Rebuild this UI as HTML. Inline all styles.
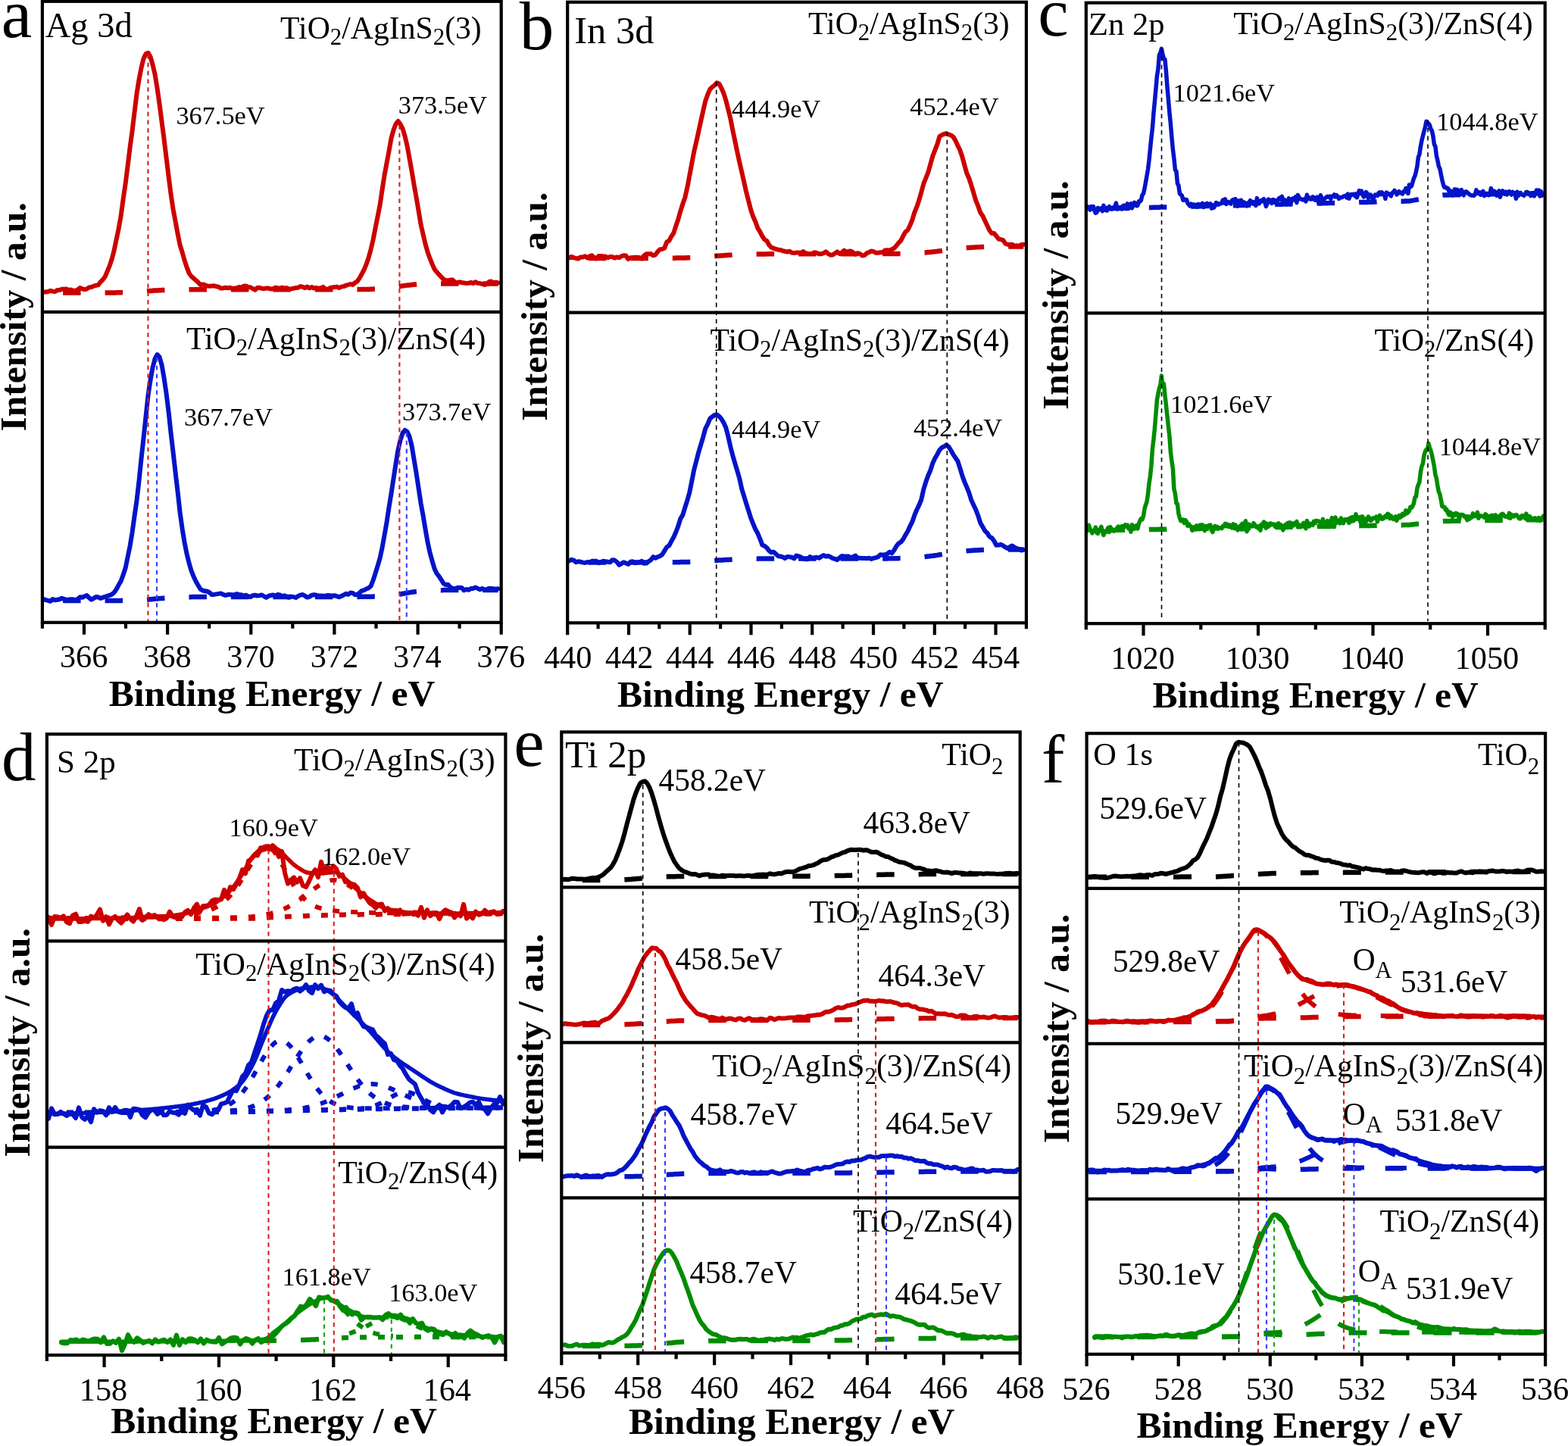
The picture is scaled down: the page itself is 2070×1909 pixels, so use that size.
<!DOCTYPE html>
<html><head><meta charset="utf-8"><title>XPS spectra</title><style>html,body{margin:0;padding:0;background:#fff;overflow:hidden}svg{display:block}</style></head><body><svg width="2070" height="1909" viewBox="0 0 2070 1909" font-family="'Liberation Serif', 'Times New Roman', serif"><rect width="2070" height="1909" fill="#fff"/>
<path d="M57.6 386.5L59.6 386.5L61.6 386.5L63.6 386.5L65.6 386.5L67.6 386.5L69.6 386.5L71.6 386.5L73.6 386.5L75.6 386.5L77.6 386.5L79.6 386.5L81.6 386.5L83.6 386.5L85.6 386.5L87.6 386.5L89.6 386.5L91.6 386.5L93.6 386.5L95.6 386.5L97.6 386.5L99.6 386.5L101.6 386.5L103.6 386.5L105.6 386.5L107.6 386.5L109.6 386.5L111.6 386.5L113.6 386.5L115.6 386.5L117.6 386.5L119.6 386.5L121.6 386.5L123.6 386.5L125.6 386.5L127.6 386.5L129.6 386.5L131.6 386.5L133.6 386.5L135.6 386.5L137.6 386.5L139.6 386.5L141.6 386.4L143.6 386.4L145.6 386.4L147.6 386.4L149.6 386.4L151.6 386.4L153.6 386.3L155.6 386.3L157.6 386.2L159.6 386.2L161.6 386.1L163.6 386.1L165.6 386L167.6 385.9L169.6 385.9L171.6 385.8L173.6 385.7L175.6 385.6L177.6 385.5L179.6 385.3L181.6 385.2L183.6 385.1L185.6 384.9L187.6 384.8L189.6 384.7L191.6 384.5L193.6 384.4L195.6 384.2L197.6 384.1L199.6 383.9L201.6 383.8L203.6 383.6L205.6 383.5L207.6 383.4L209.6 383.3L211.6 383.2L213.6 383.1L215.6 383L217.6 382.9L219.6 382.8L221.6 382.7L223.6 382.7L225.6 382.6L227.6 382.5L229.6 382.5L231.6 382.5L233.6 382.4L235.6 382.4L237.6 382.4L239.6 382.3L241.6 382.3L243.6 382.3L245.6 382.3L247.6 382.3L249.6 382.3L251.6 382.3L253.6 382.3L255.6 382.2L257.6 382.2L259.6 382.2L261.6 382.2L263.6 382.2L265.6 382.2L267.6 382.2L269.6 382.2L271.6 382.2L273.6 382.2L275.6 382.2L277.6 382.2L279.6 382.2L281.6 382.2L283.6 382.2L285.6 382.2L287.6 382.2L289.6 382.2L291.6 382.2L293.6 382.2L295.6 382.2L297.6 382.2L299.6 382.2L301.6 382.2L303.6 382.2L305.6 382.2L307.6 382.2L309.6 382.2L311.6 382.2L313.6 382.2L315.6 382.2L317.6 382.2L319.6 382.2L321.6 382.2L323.6 382.2L325.6 382.2L327.6 382.2L329.6 382.2L331.6 382.2L333.6 382.2L335.6 382.2L337.6 382.2L339.6 382.2L341.6 382.2L343.6 382.2L345.6 382.2L347.6 382.2L349.6 382.2L351.6 382.2L353.6 382.2L355.6 382.2L357.6 382.2L359.6 382.2L361.6 382.2L363.6 382.2L365.6 382.2L367.6 382.2L369.6 382.2L371.6 382.2L373.6 382.2L375.6 382.2L377.6 382.2L379.6 382.2L381.6 382.2L383.6 382.2L385.6 382.2L387.6 382.2L389.6 382.2L391.6 382.2L393.6 382.2L395.6 382.2L397.6 382.2L399.6 382.2L401.6 382.2L403.6 382.2L405.6 382.2L407.6 382.2L409.6 382.2L411.6 382.2L413.6 382.2L415.6 382.2L417.6 382.2L419.6 382.2L421.6 382.2L423.6 382.2L425.6 382.2L427.6 382.2L429.6 382.2L431.6 382.2L433.6 382.2L435.6 382.2L437.6 382.2L439.6 382.2L441.6 382.2L443.6 382.2L445.6 382.2L447.6 382.2L449.6 382.2L451.6 382.2L453.6 382.2L455.6 382.2L457.6 382.2L459.6 382.2L461.6 382.2L463.6 382.2L465.6 382.2L467.6 382.2L469.6 382.2L471.6 382.2L473.6 382.1L475.6 382.1L477.6 382.1L479.6 382.1L481.6 382L483.6 382L485.6 381.9L487.6 381.9L489.6 381.8L491.6 381.7L493.6 381.6L495.6 381.5L497.6 381.4L499.6 381.3L501.6 381.1L503.6 381L505.6 380.8L507.6 380.6L509.6 380.4L511.6 380.1L513.6 379.9L515.6 379.6L517.6 379.4L519.6 379.1L521.6 378.8L523.6 378.5L525.6 378.2L527.6 377.9L529.6 377.7L531.6 377.4L533.6 377.1L535.6 376.9L537.6 376.6L539.6 376.4L541.6 376.2L543.6 376L545.6 375.8L547.6 375.6L549.6 375.5L551.6 375.3L553.6 375.2L555.6 375.1L557.6 375L559.6 374.9L561.6 374.9L563.6 374.8L565.6 374.8L567.6 374.7L569.6 374.7L571.6 374.6L573.6 374.6L575.6 374.6L577.6 374.6L579.6 374.6L581.6 374.6L583.6 374.6L585.6 374.5L587.6 374.5L589.6 374.5L591.6 374.5L593.6 374.5L595.6 374.5L597.6 374.5L599.6 374.5L601.6 374.5L603.6 374.5L605.6 374.5L607.6 374.5L609.6 374.5L611.6 374.5L613.6 374.5L615.6 374.5L617.6 374.5L619.6 374.5L621.6 374.5L623.6 374.5L625.6 374.5L627.6 374.5L629.6 374.5L631.6 374.5L633.6 374.5L635.6 374.5L637.6 374.5L639.6 374.5L641.6 374.5L643.6 374.5L645.6 374.5L647.6 374.5L649.6 374.5L651.6 374.5L653.6 374.5L655.6 374.5L657.6 374.5" fill="none" stroke="#cc0000" stroke-width="6.5" stroke-linejoin="round" stroke-linecap="butt" stroke-dasharray="23.5 32" stroke-dashoffset="30"/>
<path d="M57.6 385.5L60.6 385.5L63.6 384.8L66.6 383.8L69.6 384.6L72.6 385L75.6 383.1L78.6 383L81.6 381.7L84.6 381.7L87.6 381.6L90.6 382.9L93.6 382.4L96.6 383.7L99.6 383.7L102.6 382.4L105.6 380L108.6 381.4L111.6 382.2L114.6 381.5L117.6 379.4L120.6 379.1L123.6 377.7L126.6 376.8L129.6 376.4L132.6 372.3L135.6 369.3L138.6 365.5L141.6 358.4L144.6 351.1L147.6 342.3L150.6 330.7L153.6 316.3L156.6 302.2L159.6 285.3L162.6 263.1L165.6 242.9L168.6 219.2L171.6 194.6L174.6 172.6L177.6 147.6L180.6 123.2L183.6 104.6L186.6 89.2L189.6 77.1L192.6 71.1L195.6 69.8L198.6 75.2L201.6 85.6L204.6 98.2L207.6 116.8L210.6 137.7L213.6 161L216.6 183.9L219.6 208.4L222.6 232.8L225.6 256.3L228.6 276.5L231.6 292.3L234.6 308.6L237.6 323.5L240.6 333L243.6 343.8L246.6 352.8L249.6 360.6L252.6 364.9L255.6 367.4L258.6 370L261.6 372.8L264.6 376L267.6 375.5L270.6 376.2L273.6 377.5L276.6 377.7L279.6 377.6L282.6 377.2L285.6 378.3L288.6 378.8L291.6 380.6L294.6 380.4L297.6 379.8L300.6 380.3L303.6 379.8L306.6 380.9L309.6 380.4L312.6 380.3L315.6 378.9L318.6 379.7L321.6 377.8L324.6 377.4L327.6 379.1L330.6 379.3L333.6 381L336.6 382.8L339.6 380L342.6 379.7L345.6 380.8L348.6 381.2L351.6 380.5L354.6 380.6L357.6 381.6L360.6 381.2L363.6 379.7L366.6 380.3L369.6 380.4L372.6 379.6L375.6 380.5L378.6 380.1L381.6 381.6L384.6 381.2L387.6 380.7L390.6 380L393.6 379.8L396.6 378L399.6 378.9L402.6 380.1L405.6 378.5L408.6 380.4L411.6 379L414.6 380.6L417.6 379.9L420.6 381L423.6 380.2L426.6 378.9L429.6 381.5L432.6 382L435.6 380.2L438.6 379.4L441.6 379.1L444.6 378.6L447.6 380.1L450.6 378.6L453.6 378.1L456.6 376.9L459.6 376L462.6 375L465.6 375.9L468.6 373.4L471.6 371.5L474.6 367.1L477.6 361.7L480.6 356.1L483.6 348.8L486.6 340.3L489.6 329.3L492.6 316.4L495.6 300.9L498.6 285.8L501.6 270.6L504.6 250.3L507.6 231.1L510.6 214.8L513.6 199L516.6 182.1L519.6 171.4L522.6 163.6L525.6 160L528.6 164L531.6 170.1L534.6 179.9L537.6 192.7L540.6 209.4L543.6 226L546.6 243.9L549.6 260.7L552.6 278.2L555.6 296.4L558.6 309.6L561.6 322.4L564.6 332.9L567.6 341.2L570.6 348.6L573.6 355.4L576.6 359.2L579.6 362.6L582.6 365.7L585.6 368.9L588.6 370L591.6 370.2L594.6 369.6L597.6 369.6L600.6 372.4L603.6 373.1L606.6 372.3L609.6 373L612.6 373.6L615.6 373.9L618.6 373.8L621.6 372.9L624.6 374.1L627.6 372.2L630.6 373.8L633.6 374.1L636.6 374.8L639.6 376L642.6 375.1L645.6 372L648.6 371.4L651.6 373.6L654.6 372.5L657.6 373.4" fill="none" stroke="#cc0000" stroke-width="6.0" stroke-linejoin="round" stroke-linecap="round"/>
<path d="M57.6 793L59.6 793L61.6 793L63.6 793L65.6 793L67.6 793L69.6 793L71.6 793L73.6 793L75.6 793L77.6 793L79.6 793L81.6 793L83.6 793L85.6 793L87.6 793L89.6 793L91.6 793L93.6 793L95.6 793L97.6 793L99.6 793L101.6 793L103.6 793L105.6 793L107.6 793L109.6 793L111.6 793L113.6 793L115.6 793L117.6 793L119.6 793L121.6 793L123.6 793L125.6 793L127.6 793L129.6 793L131.6 793L133.6 793L135.6 792.9L137.6 792.9L139.6 792.9L141.6 792.9L143.6 792.9L145.6 792.9L147.6 792.9L149.6 792.9L151.6 792.9L153.6 792.9L155.6 792.9L157.6 792.9L159.6 792.9L161.6 792.8L163.6 792.8L165.6 792.8L167.6 792.8L169.6 792.7L171.6 792.7L173.6 792.6L175.6 792.6L177.6 792.5L179.6 792.5L181.6 792.4L183.6 792.3L185.6 792.2L187.6 792.1L189.6 791.9L191.6 791.8L193.6 791.7L195.6 791.5L197.6 791.3L199.6 791.2L201.6 791L203.6 790.8L205.6 790.6L207.6 790.4L209.6 790.2L211.6 790.1L213.6 789.9L215.6 789.7L217.6 789.5L219.6 789.4L221.6 789.2L223.6 789.1L225.6 789L227.6 788.9L229.6 788.8L231.6 788.7L233.6 788.6L235.6 788.5L237.6 788.4L239.6 788.4L241.6 788.3L243.6 788.3L245.6 788.2L247.6 788.2L249.6 788.2L251.6 788.2L253.6 788.1L255.6 788.1L257.6 788.1L259.6 788.1L261.6 788.1L263.6 788.1L265.6 788.1L267.6 788.1L269.6 788.1L271.6 788.1L273.6 788.1L275.6 788.1L277.6 788.1L279.6 788.1L281.6 788.1L283.6 788L285.6 788L287.6 788L289.6 788L291.6 788L293.6 788L295.6 788L297.6 788L299.6 788L301.6 788L303.6 788L305.6 788L307.6 788L309.6 788L311.6 788L313.6 788L315.6 788L317.6 788L319.6 788L321.6 788L323.6 788L325.6 788L327.6 788L329.6 788L331.6 788L333.6 788L335.6 788L337.6 788L339.6 788L341.6 788L343.6 788L345.6 788L347.6 788L349.6 788L351.6 788L353.6 788L355.6 788L357.6 788L359.6 788L361.6 788L363.6 788L365.6 788L367.6 788L369.6 788L371.6 788L373.6 788L375.6 788L377.6 788L379.6 788L381.6 788L383.6 788L385.6 788L387.6 788L389.6 788L391.6 788L393.6 788L395.6 788L397.6 788L399.6 788L401.6 788L403.6 788L405.6 788L407.6 788L409.6 788L411.6 788L413.6 788L415.6 787.9L417.6 787.9L419.6 787.9L421.6 787.9L423.6 787.9L425.6 787.9L427.6 787.9L429.6 787.9L431.6 787.9L433.6 787.9L435.6 787.9L437.6 787.9L439.6 787.9L441.6 787.9L443.6 787.9L445.6 787.9L447.6 787.9L449.6 787.9L451.6 787.9L453.6 787.9L455.6 787.9L457.6 787.9L459.6 787.9L461.6 787.9L463.6 787.9L465.6 787.9L467.6 787.9L469.6 787.9L471.6 787.9L473.6 787.9L475.6 787.8L477.6 787.8L479.6 787.8L481.6 787.8L483.6 787.8L485.6 787.8L487.6 787.8L489.6 787.7L491.6 787.7L493.6 787.6L495.6 787.6L497.6 787.5L499.6 787.5L501.6 787.4L503.6 787.3L505.6 787.2L507.6 787L509.6 786.9L511.6 786.7L513.6 786.5L515.6 786.3L517.6 786.1L519.6 785.8L521.6 785.5L523.6 785.2L525.6 784.9L527.6 784.5L529.6 784.2L531.6 783.8L533.6 783.5L535.6 783.1L537.6 782.8L539.6 782.4L541.6 782.1L543.6 781.7L545.6 781.4L547.6 781.2L549.6 780.9L551.6 780.7L553.6 780.4L555.6 780.2L557.6 780.1L559.6 779.9L561.6 779.8L563.6 779.7L565.6 779.6L567.6 779.5L569.6 779.4L571.6 779.3L573.6 779.3L575.6 779.3L577.6 779.2L579.6 779.2L581.6 779.2L583.6 779.2L585.6 779.1L587.6 779.1L589.6 779.1L591.6 779.1L593.6 779.1L595.6 779.1L597.6 779.1L599.6 779.1L601.6 779.1L603.6 779.1L605.6 779.1L607.6 779.1L609.6 779.1L611.6 779.1L613.6 779L615.6 779L617.6 779L619.6 779L621.6 779L623.6 779L625.6 779L627.6 779L629.6 779L631.6 779L633.6 779L635.6 779L637.6 779L639.6 779L641.6 779L643.6 779L645.6 779L647.6 779L649.6 779L651.6 779L653.6 779L655.6 779L657.6 779" fill="none" stroke="#0414c8" stroke-width="6.5" stroke-linejoin="round" stroke-linecap="butt" stroke-dasharray="23.5 32" stroke-dashoffset="30"/>
<path d="M57.6 791.2L60.6 792.2L63.6 792.9L66.6 793.8L69.6 791L72.6 792.3L75.6 791.8L78.6 791.2L81.6 789.8L84.6 790.8L87.6 792.1L90.6 791.5L93.6 791.3L96.6 791.2L99.6 792.3L102.6 790.7L105.6 788.2L108.6 788.8L111.6 787.3L114.6 786.1L117.6 789.2L120.6 791.5L123.6 790L126.6 788.1L129.6 788.3L132.6 790L135.6 788.9L138.6 787.8L141.6 786.8L144.6 785.8L147.6 784.8L150.6 782.2L153.6 778L156.6 772.3L159.6 767.3L162.6 759L165.6 750L168.6 735.5L171.6 720.8L174.6 702.7L177.6 681L180.6 660.2L183.6 634.2L186.6 604.9L189.6 577.6L192.6 549.4L195.6 521.3L198.6 501.6L201.6 484.9L204.6 473.4L207.6 468.1L210.6 471.5L213.6 482L216.6 499.3L219.6 519.5L222.6 543.9L225.6 571.7L228.6 597.4L231.6 623.9L234.6 649.2L237.6 676.4L240.6 697.9L243.6 716.1L246.6 731.3L249.6 743.4L252.6 753.6L255.6 761.2L258.6 767.5L261.6 772.9L264.6 777.8L267.6 779.5L270.6 780.3L273.6 780.8L276.6 782.2L279.6 785.1L282.6 784.9L285.6 784.4L288.6 783.9L291.6 783.4L294.6 784.9L297.6 786L300.6 785.1L303.6 785.1L306.6 785.3L309.6 785.3L312.6 784L315.6 785L318.6 785.2L321.6 786.6L324.6 785.7L327.6 787.1L330.6 788.1L333.6 786.2L336.6 785.7L339.6 786.5L342.6 786.2L345.6 785.5L348.6 787.3L351.6 788.9L354.6 786.8L357.6 786L360.6 785.5L363.6 786.4L366.6 785L369.6 785.4L372.6 787.6L375.6 786.3L378.6 788.1L381.6 788.8L384.6 787.6L387.6 788L390.6 789L393.6 786.9L396.6 785.6L399.6 785L402.6 786.7L405.6 788.6L408.6 787.9L411.6 785.6L414.6 785.2L417.6 785.8L420.6 786.6L423.6 786.4L426.6 786.7L429.6 786.7L432.6 786L435.6 786.2L438.6 786.4L441.6 786.2L444.6 787.1L447.6 788.3L450.6 787L453.6 785.5L456.6 783.8L459.6 784.8L462.6 782.6L465.6 782.9L468.6 785.2L471.6 784.9L474.6 782.7L477.6 779.9L480.6 779.3L483.6 777.5L486.6 776.3L489.6 773.7L492.6 766L495.6 756.8L498.6 747.1L501.6 736.8L504.6 722.9L507.6 706.2L510.6 689L513.6 669.1L516.6 651L519.6 631.3L522.6 611.8L525.6 593.6L528.6 580.9L531.6 571.7L534.6 567.9L537.6 569.9L540.6 576.4L543.6 588.8L546.6 606.8L549.6 624.7L552.6 644.6L555.6 664.5L558.6 680.9L561.6 699L564.6 716L567.6 729.8L570.6 740.6L573.6 750.9L576.6 757.2L579.6 760.9L582.6 765.5L585.6 770.4L588.6 772.1L591.6 771.8L594.6 775.7L597.6 776.7L600.6 777.4L603.6 776.1L606.6 775.8L609.6 776.1L612.6 779.4L615.6 778L618.6 778.8L621.6 777.1L624.6 776.9L627.6 775.5L630.6 776.9L633.6 778.3L636.6 776.9L639.6 778.7L642.6 778.2L645.6 776.7L648.6 776.9L651.6 777.3L654.6 777.7L657.6 777.2" fill="none" stroke="#0414c8" stroke-width="6.0" stroke-linejoin="round" stroke-linecap="round"/>
<line x1="195.5" y1="72" x2="195.5" y2="820" stroke="#d42020" stroke-width="2.1" stroke-dasharray="5.8 5"/>
<line x1="527.4" y1="165" x2="527.4" y2="820" stroke="#d42020" stroke-width="2.1" stroke-dasharray="5.8 5"/>
<line x1="207" y1="472" x2="207" y2="820" stroke="#3c3cff" stroke-width="2.1" stroke-dasharray="5.8 5"/>
<line x1="536.8" y1="571" x2="536.8" y2="820" stroke="#3c3cff" stroke-width="2.1" stroke-dasharray="5.8 5"/>
<path d="M751.3 341L753.3 341L755.3 341L757.3 341L759.3 341L761.3 341L763.3 341L765.3 341L767.3 341L769.3 341L771.3 341L773.3 341L775.3 341L777.3 341L779.3 341L781.3 341L783.3 341L785.3 341L787.3 341L789.3 341L791.3 341L793.3 341L795.3 341L797.3 341L799.3 341L801.3 340.9L803.3 340.9L805.3 340.9L807.3 340.9L809.3 340.9L811.3 340.9L813.3 340.9L815.3 340.9L817.3 340.9L819.3 340.9L821.3 340.9L823.3 340.9L825.3 340.9L827.3 340.9L829.3 340.9L831.3 340.9L833.3 340.9L835.3 340.9L837.3 340.9L839.3 340.9L841.3 340.9L843.3 340.9L845.3 340.9L847.3 340.9L849.3 340.9L851.3 340.9L853.3 340.9L855.3 340.9L857.3 340.9L859.3 340.9L861.3 340.9L863.3 340.9L865.3 340.9L867.3 340.9L869.3 340.8L871.3 340.8L873.3 340.8L875.3 340.8L877.3 340.8L879.3 340.8L881.3 340.8L883.3 340.8L885.3 340.7L887.3 340.7L889.3 340.7L891.3 340.7L893.3 340.6L895.3 340.6L897.3 340.6L899.3 340.5L901.3 340.5L903.3 340.4L905.3 340.4L907.3 340.3L909.3 340.2L911.3 340.1L913.3 340.1L915.3 340L917.3 339.9L919.3 339.8L921.3 339.7L923.3 339.5L925.3 339.4L927.3 339.3L929.3 339.2L931.3 339L933.3 338.9L935.3 338.7L937.3 338.6L939.3 338.4L941.3 338.3L943.3 338.1L945.3 338L947.3 337.8L949.3 337.7L951.3 337.5L953.3 337.4L955.3 337.2L957.3 337.1L959.3 336.9L961.3 336.8L963.3 336.7L965.3 336.6L967.3 336.4L969.3 336.3L971.3 336.2L973.3 336.1L975.3 336.1L977.3 336L979.3 335.9L981.3 335.8L983.3 335.8L985.3 335.7L987.3 335.7L989.3 335.6L991.3 335.6L993.3 335.5L995.3 335.5L997.3 335.5L999.3 335.5L1001.3 335.4L1003.3 335.4L1005.3 335.4L1007.3 335.4L1009.3 335.4L1011.3 335.4L1013.3 335.3L1015.3 335.3L1017.3 335.3L1019.3 335.3L1021.3 335.3L1023.3 335.3L1025.3 335.3L1027.3 335.3L1029.3 335.3L1031.3 335.3L1033.3 335.3L1035.3 335.3L1037.3 335.3L1039.3 335.3L1041.3 335.3L1043.3 335.3L1045.3 335.3L1047.3 335.3L1049.3 335.3L1051.3 335.3L1053.3 335.3L1055.3 335.3L1057.3 335.2L1059.3 335.2L1061.3 335.2L1063.3 335.2L1065.3 335.2L1067.3 335.2L1069.3 335.2L1071.3 335.2L1073.3 335.2L1075.3 335.2L1077.3 335.2L1079.3 335.2L1081.3 335.2L1083.3 335.2L1085.3 335.2L1087.3 335.2L1089.3 335.2L1091.3 335.2L1093.3 335.2L1095.3 335.2L1097.3 335.2L1099.3 335.2L1101.3 335.2L1103.3 335.2L1105.3 335.2L1107.3 335.2L1109.3 335.2L1111.3 335.2L1113.3 335.2L1115.3 335.2L1117.3 335.2L1119.3 335.2L1121.3 335.2L1123.3 335.2L1125.3 335.2L1127.3 335.2L1129.3 335.2L1131.3 335.1L1133.3 335.1L1135.3 335.1L1137.3 335.1L1139.3 335.1L1141.3 335.1L1143.3 335.1L1145.3 335.1L1147.3 335.1L1149.3 335.1L1151.3 335.1L1153.3 335.1L1155.3 335.1L1157.3 335.1L1159.3 335.1L1161.3 335.1L1163.3 335.1L1165.3 335.1L1167.3 335.1L1169.3 335.1L1171.3 335.1L1173.3 335L1175.3 335L1177.3 335L1179.3 335L1181.3 335L1183.3 335L1185.3 334.9L1187.3 334.9L1189.3 334.9L1191.3 334.8L1193.3 334.8L1195.3 334.8L1197.3 334.7L1199.3 334.7L1201.3 334.6L1203.3 334.5L1205.3 334.4L1207.3 334.4L1209.3 334.3L1211.3 334.2L1213.3 334L1215.3 333.9L1217.3 333.8L1219.3 333.6L1221.3 333.5L1223.3 333.3L1225.3 333.1L1227.3 332.9L1229.3 332.7L1231.3 332.5L1233.3 332.3L1235.3 332.1L1237.3 331.8L1239.3 331.6L1241.3 331.3L1243.3 331.1L1245.3 330.8L1247.3 330.5L1249.3 330.3L1251.3 330L1253.3 329.7L1255.3 329.5L1257.3 329.2L1259.3 329L1261.3 328.7L1263.3 328.5L1265.3 328.3L1267.3 328.1L1269.3 327.8L1271.3 327.6L1273.3 327.5L1275.3 327.3L1277.3 327.1L1279.3 327L1281.3 326.8L1283.3 326.7L1285.3 326.6L1287.3 326.4L1289.3 326.3L1291.3 326.2L1293.3 326.2L1295.3 326.1L1297.3 326L1299.3 325.9L1301.3 325.9L1303.3 325.8L1305.3 325.8L1307.3 325.8L1309.3 325.7L1311.3 325.7L1313.3 325.7L1315.3 325.7L1317.3 325.6L1319.3 325.6L1321.3 325.6L1323.3 325.6L1325.3 325.6L1327.3 325.6L1329.3 325.6L1331.3 325.5L1333.3 325.5L1335.3 325.5L1337.3 325.5L1339.3 325.5L1341.3 325.5L1343.3 325.5L1345.3 325.5L1347.3 325.5L1349.3 325.5L1351.3 325.5" fill="none" stroke="#cc0000" stroke-width="6.5" stroke-linejoin="round" stroke-linecap="butt" stroke-dasharray="23.5 32" stroke-dashoffset="30"/>
<path d="M751.3 340.4L754.3 338.9L757.3 340.1L760.3 341L763.3 341.7L766.3 339.5L769.3 339.5L772.3 338.2L775.3 340.4L778.3 338.4L781.3 337.3L784.3 340.1L787.3 341.5L790.3 338.1L793.3 337.9L796.3 338.4L799.3 338.5L802.3 340.2L805.3 338.9L808.3 339.1L811.3 340.6L814.3 339.4L817.3 340.2L820.3 338.3L823.3 337.2L826.3 337.5L829.3 342L832.3 340.2L835.3 340L838.3 339.8L841.3 339.8L844.3 340.2L847.3 341.6L850.3 337.4L853.3 335.3L856.3 335.3L859.3 335.1L862.3 337.3L865.3 336.4L868.3 332.1L871.3 329.3L874.3 328.9L877.3 327.4L880.3 319.4L883.3 317.8L886.3 312.1L889.3 307.7L892.3 298.2L895.3 289.7L898.3 278.8L901.3 269.3L904.3 260.9L907.3 247.7L910.3 231.7L913.3 215.8L916.3 199.9L919.3 187L922.3 173.5L925.3 159.5L928.3 146.1L931.3 133.3L934.3 124.7L937.3 117.9L940.3 114.8L943.3 112.6L946.3 109.4L949.3 110.5L952.3 116.2L955.3 123L958.3 132.4L961.3 144.3L964.3 156.4L967.3 172L970.3 186L973.3 200.6L976.3 214.4L979.3 227.4L982.3 240.6L985.3 254.1L988.3 265.8L991.3 277.3L994.3 286.1L997.3 292.8L1000.3 301.1L1003.3 305.9L1006.3 311.8L1009.3 316.2L1012.3 318L1015.3 323.5L1018.3 326.6L1021.3 327.9L1024.3 328.8L1027.3 329.7L1030.3 329.9L1033.3 331.3L1036.3 331.8L1039.3 332.6L1042.3 331.7L1045.3 333.6L1048.3 334L1051.3 333.6L1054.3 333.5L1057.3 334.1L1060.3 332L1063.3 334.3L1066.3 334.8L1069.3 334.9L1072.3 334.7L1075.3 333.3L1078.3 333.9L1081.3 335.3L1084.3 335.3L1087.3 334.2L1090.3 332.3L1093.3 335L1096.3 336.7L1099.3 336.4L1102.3 334.5L1105.3 332.4L1108.3 335.1L1111.3 333.5L1114.3 330.6L1117.3 333.3L1120.3 331.7L1123.3 331.5L1126.3 333.3L1129.3 335.8L1132.3 334.2L1135.3 335.1L1138.3 337.4L1141.3 337.1L1144.3 334.3L1147.3 333L1150.3 331.5L1153.3 332.2L1156.3 333.8L1159.3 333.8L1162.3 333.2L1165.3 333.2L1168.3 330.5L1171.3 330.3L1174.3 330.5L1177.3 329.3L1180.3 327.8L1183.3 324.5L1186.3 320.7L1189.3 317.6L1192.3 311.6L1195.3 306.3L1198.3 303.8L1201.3 297.7L1204.3 290.4L1207.3 280.4L1210.3 273.2L1213.3 264.2L1216.3 253.7L1219.3 242.4L1222.3 235.1L1225.3 227.5L1228.3 216.9L1231.3 206.1L1234.3 198.3L1237.3 190.7L1240.3 180.3L1243.3 178.2L1246.3 176.9L1249.3 176.1L1252.3 177.5L1255.3 178.6L1258.3 180.6L1261.3 185.5L1264.3 192.1L1267.3 198L1270.3 207L1273.3 218.1L1276.3 228.7L1279.3 235.5L1282.3 244.6L1285.3 254.7L1288.3 264.9L1291.3 272.2L1294.3 280.7L1297.3 284.9L1300.3 291.5L1303.3 297.7L1306.3 304.1L1309.3 308L1312.3 308L1315.3 311.4L1318.3 315.5L1321.3 316.2L1324.3 317.1L1327.3 321.7L1330.3 322.8L1333.3 323.1L1336.3 322.8L1339.3 324.7L1342.3 324.2L1345.3 325.2L1348.3 322.9L1351.3 322.8" fill="none" stroke="#cc0000" stroke-width="6.0" stroke-linejoin="round" stroke-linecap="round"/>
<path d="M751.3 742.5L753.3 742.5L755.3 742.5L757.3 742.5L759.3 742.5L761.3 742.5L763.3 742.5L765.3 742.5L767.3 742.5L769.3 742.5L771.3 742.5L773.3 742.5L775.3 742.5L777.3 742.5L779.3 742.5L781.3 742.5L783.3 742.5L785.3 742.5L787.3 742.5L789.3 742.5L791.3 742.5L793.3 742.5L795.3 742.5L797.3 742.5L799.3 742.5L801.3 742.5L803.3 742.5L805.3 742.5L807.3 742.5L809.3 742.5L811.3 742.5L813.3 742.5L815.3 742.5L817.3 742.5L819.3 742.5L821.3 742.5L823.3 742.5L825.3 742.5L827.3 742.5L829.3 742.5L831.3 742.5L833.3 742.5L835.3 742.5L837.3 742.5L839.3 742.5L841.3 742.5L843.3 742.5L845.3 742.5L847.3 742.5L849.3 742.5L851.3 742.5L853.3 742.5L855.3 742.5L857.3 742.5L859.3 742.5L861.3 742.5L863.3 742.5L865.3 742.5L867.3 742.4L869.3 742.4L871.3 742.4L873.3 742.4L875.3 742.4L877.3 742.4L879.3 742.4L881.3 742.4L883.3 742.4L885.3 742.3L887.3 742.3L889.3 742.3L891.3 742.3L893.3 742.3L895.3 742.2L897.3 742.2L899.3 742.1L901.3 742.1L903.3 742L905.3 742L907.3 741.9L909.3 741.9L911.3 741.8L913.3 741.7L915.3 741.6L917.3 741.6L919.3 741.5L921.3 741.4L923.3 741.3L925.3 741.2L927.3 741L929.3 740.9L931.3 740.8L933.3 740.7L935.3 740.6L937.3 740.4L939.3 740.3L941.3 740.2L943.3 740L945.3 739.9L947.3 739.7L949.3 739.6L951.3 739.5L953.3 739.4L955.3 739.2L957.3 739.1L959.3 739L961.3 738.9L963.3 738.8L965.3 738.7L967.3 738.6L969.3 738.5L971.3 738.4L973.3 738.3L975.3 738.2L977.3 738.1L979.3 738.1L981.3 738L983.3 738L985.3 737.9L987.3 737.9L989.3 737.8L991.3 737.8L993.3 737.7L995.3 737.7L997.3 737.7L999.3 737.7L1001.3 737.6L1003.3 737.6L1005.3 737.6L1007.3 737.6L1009.3 737.6L1011.3 737.6L1013.3 737.6L1015.3 737.6L1017.3 737.5L1019.3 737.5L1021.3 737.5L1023.3 737.5L1025.3 737.5L1027.3 737.5L1029.3 737.5L1031.3 737.5L1033.3 737.5L1035.3 737.5L1037.3 737.5L1039.3 737.5L1041.3 737.5L1043.3 737.5L1045.3 737.5L1047.3 737.5L1049.3 737.5L1051.3 737.5L1053.3 737.5L1055.3 737.5L1057.3 737.5L1059.3 737.5L1061.3 737.5L1063.3 737.5L1065.3 737.5L1067.3 737.5L1069.3 737.5L1071.3 737.5L1073.3 737.5L1075.3 737.5L1077.3 737.5L1079.3 737.5L1081.3 737.5L1083.3 737.5L1085.3 737.5L1087.3 737.5L1089.3 737.5L1091.3 737.5L1093.3 737.5L1095.3 737.5L1097.3 737.5L1099.3 737.5L1101.3 737.5L1103.3 737.5L1105.3 737.5L1107.3 737.5L1109.3 737.5L1111.3 737.5L1113.3 737.5L1115.3 737.5L1117.3 737.5L1119.3 737.5L1121.3 737.5L1123.3 737.5L1125.3 737.5L1127.3 737.5L1129.3 737.5L1131.3 737.4L1133.3 737.4L1135.3 737.4L1137.3 737.4L1139.3 737.4L1141.3 737.4L1143.3 737.4L1145.3 737.4L1147.3 737.4L1149.3 737.4L1151.3 737.4L1153.3 737.4L1155.3 737.4L1157.3 737.4L1159.3 737.4L1161.3 737.4L1163.3 737.4L1165.3 737.4L1167.3 737.4L1169.3 737.4L1171.3 737.4L1173.3 737.3L1175.3 737.3L1177.3 737.3L1179.3 737.3L1181.3 737.2L1183.3 737.2L1185.3 737.2L1187.3 737.1L1189.3 737.1L1191.3 737L1193.3 737L1195.3 736.9L1197.3 736.8L1199.3 736.7L1201.3 736.7L1203.3 736.5L1205.3 736.4L1207.3 736.3L1209.3 736.2L1211.3 736L1213.3 735.8L1215.3 735.7L1217.3 735.5L1219.3 735.3L1221.3 735L1223.3 734.8L1225.3 734.6L1227.3 734.3L1229.3 734L1231.3 733.8L1233.3 733.5L1235.3 733.2L1237.3 732.9L1239.3 732.5L1241.3 732.2L1243.3 731.9L1245.3 731.6L1247.3 731.3L1249.3 730.9L1251.3 730.6L1253.3 730.3L1255.3 730L1257.3 729.7L1259.3 729.4L1261.3 729.1L1263.3 728.8L1265.3 728.5L1267.3 728.3L1269.3 728.1L1271.3 727.8L1273.3 727.6L1275.3 727.4L1277.3 727.2L1279.3 727L1281.3 726.9L1283.3 726.7L1285.3 726.6L1287.3 726.5L1289.3 726.4L1291.3 726.3L1293.3 726.2L1295.3 726.1L1297.3 726L1299.3 725.9L1301.3 725.9L1303.3 725.8L1305.3 725.8L1307.3 725.7L1309.3 725.7L1311.3 725.7L1313.3 725.7L1315.3 725.6L1317.3 725.6L1319.3 725.6L1321.3 725.6L1323.3 725.6L1325.3 725.6L1327.3 725.6L1329.3 725.5L1331.3 725.5L1333.3 725.5L1335.3 725.5L1337.3 725.5L1339.3 725.5L1341.3 725.5L1343.3 725.5L1345.3 725.5L1347.3 725.5L1349.3 725.5L1351.3 725.5" fill="none" stroke="#0414c8" stroke-width="6.5" stroke-linejoin="round" stroke-linecap="butt" stroke-dasharray="23.5 32" stroke-dashoffset="30"/>
<path d="M751.3 740.5L754.3 738.8L757.3 739.6L760.3 742.3L763.3 741.2L766.3 741.7L769.3 742.6L772.3 743L775.3 742L778.3 742.4L781.3 740.8L784.3 740.8L787.3 740.8L790.3 743.3L793.3 742.1L796.3 740.7L799.3 741.1L802.3 741.7L805.3 742.3L808.3 739.3L811.3 739.6L814.3 741.8L817.3 745.8L820.3 744.1L823.3 742.2L826.3 743.5L829.3 744.9L832.3 741.8L835.3 741.3L838.3 743.2L841.3 742.6L844.3 742L847.3 740.9L850.3 743.8L853.3 743.5L856.3 741.2L859.3 739.2L862.3 735.2L865.3 736.7L868.3 735.2L871.3 734.1L874.3 732L877.3 727.2L880.3 722.2L883.3 720.3L886.3 714.7L889.3 709.2L892.3 702.5L895.3 694.7L898.3 684.9L901.3 679.9L904.3 670.1L907.3 660.6L910.3 650.1L913.3 635.1L916.3 619.9L919.3 608.4L922.3 596.8L925.3 586.8L928.3 576.8L931.3 565.6L934.3 559.9L937.3 552.6L940.3 550.2L943.3 548L946.3 547.5L949.3 549.5L952.3 552.9L955.3 558L958.3 564.5L961.3 576.2L964.3 589.7L967.3 601.3L970.3 611.6L973.3 621.7L976.3 632L979.3 645.6L982.3 655.3L985.3 665.1L988.3 674.7L991.3 684L994.3 691.6L997.3 698.8L1000.3 704.1L1003.3 711.3L1006.3 719.4L1009.3 720.7L1012.3 723.2L1015.3 727.1L1018.3 729.3L1021.3 728.7L1024.3 731.3L1027.3 734.2L1030.3 734.5L1033.3 735.3L1036.3 737.1L1039.3 734.9L1042.3 735.3L1045.3 735.7L1048.3 737.4L1051.3 733.5L1054.3 734.4L1057.3 735.6L1060.3 737.5L1063.3 738.2L1066.3 738.3L1069.3 735L1072.3 737L1075.3 736.2L1078.3 735.7L1081.3 736.8L1084.3 734.7L1087.3 733L1090.3 734.7L1093.3 734L1096.3 735.3L1099.3 737.1L1102.3 737.9L1105.3 739.1L1108.3 736.4L1111.3 734L1114.3 734.6L1117.3 734.5L1120.3 734.6L1123.3 736.5L1126.3 735L1129.3 733.6L1132.3 736.8L1135.3 736.7L1138.3 737L1141.3 736.9L1144.3 737.2L1147.3 736.8L1150.3 737.9L1153.3 736.9L1156.3 736.2L1159.3 735.1L1162.3 732.2L1165.3 732.7L1168.3 732.3L1171.3 731.3L1174.3 728.8L1177.3 730.3L1180.3 726.5L1183.3 721.1L1186.3 717.3L1189.3 715.6L1192.3 711.9L1195.3 706.4L1198.3 701.5L1201.3 694.8L1204.3 688.9L1207.3 680.2L1210.3 673L1213.3 666.9L1216.3 659.5L1219.3 645.9L1222.3 636.3L1225.3 627.8L1228.3 621L1231.3 611.4L1234.3 605L1237.3 599.9L1240.3 594.2L1243.3 590.9L1246.3 589.5L1249.3 587.4L1252.3 589.6L1255.3 594.5L1258.3 599.8L1261.3 604.4L1264.3 608.8L1267.3 617.9L1270.3 628L1273.3 636.1L1276.3 643.1L1279.3 650.6L1282.3 660.3L1285.3 666.7L1288.3 673L1291.3 681L1294.3 690.4L1297.3 695.5L1300.3 700.9L1303.3 703.7L1306.3 708.5L1309.3 710.2L1312.3 714L1315.3 719.8L1318.3 719.6L1321.3 718.8L1324.3 720.4L1327.3 722.4L1330.3 724.1L1333.3 722L1336.3 720.5L1339.3 722.7L1342.3 724L1345.3 724.9L1348.3 726.6L1351.3 725.8" fill="none" stroke="#0414c8" stroke-width="6.0" stroke-linejoin="round" stroke-linecap="round"/>
<line x1="945.7" y1="108" x2="945.7" y2="820" stroke="#000000" stroke-width="1.6" stroke-dasharray="5.8 5"/>
<line x1="1250.3" y1="174" x2="1250.3" y2="820" stroke="#000000" stroke-width="1.6" stroke-dasharray="5.8 5"/>
<path d="M1435.9 276L1437.4 276L1438.9 275.9L1440.4 275.9L1441.9 275.9L1443.4 275.8L1444.9 275.8L1446.4 275.7L1447.9 275.7L1449.4 275.7L1450.9 275.6L1452.4 275.6L1453.9 275.6L1455.4 275.5L1456.9 275.5L1458.4 275.4L1459.9 275.4L1461.4 275.4L1462.9 275.3L1464.4 275.3L1465.9 275.3L1467.4 275.2L1468.9 275.2L1470.4 275.1L1471.9 275.1L1473.4 275.1L1474.9 275L1476.4 275L1477.9 275L1479.4 274.9L1480.9 274.9L1482.4 274.9L1483.9 274.8L1485.4 274.8L1486.9 274.7L1488.4 274.7L1489.9 274.7L1491.4 274.6L1492.9 274.6L1494.4 274.6L1495.9 274.5L1497.4 274.5L1498.9 274.4L1500.4 274.4L1501.9 274.4L1503.4 274.3L1504.9 274.3L1506.4 274.3L1507.9 274.2L1509.4 274.2L1510.9 274.1L1512.4 274.1L1513.9 274.1L1515.4 274L1516.9 274L1518.4 274L1519.9 273.9L1521.4 273.9L1522.9 273.8L1524.4 273.8L1525.9 273.8L1527.4 273.7L1528.9 273.7L1530.4 273.7L1531.9 273.6L1533.4 273.6L1534.9 273.6L1536.4 273.5L1537.9 273.5L1539.4 273.4L1540.9 273.4L1542.4 273.4L1543.9 273.3L1545.4 273.3L1546.9 273.3L1548.4 273.2L1549.9 273.2L1551.4 273.1L1552.9 273.1L1554.4 273.1L1555.9 273L1557.4 273L1558.9 273L1560.4 272.9L1561.9 272.9L1563.4 272.8L1564.9 272.8L1566.4 272.8L1567.9 272.7L1569.4 272.7L1570.9 272.7L1572.4 272.6L1573.9 272.6L1575.4 272.5L1576.9 272.5L1578.4 272.5L1579.9 272.4L1581.4 272.4L1582.9 272.4L1584.4 272.3L1585.9 272.3L1587.4 272.3L1588.9 272.2L1590.4 272.2L1591.9 272.1L1593.4 272.1L1594.9 272.1L1596.4 272L1597.9 272L1599.4 272L1600.9 271.9L1602.4 271.9L1603.9 271.8L1605.4 271.8L1606.9 271.8L1608.4 271.7L1609.9 271.7L1611.4 271.7L1612.9 271.6L1614.4 271.6L1615.9 271.5L1617.4 271.5L1618.9 271.5L1620.4 271.4L1621.9 271.4L1623.4 271.4L1624.9 271.3L1626.4 271.3L1627.9 271.2L1629.4 271.2L1630.9 271.2L1632.4 271.1L1633.9 271.1L1635.4 271.1L1636.9 271L1638.4 271L1639.9 271L1641.4 270.9L1642.9 270.9L1644.4 270.8L1645.9 270.8L1647.4 270.8L1648.9 270.7L1650.4 270.7L1651.9 270.7L1653.4 270.6L1654.9 270.6L1656.4 270.5L1657.9 270.5L1659.4 270.5L1660.9 270.4L1662.4 270.4L1663.9 270.4L1665.4 270.3L1666.9 270.3L1668.4 270.2L1669.9 270.2L1671.4 270.2L1672.9 270.1L1674.4 270.1L1675.9 270.1L1677.4 270L1678.9 270L1680.4 269.9L1681.9 269.9L1683.4 269.9L1684.9 269.8L1686.4 269.8L1687.9 269.8L1689.4 269.7L1690.9 269.7L1692.4 269.7L1693.9 269.6L1695.4 269.6L1696.9 269.5L1698.4 269.5L1699.9 269.5L1701.4 269.4L1702.9 269.4L1704.4 269.4L1705.9 269.3L1707.4 269.3L1708.9 269.2L1710.4 269.2L1711.9 269.2L1713.4 269.1L1714.9 269.1L1716.4 269.1L1717.9 269L1719.4 269L1720.9 268.9L1722.4 268.9L1723.9 268.9L1725.4 268.8L1726.9 268.8L1728.4 268.8L1729.9 268.7L1731.4 268.7L1732.9 268.6L1734.4 268.6L1735.9 268.6L1737.4 268.5L1738.9 268.5L1740.4 268.5L1741.9 268.4L1743.4 268.4L1744.9 268.4L1746.4 268.3L1747.9 268.3L1749.4 268.2L1750.9 268.2L1752.4 268.2L1753.9 268.1L1755.4 268.1L1756.9 268.1L1758.4 268L1759.9 268L1761.4 267.9L1762.9 267.9L1764.4 267.9L1765.9 267.8L1767.4 267.8L1768.9 267.8L1770.4 267.7L1771.9 267.7L1773.4 267.6L1774.9 267.6L1776.4 267.6L1777.9 267.5L1779.4 267.5L1780.9 267.5L1782.4 267.4L1783.9 267.4L1785.4 267.3L1786.9 267.3L1788.4 267.3L1789.9 267.2L1791.4 267.2L1792.9 267.2L1794.4 267.1L1795.9 267.1L1797.4 267.1L1798.9 267L1800.4 267L1801.9 266.9L1803.4 266.9L1804.9 266.9L1806.4 266.8L1807.9 266.8L1809.4 266.8L1810.9 266.7L1812.4 266.7L1813.9 266.6L1815.4 266.6L1816.9 266.6L1818.4 266.5L1819.9 266.5L1821.4 266.5L1822.9 266.4L1824.4 266.4L1825.9 266.3L1827.4 266.3L1828.9 266.3L1830.4 266.2L1831.9 266.2L1833.4 266.2L1834.9 266.1L1836.4 266.1L1837.9 266L1839.4 266L1840.9 266L1842.4 265.9L1843.9 265.9L1845.4 265.9L1846.9 265.8L1848.4 265.8L1849.9 265.8L1851.4 265.7L1852.9 265.7L1854.4 265.6L1855.9 265.6L1857.4 265.6L1858.9 265.5L1860.4 265.4L1861.9 265.2L1863.4 264.9L1864.9 264.6L1866.4 264.4L1867.9 264.1L1869.4 263.8L1870.9 263.6L1872.4 263.3L1873.9 263L1875.4 262.8L1876.9 262.5L1878.4 262.2L1879.9 262L1881.4 261.7L1882.9 261.4L1884.4 261.2L1885.9 260.9L1887.4 260.6L1888.9 260.4L1890.4 260.1L1891.9 259.8L1893.4 259.6L1894.9 259.3L1896.4 259L1897.9 258.8L1899.4 258.5L1900.9 258.2L1902.4 258L1903.9 257.7L1905.4 257.5L1906.9 257.5L1908.4 257.4L1909.9 257.4L1911.4 257.4L1912.9 257.4L1914.4 257.3L1915.9 257.3L1917.4 257.3L1918.9 257.2L1920.4 257.2L1921.9 257.2L1923.4 257.2L1924.9 257.1L1926.4 257.1L1927.9 257.1L1929.4 257L1930.9 257L1932.4 257L1933.9 257L1935.4 256.9L1936.9 256.9L1938.4 256.9L1939.9 256.9L1941.4 256.8L1942.9 256.8L1944.4 256.8L1945.9 256.7L1947.4 256.7L1948.9 256.7L1950.4 256.7L1951.9 256.6L1953.4 256.6L1954.9 256.6L1956.4 256.5L1957.9 256.5L1959.4 256.5L1960.9 256.5L1962.4 256.4L1963.9 256.4L1965.4 256.4L1966.9 256.4L1968.4 256.3L1969.9 256.3L1971.4 256.3L1972.9 256.2L1974.4 256.2L1975.9 256.2L1977.4 256.2L1978.9 256.1L1980.4 256.1L1981.9 256.1L1983.4 256L1984.9 256L1986.4 256L1987.9 256L1989.4 255.9L1990.9 255.9L1992.4 255.9L1993.9 255.9L1995.4 255.8L1996.9 255.8L1998.4 255.8L1999.9 255.7L2001.4 255.7L2002.9 255.7L2004.4 255.7L2005.9 255.6L2007.4 255.6L2008.9 255.6L2010.4 255.5L2011.9 255.5L2013.4 255.5L2014.9 255.5L2016.4 255.4L2017.9 255.4L2019.4 255.4L2020.9 255.4L2022.4 255.3L2023.9 255.3L2025.4 255.3L2026.9 255.2L2028.4 255.2L2029.9 255.2L2031.4 255.2L2032.9 255.1L2034.4 255.1L2035.9 255.1L2037.4 255" fill="none" stroke="#0414c8" stroke-width="6.5" stroke-linejoin="round" stroke-linecap="butt" stroke-dasharray="23.5 32" stroke-dashoffset="30"/>
<path d="M1435.9 273L1437.4 274.8L1438.9 277.1L1440.4 272.6L1441.9 275.7L1443.4 272.5L1444.9 278.1L1446.4 281.2L1447.9 280.3L1449.4 274.5L1450.9 276.9L1452.4 275.2L1453.9 275.1L1455.4 278.8L1456.9 271.3L1458.4 277.3L1459.9 274.4L1461.4 278.1L1462.9 274.9L1464.4 272.6L1465.9 275L1467.4 276.1L1468.9 274.2L1470.4 275.2L1471.9 272.5L1473.4 268.2L1474.9 276L1476.4 275.4L1477.9 273.9L1479.4 273.6L1480.9 275.9L1482.4 271.9L1483.9 271.1L1485.4 272.3L1486.9 275.7L1488.4 268.9L1489.9 275.4L1491.4 270.4L1492.9 269L1494.4 274.8L1495.9 270.9L1497.4 267.3L1498.9 269.2L1500.4 271.8L1501.9 271.4L1503.4 265.8L1504.9 266.1L1506.4 264.4L1507.9 257.6L1509.4 255.8L1510.9 249.4L1512.4 241.2L1513.9 232.8L1515.4 224.1L1516.9 212.1L1518.4 196.9L1519.9 182.1L1521.4 169.6L1522.9 149.9L1524.4 134.1L1525.9 117.8L1527.4 100.4L1528.9 91.1L1530.4 72.4L1531.9 69.8L1533.4 64.3L1534.9 71.8L1536.4 77.7L1537.9 78.3L1539.4 94.1L1540.9 113.8L1542.4 131.1L1543.9 148.4L1545.4 163.6L1546.9 181.5L1548.4 197.4L1549.9 209.3L1551.4 224.2L1552.9 226L1554.4 242.1L1555.9 244.8L1557.4 255.6L1558.9 256.9L1560.4 258.5L1561.9 264.3L1563.4 262.8L1564.9 264.2L1566.4 263.5L1567.9 268.2L1569.4 270.1L1570.9 271.9L1572.4 269.2L1573.9 272.5L1575.4 270L1576.9 269.9L1578.4 271.7L1579.9 273.1L1581.4 269.5L1582.9 269.9L1584.4 270.1L1585.9 270.8L1587.4 268.3L1588.9 273.4L1590.4 269.7L1591.9 271.8L1593.4 268.3L1594.9 271.3L1596.4 271.2L1597.9 269L1599.4 275.2L1600.9 270.8L1602.4 274.3L1603.9 272L1605.4 267.6L1606.9 268.2L1608.4 270.2L1609.9 269L1611.4 268.9L1612.9 268L1614.4 264L1615.9 268L1617.4 262.8L1618.9 269.5L1620.4 266.6L1621.9 266.6L1623.4 267.8L1624.9 269L1626.4 264.5L1627.9 263.6L1629.4 265.3L1630.9 262.7L1632.4 265.5L1633.9 272.1L1635.4 265.1L1636.9 269.5L1638.4 264.2L1639.9 268.4L1641.4 266.8L1642.9 267.4L1644.4 269L1645.9 272L1647.4 267.9L1648.9 267.6L1650.4 264.7L1651.9 268.6L1653.4 266.4L1654.9 269.1L1656.4 266.8L1657.9 271.3L1659.4 261.6L1660.9 265.9L1662.4 268.9L1663.9 265.6L1665.4 264.4L1666.9 265.7L1668.4 262.7L1669.9 266.6L1671.4 272.5L1672.9 269.1L1674.4 263.1L1675.9 263.7L1677.4 264.8L1678.9 268.4L1680.4 263.6L1681.9 263.9L1683.4 267.9L1684.9 267.8L1686.4 264.4L1687.9 262.4L1689.4 261.2L1690.9 263.3L1692.4 259.3L1693.9 267L1695.4 263.3L1696.9 266.2L1698.4 269.7L1699.9 267.8L1701.4 261.7L1702.9 266.8L1704.4 267.4L1705.9 262.4L1707.4 261.7L1708.9 263.8L1710.4 259.8L1711.9 267.6L1713.4 257.5L1714.9 260.7L1716.4 262.8L1717.9 262.8L1719.4 263.7L1720.9 263.9L1722.4 262.5L1723.9 265.9L1725.4 257.3L1726.9 262.7L1728.4 260.8L1729.9 262.9L1731.4 263L1732.9 259.9L1734.4 260.5L1735.9 264.1L1737.4 262.9L1738.9 260.1L1740.4 267.1L1741.9 267.6L1743.4 257.7L1744.9 262.2L1746.4 267.8L1747.9 263.2L1749.4 261.6L1750.9 260.4L1752.4 259.4L1753.9 260.2L1755.4 259.2L1756.9 262.4L1758.4 259.3L1759.9 259.1L1761.4 257L1762.9 259.9L1764.4 257.6L1765.9 259.3L1767.4 262.4L1768.9 260.5L1770.4 260.8L1771.9 260.3L1773.4 259.4L1774.9 258.8L1776.4 258.2L1777.9 260.8L1779.4 256L1780.9 262.1L1782.4 258.6L1783.9 256.5L1785.4 257L1786.9 256.4L1788.4 258.5L1789.9 256.1L1791.4 260.8L1792.9 255.7L1794.4 251.7L1795.9 255.5L1797.4 252.1L1798.9 257.1L1800.4 259.9L1801.9 258.8L1803.4 253.6L1804.9 255.1L1806.4 261.6L1807.9 257.8L1809.4 257L1810.9 259.7L1812.4 263.3L1813.9 260.2L1815.4 257.1L1816.9 257.7L1818.4 258.3L1819.9 255L1821.4 253.8L1822.9 256.7L1824.4 254L1825.9 256.3L1827.4 256.7L1828.9 262.4L1830.4 254.1L1831.9 255.9L1833.4 255.7L1834.9 257.2L1836.4 258.8L1837.9 254.7L1839.4 253.7L1840.9 251.5L1842.4 253.3L1843.9 257L1845.4 255.6L1846.9 252.7L1848.4 254.2L1849.9 255.1L1851.4 256L1852.9 252.8L1854.4 253.2L1855.9 248.6L1857.4 249.5L1858.9 255.5L1860.4 244.1L1861.9 246.8L1863.4 245.7L1864.9 240.8L1866.4 235.5L1867.9 232.4L1869.4 226.7L1870.9 219.7L1872.4 207.5L1873.9 203.8L1875.4 193.5L1876.9 185.7L1878.4 179.7L1879.9 173.5L1881.4 168.2L1882.9 160.4L1884.4 162L1885.9 162.9L1887.4 165.2L1888.9 170.4L1890.4 172.6L1891.9 179.9L1893.4 190.6L1894.9 193.4L1896.4 205.9L1897.9 212L1899.4 219.7L1900.9 222.7L1902.4 230.6L1903.9 237.6L1905.4 243.9L1906.9 247.3L1908.4 247L1909.9 248.6L1911.4 248.4L1912.9 252.6L1914.4 251.7L1915.9 254.5L1917.4 257.9L1918.9 253.5L1920.4 249.9L1921.9 251.7L1923.4 250.3L1924.9 251.1L1926.4 257.7L1927.9 254.9L1929.4 250.5L1930.9 256.2L1932.4 257.8L1933.9 253.6L1935.4 252.8L1936.9 253.8L1938.4 255.4L1939.9 256.4L1941.4 257.8L1942.9 257.9L1944.4 257.9L1945.9 258.4L1947.4 256.5L1948.9 250.9L1950.4 254.5L1951.9 255.7L1953.4 253.9L1954.9 257.3L1956.4 254L1957.9 252.5L1959.4 258.7L1960.9 256.7L1962.4 255.5L1963.9 257.4L1965.4 257.7L1966.9 255.8L1968.4 248.6L1969.9 253.2L1971.4 253.8L1972.9 252.4L1974.4 255.5L1975.9 258.1L1977.4 253.7L1978.9 252L1980.4 260.2L1981.9 253.8L1983.4 251.8L1984.9 255.6L1986.4 256.1L1987.9 253.2L1989.4 257L1990.9 253.7L1992.4 252.6L1993.9 255.4L1995.4 257L1996.9 253.3L1998.4 255.8L1999.9 254.8L2001.4 262.3L2002.9 253.2L2004.4 258.6L2005.9 254.8L2007.4 254.6L2008.9 256.8L2010.4 257.3L2011.9 258.3L2013.4 255.8L2014.9 253.4L2016.4 253.6L2017.9 256.3L2019.4 256.5L2020.9 258.6L2022.4 256.1L2023.9 257.7L2025.4 258.9L2026.9 255.4L2028.4 251.1L2029.9 251.8L2031.4 251.2L2032.9 259L2034.4 252.7L2035.9 258.1L2037.4 256.5" fill="none" stroke="#0414c8" stroke-width="5.5" stroke-linejoin="round" stroke-linecap="round"/>
<path d="M1435.9 700.5L1437.4 700.5L1438.9 700.4L1440.4 700.4L1441.9 700.4L1443.4 700.4L1444.9 700.3L1446.4 700.3L1447.9 700.3L1449.4 700.3L1450.9 700.2L1452.4 700.2L1453.9 700.2L1455.4 700.2L1456.9 700.1L1458.4 700.1L1459.9 700.1L1461.4 700.1L1462.9 700L1464.4 700L1465.9 700L1467.4 699.9L1468.9 699.9L1470.4 699.9L1471.9 699.9L1473.4 699.8L1474.9 699.8L1476.4 699.8L1477.9 699.8L1479.4 699.7L1480.9 699.7L1482.4 699.7L1483.9 699.7L1485.4 699.6L1486.9 699.6L1488.4 699.6L1489.9 699.5L1491.4 699.5L1492.9 699.5L1494.4 699.5L1495.9 699.4L1497.4 699.4L1498.9 699.4L1500.4 699.4L1501.9 699.3L1503.4 699.3L1504.9 699.3L1506.4 699.3L1507.9 699.2L1509.4 699.2L1510.9 699.2L1512.4 699.1L1513.9 699.1L1515.4 699.1L1516.9 699.1L1518.4 699L1519.9 699L1521.4 699L1522.9 699L1524.4 698.9L1525.9 698.9L1527.4 698.9L1528.9 698.9L1530.4 698.8L1531.9 698.8L1533.4 698.8L1534.9 698.8L1536.4 698.7L1537.9 698.7L1539.4 698.7L1540.9 698.6L1542.4 698.6L1543.9 698.6L1545.4 698.6L1546.9 698.5L1548.4 698.5L1549.9 698.5L1551.4 698.5L1552.9 698.4L1554.4 698.4L1555.9 698.4L1557.4 698.4L1558.9 698.3L1560.4 698.3L1561.9 698.3L1563.4 698.2L1564.9 698.2L1566.4 698.2L1567.9 698.2L1569.4 698.1L1570.9 698.1L1572.4 698.1L1573.9 698.1L1575.4 698L1576.9 698L1578.4 698L1579.9 698L1581.4 697.9L1582.9 697.9L1584.4 697.9L1585.9 697.8L1587.4 697.8L1588.9 697.8L1590.4 697.8L1591.9 697.7L1593.4 697.7L1594.9 697.7L1596.4 697.7L1597.9 697.6L1599.4 697.6L1600.9 697.6L1602.4 697.6L1603.9 697.5L1605.4 697.5L1606.9 697.5L1608.4 697.5L1609.9 697.4L1611.4 697.4L1612.9 697.4L1614.4 697.3L1615.9 697.3L1617.4 697.3L1618.9 697.3L1620.4 697.2L1621.9 697.2L1623.4 697.2L1624.9 697.2L1626.4 697.1L1627.9 697.1L1629.4 697.1L1630.9 697.1L1632.4 697L1633.9 697L1635.4 697L1636.9 696.9L1638.4 696.9L1639.9 696.9L1641.4 696.9L1642.9 696.8L1644.4 696.8L1645.9 696.8L1647.4 696.8L1648.9 696.7L1650.4 696.7L1651.9 696.7L1653.4 696.7L1654.9 696.6L1656.4 696.6L1657.9 696.6L1659.4 696.5L1660.9 696.5L1662.4 696.5L1663.9 696.5L1665.4 696.4L1666.9 696.4L1668.4 696.4L1669.9 696.4L1671.4 696.3L1672.9 696.3L1674.4 696.3L1675.9 696.3L1677.4 696.2L1678.9 696.2L1680.4 696.2L1681.9 696.2L1683.4 696.1L1684.9 696.1L1686.4 696.1L1687.9 696L1689.4 696L1690.9 696L1692.4 696L1693.9 695.9L1695.4 695.9L1696.9 695.9L1698.4 695.9L1699.9 695.8L1701.4 695.8L1702.9 695.8L1704.4 695.8L1705.9 695.7L1707.4 695.7L1708.9 695.7L1710.4 695.6L1711.9 695.6L1713.4 695.6L1714.9 695.6L1716.4 695.5L1717.9 695.5L1719.4 695.5L1720.9 695.5L1722.4 695.4L1723.9 695.4L1725.4 695.4L1726.9 695.4L1728.4 695.3L1729.9 695.3L1731.4 695.3L1732.9 695.2L1734.4 695.2L1735.9 695.2L1737.4 695.2L1738.9 695.1L1740.4 695.1L1741.9 695.1L1743.4 695.1L1744.9 695L1746.4 695L1747.9 695L1749.4 695L1750.9 694.9L1752.4 694.9L1753.9 694.9L1755.4 694.9L1756.9 694.8L1758.4 694.8L1759.9 694.8L1761.4 694.7L1762.9 694.7L1764.4 694.7L1765.9 694.7L1767.4 694.6L1768.9 694.6L1770.4 694.6L1771.9 694.6L1773.4 694.5L1774.9 694.5L1776.4 694.5L1777.9 694.5L1779.4 694.4L1780.9 694.4L1782.4 694.4L1783.9 694.3L1785.4 694.3L1786.9 694.3L1788.4 694.3L1789.9 694.2L1791.4 694.2L1792.9 694.2L1794.4 694.2L1795.9 694.1L1797.4 694.1L1798.9 694.1L1800.4 694.1L1801.9 694L1803.4 694L1804.9 694L1806.4 693.9L1807.9 693.9L1809.4 693.9L1810.9 693.9L1812.4 693.8L1813.9 693.8L1815.4 693.8L1816.9 693.8L1818.4 693.7L1819.9 693.7L1821.4 693.7L1822.9 693.7L1824.4 693.6L1825.9 693.6L1827.4 693.6L1828.9 693.6L1830.4 693.5L1831.9 693.5L1833.4 693.5L1834.9 693.4L1836.4 693.4L1837.9 693.4L1839.4 693.4L1840.9 693.3L1842.4 693.3L1843.9 693.3L1845.4 693.3L1846.9 693.2L1848.4 693.2L1849.9 693.2L1851.4 693.2L1852.9 693.1L1854.4 693.1L1855.9 693.1L1857.4 693L1858.9 693L1860.4 693L1861.9 692.8L1863.4 692.6L1864.9 692.5L1866.4 692.3L1867.9 692.1L1869.4 692L1870.9 691.8L1872.4 691.6L1873.9 691.5L1875.4 691.3L1876.9 691.1L1878.4 691L1879.9 690.8L1881.4 690.6L1882.9 690.5L1884.4 690.3L1885.9 690.1L1887.4 690L1888.9 689.8L1890.4 689.6L1891.9 689.5L1893.4 689.3L1894.9 689.1L1896.4 689L1897.9 688.8L1899.4 688.6L1900.9 688.5L1902.4 688.3L1903.9 688.1L1905.4 688L1906.9 688L1908.4 687.9L1909.9 687.9L1911.4 687.9L1912.9 687.9L1914.4 687.9L1915.9 687.8L1917.4 687.8L1918.9 687.8L1920.4 687.8L1921.9 687.7L1923.4 687.7L1924.9 687.7L1926.4 687.7L1927.9 687.7L1929.4 687.6L1930.9 687.6L1932.4 687.6L1933.9 687.6L1935.4 687.5L1936.9 687.5L1938.4 687.5L1939.9 687.5L1941.4 687.5L1942.9 687.4L1944.4 687.4L1945.9 687.4L1947.4 687.4L1948.9 687.3L1950.4 687.3L1951.9 687.3L1953.4 687.3L1954.9 687.3L1956.4 687.2L1957.9 687.2L1959.4 687.2L1960.9 687.2L1962.4 687.1L1963.9 687.1L1965.4 687.1L1966.9 687.1L1968.4 687.1L1969.9 687L1971.4 687L1972.9 687L1974.4 687L1975.9 686.9L1977.4 686.9L1978.9 686.9L1980.4 686.9L1981.9 686.9L1983.4 686.8L1984.9 686.8L1986.4 686.8L1987.9 686.8L1989.4 686.7L1990.9 686.7L1992.4 686.7L1993.9 686.7L1995.4 686.7L1996.9 686.6L1998.4 686.6L1999.9 686.6L2001.4 686.6L2002.9 686.5L2004.4 686.5L2005.9 686.5L2007.4 686.5L2008.9 686.5L2010.4 686.4L2011.9 686.4L2013.4 686.4L2014.9 686.4L2016.4 686.3L2017.9 686.3L2019.4 686.3L2020.9 686.3L2022.4 686.3L2023.9 686.2L2025.4 686.2L2026.9 686.2L2028.4 686.2L2029.9 686.1L2031.4 686.1L2032.9 686.1L2034.4 686.1L2035.9 686.1L2037.4 686" fill="none" stroke="#008c00" stroke-width="6.5" stroke-linejoin="round" stroke-linecap="butt" stroke-dasharray="23.5 32" stroke-dashoffset="30"/>
<path d="M1435.9 700.5L1437.4 693.3L1438.9 698L1440.4 700.5L1441.9 703.9L1443.4 700.6L1444.9 700.4L1446.4 696.1L1447.9 703.4L1449.4 704.3L1450.9 699.7L1452.4 698.9L1453.9 695.3L1455.4 701.7L1456.9 706.4L1458.4 701.2L1459.9 702.6L1461.4 700.6L1462.9 696.6L1464.4 702.5L1465.9 695.8L1467.4 698.4L1468.9 699.6L1470.4 701.1L1471.9 699.8L1473.4 699.6L1474.9 696.6L1476.4 695.1L1477.9 698.5L1479.4 696.4L1480.9 694.7L1482.4 694.7L1483.9 696.6L1485.4 692.9L1486.9 694.1L1488.4 693.2L1489.9 697.8L1491.4 698.2L1492.9 702.1L1494.4 692.7L1495.9 694.5L1497.4 698.2L1498.9 694.7L1500.4 693.7L1501.9 698L1503.4 691.4L1504.9 687.5L1506.4 684.7L1507.9 685.9L1509.4 681.8L1510.9 672.3L1512.4 666.8L1513.9 662.8L1515.4 653.3L1516.9 638.9L1518.4 629.2L1519.9 614.7L1521.4 593L1522.9 580.5L1524.4 565.8L1525.9 547.1L1527.4 528.1L1528.9 520L1530.4 512.7L1531.9 508.3L1533.4 496.1L1534.9 510.4L1536.4 506.6L1537.9 521.6L1539.4 534.8L1540.9 548.8L1542.4 562.6L1543.9 575.7L1545.4 596.7L1546.9 608.9L1548.4 618.7L1549.9 645.7L1551.4 651.6L1552.9 664.2L1554.4 665.3L1555.9 678.1L1557.4 683.7L1558.9 687.7L1560.4 686.8L1561.9 686.1L1563.4 690.5L1564.9 686.6L1566.4 688.8L1567.9 694.2L1569.4 691.9L1570.9 694.5L1572.4 694.9L1573.9 700.4L1575.4 699L1576.9 695.6L1578.4 699L1579.9 693.9L1581.4 695.2L1582.9 698.5L1584.4 693L1585.9 695.5L1587.4 692.9L1588.9 696.7L1590.4 700.6L1591.9 694.5L1593.4 697L1594.9 694L1596.4 693.4L1597.9 693.1L1599.4 700.1L1600.9 702.5L1602.4 697.5L1603.9 694.4L1605.4 698L1606.9 695.3L1608.4 698.2L1609.9 696.9L1611.4 696.8L1612.9 697.6L1614.4 694.5L1615.9 694.9L1617.4 691.4L1618.9 694.7L1620.4 692.1L1621.9 695.3L1623.4 693.2L1624.9 695.9L1626.4 696.8L1627.9 691.8L1629.4 693.4L1630.9 693L1632.4 697.3L1633.9 699.8L1635.4 697.5L1636.9 694.3L1638.4 699L1639.9 691.2L1641.4 698.9L1642.9 693.3L1644.4 687.7L1645.9 701.8L1647.4 698.9L1648.9 692.1L1650.4 695.1L1651.9 694.1L1653.4 694.8L1654.9 690.7L1656.4 692.7L1657.9 695.6L1659.4 694.9L1660.9 697.4L1662.4 694.5L1663.9 700.3L1665.4 692.3L1666.9 694.7L1668.4 689L1669.9 690.6L1671.4 697.3L1672.9 691.3L1674.4 695.1L1675.9 693.5L1677.4 690.9L1678.9 692.6L1680.4 692.1L1681.9 692.1L1683.4 695.3L1684.9 695L1686.4 691.7L1687.9 690.8L1689.4 693.8L1690.9 692.8L1692.4 695.6L1693.9 699.8L1695.4 695L1696.9 692.7L1698.4 692.2L1699.9 690.4L1701.4 690.1L1702.9 689.8L1704.4 691.2L1705.9 691.1L1707.4 694L1708.9 690.9L1710.4 691.3L1711.9 688.5L1713.4 695.9L1714.9 692.8L1716.4 696L1717.9 693.3L1719.4 695L1720.9 690.4L1722.4 692.8L1723.9 697.8L1725.4 687.5L1726.9 693.6L1728.4 694.9L1729.9 691.4L1731.4 692.2L1732.9 693.4L1734.4 688.2L1735.9 690.9L1737.4 687.4L1738.9 687.8L1740.4 687.8L1741.9 689L1743.4 689.7L1744.9 690.3L1746.4 685.3L1747.9 694.2L1749.4 691.9L1750.9 690.6L1752.4 687.6L1753.9 688.2L1755.4 689.8L1756.9 689.3L1758.4 683.6L1759.9 690L1761.4 695.6L1762.9 682.9L1764.4 690.3L1765.9 688.5L1767.4 687.1L1768.9 690.9L1770.4 684L1771.9 687.5L1773.4 690.8L1774.9 686.3L1776.4 685.5L1777.9 686.8L1779.4 685.3L1780.9 690.4L1782.4 683.8L1783.9 688.4L1785.4 682.6L1786.9 687.6L1788.4 685.4L1789.9 678.7L1791.4 685.4L1792.9 682.5L1794.4 684L1795.9 689.2L1797.4 682L1798.9 682L1800.4 688.6L1801.9 685L1803.4 688.7L1804.9 685.3L1806.4 682L1807.9 684.1L1809.4 687.5L1810.9 686.6L1812.4 684L1813.9 684.1L1815.4 683.5L1816.9 682.2L1818.4 688.8L1819.9 683.6L1821.4 680.4L1822.9 682.1L1824.4 685.2L1825.9 684.9L1827.4 682.7L1828.9 681.2L1830.4 682.9L1831.9 678.3L1833.4 679.1L1834.9 684.6L1836.4 681.1L1837.9 683.3L1839.4 685.4L1840.9 683.8L1842.4 682L1843.9 687.4L1845.4 683.4L1846.9 680.5L1848.4 683.1L1849.9 682L1851.4 678.4L1852.9 680.4L1854.4 679.3L1855.9 673.9L1857.4 677.8L1858.9 676.4L1860.4 674.5L1861.9 669.4L1863.4 670.3L1864.9 668.1L1866.4 664.6L1867.9 656.6L1869.4 655.7L1870.9 644.4L1872.4 640L1873.9 636.4L1875.4 623.1L1876.9 615.6L1878.4 612.2L1879.9 601.5L1881.4 596.2L1882.9 593.6L1884.4 593.9L1885.9 585.4L1887.4 591.3L1888.9 595.1L1890.4 600.7L1891.9 608.2L1893.4 615.9L1894.9 626.9L1896.4 631.6L1897.9 641.8L1899.4 649.4L1900.9 652.6L1902.4 660.2L1903.9 668.7L1905.4 668.9L1906.9 669.3L1908.4 673.2L1909.9 672.7L1911.4 677.3L1912.9 679.9L1914.4 676.2L1915.9 678.4L1917.4 682.3L1918.9 678.4L1920.4 680.4L1921.9 677.4L1923.4 678.1L1924.9 679.1L1926.4 686.2L1927.9 679.6L1929.4 679.4L1930.9 679.4L1932.4 680.6L1933.9 682.8L1935.4 681.7L1936.9 686.6L1938.4 681.9L1939.9 685.2L1941.4 682.2L1942.9 683.1L1944.4 677.9L1945.9 681.4L1947.4 681.6L1948.9 681.2L1950.4 676.3L1951.9 684.2L1953.4 681L1954.9 680.9L1956.4 681.4L1957.9 681.5L1959.4 683.2L1960.9 678.9L1962.4 679.8L1963.9 683L1965.4 682.7L1966.9 681.4L1968.4 680.9L1969.9 680.2L1971.4 682.3L1972.9 685.6L1974.4 679.8L1975.9 686.5L1977.4 684.8L1978.9 681.5L1980.4 684.7L1981.9 678.9L1983.4 678.2L1984.9 679.4L1986.4 681.7L1987.9 682L1989.4 681.5L1990.9 683.1L1992.4 677.4L1993.9 684.2L1995.4 679.3L1996.9 681.3L1998.4 682L1999.9 680.1L2001.4 679.5L2002.9 680.5L2004.4 683.2L2005.9 684.8L2007.4 684.7L2008.9 680.7L2010.4 681.2L2011.9 680.9L2013.4 684.5L2014.9 678.1L2016.4 686.6L2017.9 682.2L2019.4 681.5L2020.9 684.4L2022.4 686.2L2023.9 684.5L2025.4 686.4L2026.9 684L2028.4 686.9L2029.9 687L2031.4 683.5L2032.9 687.5L2034.4 684.2L2035.9 684L2037.4 681.5" fill="none" stroke="#008c00" stroke-width="5.5" stroke-linejoin="round" stroke-linecap="round"/>
<line x1="1533.5" y1="64" x2="1533.5" y2="820" stroke="#000000" stroke-width="1.6" stroke-dasharray="5.8 5"/>
<line x1="1885" y1="158" x2="1885" y2="820" stroke="#000000" stroke-width="1.6" stroke-dasharray="5.8 5"/>
<path d="M64 1213L66 1213L68 1213L70 1213L72 1213L74 1213L76 1213L78 1213L80 1213L82 1213L84 1213L86 1213L88 1213L90 1213L92 1213L94 1213L96 1213L98 1213L100 1213L102 1213L104 1213L106 1213L108 1213L110 1213L112 1213L114 1213L116 1213L118 1213L120 1213L122 1213L124 1213L126 1213L128 1213L130 1213L132 1213L134 1213L136 1213L138 1213L140 1213L142 1213L144 1213L146 1213L148 1213L150 1213L152 1213L154 1213L156 1213L158 1213L160 1213L162 1213L164 1213L166 1213L168 1212.9L170 1212.9L172 1212.9L174 1212.9L176 1212.9L178 1212.9L180 1212.9L182 1212.9L184 1212.9L186 1212.9L188 1212.9L190 1212.9L192 1212.9L194 1212.9L196 1212.9L198 1212.9L200 1212.9L202 1212.9L204 1212.9L206 1212.9L208 1212.9L210 1212.9L212 1212.9L214 1212.9L216 1212.9L218 1212.9L220 1212.9L222 1212.9L224 1212.9L226 1212.9L228 1212.9L230 1212.8L232 1212.8L234 1212.8L236 1212.8L238 1212.8L240 1212.8L242 1212.8L244 1212.8L246 1212.8L248 1212.8L250 1212.8L252 1212.8L254 1212.8L256 1212.8L258 1212.8L260 1212.8L262 1212.8L264 1212.8L266 1212.8L268 1212.7L270 1212.7L272 1212.7L274 1212.7L276 1212.7L278 1212.7L280 1212.7L282 1212.7L284 1212.7L286 1212.7L288 1212.7L290 1212.7L292 1212.7L294 1212.7L296 1212.6L298 1212.6L300 1212.6L302 1212.6L304 1212.6L306 1212.6L308 1212.6L310 1212.6L312 1212.6L314 1212.6L316 1212.6L318 1212.6L320 1212.5L322 1212.5L324 1212.5L326 1212.5L328 1212.5L330 1212.5L332 1212.5L334 1212.4L336 1212.4L338 1212.3L340 1212.2L342 1212.1L344 1212L346 1211.8L348 1211.7L350 1211.6L352 1211.4L354 1211.3L356 1211.2L358 1211.1L360 1211L362 1210.9L364 1210.8L366 1210.7L368 1210.7L370 1210.6L372 1210.5L374 1210.4L376 1210.3L378 1210.2L380 1210.1L382 1210L384 1210L386 1209.9L388 1209.8L390 1209.7L392 1209.6L394 1209.5L396 1209.5L398 1209.4L400 1209.3L402 1209.2L404 1209.2L406 1209.1L408 1209L410 1208.9L412 1208.9L414 1208.8L416 1208.7L418 1208.7L420 1208.6L422 1208.5L424 1208.5L426 1208.4L428 1208.3L430 1208.3L432 1208.2L434 1208.2L436 1208.1L438 1208.1L440 1208L442 1208L444 1207.9L446 1207.9L448 1207.8L450 1207.8L452 1207.7L454 1207.7L456 1207.6L458 1207.6L460 1207.5L462 1207.5L464 1207.5L466 1207.4L468 1207.4L470 1207.4L472 1207.4L474 1207.4L476 1207.3L478 1207.3L480 1207.3L482 1207.3L484 1207.3L486 1207.3L488 1207.2L490 1207.2L492 1207.2L494 1207.2L496 1207.2L498 1207.2L500 1207.2L502 1207.1L504 1207.1L506 1207.1L508 1207.1L510 1207.1L512 1207.1L514 1207.1L516 1207L518 1207L520 1207L522 1207L524 1207L526 1207L528 1207L530 1206.9L532 1206.9L534 1206.9L536 1206.9L538 1206.9L540 1206.9L542 1206.9L544 1206.9L546 1206.8L548 1206.8L550 1206.8L552 1206.8L554 1206.8L556 1206.8L558 1206.8L560 1206.8L562 1206.8L564 1206.8L566 1206.7L568 1206.7L570 1206.7L572 1206.7L574 1206.7L576 1206.7L578 1206.7L580 1206.7L582 1206.7L584 1206.7L586 1206.7L588 1206.6L590 1206.6L592 1206.6L594 1206.6L596 1206.6L598 1206.6L600 1206.6L602 1206.6L604 1206.6L606 1206.6L608 1206.6L610 1206.6L612 1206.6L614 1206.6L616 1206.6L618 1206.6L620 1206.6L622 1206.5L624 1206.5L626 1206.5L628 1206.5L630 1206.5L632 1206.5L634 1206.5L636 1206.5L638 1206.5L640 1206.5L642 1206.5L644 1206.5L646 1206.5L648 1206.5L650 1206.5L652 1206.5L654 1206.5L656 1206.5L658 1206.5L660 1206.5L662 1206.5L664 1206.5" fill="none" stroke="#cc0000" stroke-width="6.5" stroke-linejoin="round" stroke-linecap="butt" stroke-dasharray="9 15"/>
<path d="M64 1212.3L66 1212.3L68 1212.2L70 1212.2L72 1212.2L74 1212.2L76 1212.2L78 1212.2L80 1212.2L82 1212.2L84 1212.2L86 1212.1L88 1212.1L90 1212.1L92 1212.1L94 1212.1L96 1212.1L98 1212.1L100 1212L102 1212L104 1212L106 1212L108 1212L110 1212L112 1211.9L114 1211.9L116 1211.9L118 1211.9L120 1211.9L122 1211.9L124 1211.8L126 1211.8L128 1211.8L130 1211.8L132 1211.7L134 1211.7L136 1211.7L138 1211.7L140 1211.6L142 1211.6L144 1211.6L146 1211.6L148 1211.5L150 1211.5L152 1211.5L154 1211.4L156 1211.4L158 1211.4L160 1211.3L162 1211.3L164 1211.3L166 1211.2L168 1211.2L170 1211.2L172 1211.1L174 1211.1L176 1211L178 1211L180 1210.9L182 1210.9L184 1210.8L186 1210.8L188 1210.7L190 1210.7L192 1210.6L194 1210.6L196 1210.5L198 1210.5L200 1210.4L202 1210.3L204 1210.3L206 1210.2L208 1210.1L210 1210L212 1209.9L214 1209.9L216 1209.8L218 1209.7L220 1209.6L222 1209.5L224 1209.4L226 1209.3L228 1209.2L230 1209L232 1208.9L234 1208.8L236 1208.6L238 1208.5L240 1208.3L242 1208.2L244 1208L246 1207.8L248 1207.6L250 1207.4L252 1207.1L254 1206.9L256 1206.6L258 1206.3L260 1206L262 1205.6L264 1205.2L266 1204.8L268 1204.3L270 1203.8L272 1203.2L274 1202.6L276 1201.9L278 1201.2L280 1200.3L282 1199.4L284 1198.4L286 1197.3L288 1196.1L290 1194.8L292 1193.4L294 1191.9L296 1190.2L298 1188.4L300 1186.5L302 1184.4L304 1182.2L306 1179.9L308 1177.4L310 1174.8L312 1172.1L314 1169.2L316 1166.2L318 1163.1L320 1159.9L322 1156.7L324 1153.3L326 1150L328 1146.6L330 1143.2L332 1139.9L334 1136.7L336 1133.5L338 1130.6L340 1127.8L342 1125.3L344 1123.2L346 1121.3L348 1119.9L350 1119L352 1118.5L354 1118.5L356 1119.1L358 1120.3L360 1122.1L362 1124.4L364 1127.1L366 1130.1L368 1133.5L370 1137L372 1140.7L374 1144.4L376 1148.2L378 1152L380 1155.7L382 1159.3L384 1162.8L386 1166.1L388 1169.3L390 1172.4L392 1175.3L394 1177.9L396 1180.5L398 1182.8L400 1184.9L402 1186.9L404 1188.7L406 1190.3L408 1191.8L410 1193.2L412 1194.4L414 1195.5L416 1196.4L418 1197.3L420 1198.1L422 1198.7L424 1199.4L426 1199.9L428 1200.4L430 1200.8L432 1201.2L434 1201.5L436 1201.8L438 1202.1L440 1202.3L442 1202.5L444 1202.7L446 1202.9L448 1203.1L450 1203.2L452 1203.3L454 1203.5L456 1203.6L458 1203.7L460 1203.8L462 1203.9L464 1204L466 1204L468 1204.1L470 1204.2L472 1204.3L474 1204.4L476 1204.5L478 1204.5L480 1204.6L482 1204.6L484 1204.7L486 1204.8L488 1204.8L490 1204.9L492 1204.9L494 1205L496 1205L498 1205L500 1205.1L502 1205.1L504 1205.2L506 1205.2L508 1205.2L510 1205.3L512 1205.3L514 1205.3L516 1205.3L518 1205.4L520 1205.4L522 1205.4L524 1205.4L526 1205.5L528 1205.5L530 1205.5L532 1205.5L534 1205.5L536 1205.5L538 1205.6L540 1205.6L542 1205.6L544 1205.6L546 1205.6L548 1205.6L550 1205.6L552 1205.7L554 1205.7L556 1205.7L558 1205.7L560 1205.7L562 1205.7L564 1205.7L566 1205.7L568 1205.7L570 1205.7L572 1205.8L574 1205.8L576 1205.8L578 1205.8L580 1205.8L582 1205.8L584 1205.8L586 1205.8L588 1205.8L590 1205.8L592 1205.8L594 1205.8L596 1205.8L598 1205.8L600 1205.9L602 1205.9L604 1205.9L606 1205.9L608 1205.9L610 1205.9L612 1205.9L614 1205.9L616 1205.9L618 1205.9L620 1205.9L622 1205.9L624 1205.9L626 1205.9L628 1205.9L630 1205.9L632 1205.9L634 1205.9L636 1205.9L638 1205.9L640 1206L642 1206L644 1206L646 1206L648 1206L650 1206L652 1206L654 1206L656 1206L658 1206L660 1206L662 1206L664 1206" fill="none" stroke="#cc0000" stroke-width="6.0" stroke-linejoin="round" stroke-linecap="butt" stroke-dasharray="9 15"/>
<path d="M64 1212.8L66 1212.8L68 1212.8L70 1212.8L72 1212.8L74 1212.8L76 1212.8L78 1212.8L80 1212.8L82 1212.8L84 1212.8L86 1212.8L88 1212.8L90 1212.8L92 1212.8L94 1212.8L96 1212.8L98 1212.8L100 1212.8L102 1212.8L104 1212.8L106 1212.8L108 1212.8L110 1212.8L112 1212.8L114 1212.8L116 1212.8L118 1212.8L120 1212.7L122 1212.7L124 1212.7L126 1212.7L128 1212.7L130 1212.7L132 1212.7L134 1212.7L136 1212.7L138 1212.7L140 1212.7L142 1212.7L144 1212.7L146 1212.7L148 1212.7L150 1212.7L152 1212.7L154 1212.7L156 1212.7L158 1212.7L160 1212.6L162 1212.6L164 1212.6L166 1212.6L168 1212.6L170 1212.6L172 1212.6L174 1212.6L176 1212.6L178 1212.6L180 1212.6L182 1212.6L184 1212.6L186 1212.6L188 1212.5L190 1212.5L192 1212.5L194 1212.5L196 1212.5L198 1212.5L200 1212.5L202 1212.5L204 1212.5L206 1212.5L208 1212.4L210 1212.4L212 1212.4L214 1212.4L216 1212.4L218 1212.4L220 1212.4L222 1212.4L224 1212.3L226 1212.3L228 1212.3L230 1212.3L232 1212.3L234 1212.3L236 1212.3L238 1212.2L240 1212.2L242 1212.2L244 1212.2L246 1212.2L248 1212.2L250 1212.1L252 1212.1L254 1212.1L256 1212.1L258 1212.1L260 1212L262 1212L264 1212L266 1212L268 1212L270 1211.9L272 1211.9L274 1211.9L276 1211.9L278 1211.8L280 1211.8L282 1211.8L284 1211.7L286 1211.7L288 1211.7L290 1211.6L292 1211.6L294 1211.6L296 1211.5L298 1211.5L300 1211.5L302 1211.4L304 1211.4L306 1211.3L308 1211.3L310 1211.2L312 1211.2L314 1211.1L316 1211L318 1211L320 1210.9L322 1210.8L324 1210.7L326 1210.6L328 1210.5L330 1210.4L332 1210.3L334 1210.1L336 1209.9L338 1209.7L340 1209.4L342 1209.1L344 1208.8L346 1208.4L348 1208.1L350 1207.7L352 1207.2L354 1206.8L356 1206.3L358 1205.8L360 1205.2L362 1204.7L364 1204.1L366 1203.4L368 1202.7L370 1202L372 1201.2L374 1200.4L376 1199.5L378 1198.5L380 1197.5L382 1196.4L384 1195.3L386 1194.2L388 1192.9L390 1191.7L392 1190.3L394 1189L396 1187.6L398 1186.1L400 1184.6L402 1183.1L404 1181.6L406 1180.1L408 1178.5L410 1177L412 1175.5L414 1174L416 1172.5L418 1171.1L420 1169.7L422 1168.4L424 1167.2L426 1166.1L428 1165.1L430 1164.2L432 1163.5L434 1162.9L436 1162.4L438 1162.1L440 1162L442 1162L444 1162.2L446 1162.6L448 1163.1L450 1163.7L452 1164.5L454 1165.4L456 1166.4L458 1167.5L460 1168.7L462 1169.9L464 1171.2L466 1172.6L468 1174L470 1175.5L472 1176.9L474 1178.4L476 1179.8L478 1181.2L480 1182.6L482 1184L484 1185.4L486 1186.7L488 1188L490 1189.2L492 1190.4L494 1191.5L496 1192.6L498 1193.6L500 1194.5L502 1195.4L504 1196.3L506 1197.1L508 1197.8L510 1198.5L512 1199.2L514 1199.7L516 1200.3L518 1200.8L520 1201.3L522 1201.7L524 1202.1L526 1202.4L528 1202.7L530 1203L532 1203.3L534 1203.5L536 1203.7L538 1203.9L540 1204.1L542 1204.3L544 1204.4L546 1204.5L548 1204.6L550 1204.7L552 1204.8L554 1204.9L556 1205L558 1205.1L560 1205.1L562 1205.2L564 1205.2L566 1205.3L568 1205.3L570 1205.3L572 1205.4L574 1205.4L576 1205.4L578 1205.5L580 1205.5L582 1205.5L584 1205.6L586 1205.6L588 1205.6L590 1205.6L592 1205.6L594 1205.7L596 1205.7L598 1205.7L600 1205.7L602 1205.7L604 1205.7L606 1205.7L608 1205.8L610 1205.8L612 1205.8L614 1205.8L616 1205.8L618 1205.8L620 1205.8L622 1205.8L624 1205.8L626 1205.9L628 1205.9L630 1205.9L632 1205.9L634 1205.9L636 1205.9L638 1205.9L640 1205.9L642 1205.9L644 1205.9L646 1205.9L648 1206L650 1206L652 1206L654 1206L656 1206L658 1206L660 1206L662 1206L664 1206" fill="none" stroke="#cc0000" stroke-width="6.0" stroke-linejoin="round" stroke-linecap="butt" stroke-dasharray="9 15"/>
<path d="M64 1210.9L68 1221L72 1210.1L76 1210.4L80 1211.9L84 1209.3L88 1217.3L92 1219.2L96 1208.4L100 1206.7L104 1217L108 1216.9L112 1215.8L116 1216.9L120 1209.6L124 1211.9L128 1207.5L132 1200.5L136 1215.8L140 1210.2L144 1220.5L148 1212.6L152 1209.9L156 1215L160 1218.6L164 1213.7L168 1207.5L172 1213.1L176 1216.6L180 1209.8L184 1200L188 1215L192 1211.7L196 1207.1L200 1209.5L204 1208.1L208 1211.7L212 1210.8L216 1214.2L220 1212.2L224 1203.6L228 1210.1L232 1211.5L236 1209.4L240 1210.7L244 1204.3L248 1201.8L252 1207.3L256 1198.7L260 1193.6L264 1203.5L268 1196.1L272 1196.1L276 1194.5L280 1189.1L284 1187.6L288 1187.9L292 1187.5L296 1174.9L300 1181.9L304 1171L308 1174.1L312 1167.4L316 1159.4L320 1148.2L324 1153.3L328 1136.6L332 1133.9L336 1128.9L340 1129.4L344 1119.3L348 1121.8L352 1120.2L356 1121.4L360 1116.2L364 1120L368 1131.1L372 1123.8L376 1152.2L380 1166.7L384 1161.6L388 1158.4L392 1164.7L396 1159.2L400 1169.3L404 1171.1L408 1163.4L412 1154.2L416 1148.2L420 1158.1L424 1137.8L428 1151.9L432 1143.3L436 1149.4L440 1143.2L444 1146.9L448 1156.8L452 1154.7L456 1164.3L460 1165L464 1166.9L468 1168L472 1172.1L476 1184.3L480 1179.3L484 1186L488 1192.2L492 1194.6L496 1198.8L500 1194.3L504 1193.5L508 1202.6L512 1199.3L516 1205.1L520 1202.1L524 1204.2L528 1201.4L532 1206.7L536 1206.4L540 1206.3L544 1205.9L548 1206L552 1208.8L556 1197.8L560 1211.7L564 1201.3L568 1209.2L572 1205.5L576 1205L580 1213.2L584 1204.8L588 1201.3L592 1203.3L596 1204.9L600 1211.4L604 1206.9L608 1209.3L612 1193.9L616 1212.6L620 1208.4L624 1212.3L628 1203.4L632 1207.8L636 1206.6L640 1201.8L644 1205.2L648 1204.1L652 1203.3L656 1206.9L660 1206.7L664 1202.9" fill="none" stroke="#cc0000" stroke-width="6.0" stroke-linejoin="round" stroke-linecap="round"/>
<path d="M64 1213L66 1213L68 1213L70 1213L72 1213L74 1213L76 1213L78 1213L80 1213L82 1213L84 1213L86 1212.9L88 1212.9L90 1212.9L92 1212.9L94 1212.9L96 1212.9L98 1212.9L100 1212.9L102 1212.8L104 1212.8L106 1212.8L108 1212.8L110 1212.8L112 1212.8L114 1212.7L116 1212.7L118 1212.7L120 1212.7L122 1212.6L124 1212.6L126 1212.6L128 1212.6L130 1212.5L132 1212.5L134 1212.5L136 1212.4L138 1212.4L140 1212.4L142 1212.3L144 1212.3L146 1212.3L148 1212.2L150 1212.2L152 1212.2L154 1212.1L156 1212.1L158 1212L160 1212L162 1212L164 1211.9L166 1211.9L168 1211.8L170 1211.8L172 1211.7L174 1211.7L176 1211.6L178 1211.6L180 1211.5L182 1211.5L184 1211.4L186 1211.4L188 1211.3L190 1211.3L192 1211.2L194 1211.2L196 1211.1L198 1211.1L200 1211L202 1210.9L204 1210.8L206 1210.7L208 1210.6L210 1210.5L212 1210.4L214 1210.2L216 1210L218 1209.8L220 1209.6L222 1209.4L224 1209.2L226 1209L228 1208.7L230 1208.4L232 1208.2L234 1207.9L236 1207.6L238 1207.3L240 1207L242 1206.7L244 1206.2L246 1205.8L248 1205.2L250 1204.6L252 1204L254 1203.4L256 1202.7L258 1202L260 1201.4L262 1200.7L264 1200L266 1199.3L268 1198.7L270 1198L272 1197.3L274 1196.6L276 1195.8L278 1194.9L280 1194L282 1193L284 1191.8L286 1190.6L288 1189.3L290 1187.8L292 1186.3L294 1184.8L296 1183.1L298 1181.3L300 1179.4L302 1177.4L304 1175.3L306 1173.1L308 1170.8L310 1168.4L312 1165.7L314 1162.8L316 1159.7L318 1156.7L320 1153.6L322 1150.3L324 1146.8L326 1143.2L328 1139.6L330 1136.2L332 1133L334 1130.3L336 1128.1L338 1126.2L340 1124.3L342 1122.5L344 1120.8L346 1119.4L348 1118.2L350 1117.4L352 1117L354 1117.1L356 1117.3L358 1117.8L360 1118.5L362 1119.3L364 1120.2L366 1121.1L368 1122.2L370 1123.6L372 1125.5L374 1127.6L376 1129.9L378 1132L380 1133.9L382 1135.9L384 1137.8L386 1139.7L388 1141.5L390 1143.1L392 1144.5L394 1145.8L396 1147.1L398 1148.4L400 1149.6L402 1150.6L404 1151.5L406 1152L408 1152.3L410 1152.5L412 1152.6L414 1152.7L416 1152.8L418 1152.9L420 1153L422 1153L424 1153L426 1152.9L428 1152.8L430 1152.6L432 1152.3L434 1152.1L436 1151.9L438 1151.7L440 1151.5L442 1151.5L444 1151.8L446 1152.7L448 1154L450 1155.6L452 1157.3L454 1159L456 1160.6L458 1162.2L460 1164L462 1165.8L464 1167.7L466 1169.6L468 1171.5L470 1173.3L472 1175L474 1176.7L476 1178.5L478 1180.2L480 1181.8L482 1183.4L484 1185L486 1186.4L488 1187.7L490 1189L492 1190.3L494 1191.6L496 1192.8L498 1194L500 1195.2L502 1196.2L504 1197.2L506 1198.1L508 1198.9L510 1199.6L512 1200.1L514 1200.6L516 1201.1L518 1201.5L520 1202L522 1202.4L524 1202.7L526 1203.1L528 1203.4L530 1203.7L532 1204L534 1204.3L536 1204.5L538 1204.7L540 1204.8L542 1204.9L544 1205L546 1205.1L548 1205.2L550 1205.2L552 1205.3L554 1205.3L556 1205.4L558 1205.4L560 1205.5L562 1205.5L564 1205.6L566 1205.6L568 1205.7L570 1205.7L572 1205.7L574 1205.8L576 1205.8L578 1205.8L580 1205.9L582 1205.9L584 1205.9L586 1205.9L588 1206L590 1206L592 1206L594 1206L596 1206L598 1206L600 1206L602 1206L604 1206L606 1206L608 1206L610 1206L612 1205.9L614 1205.9L616 1205.9L618 1205.9L620 1205.9L622 1205.8L624 1205.8L626 1205.8L628 1205.7L630 1205.7L632 1205.6L634 1205.6L636 1205.5L638 1205.5L640 1205.4L642 1205.4L644 1205.3L646 1205.2L648 1205.2L650 1205.1L652 1205L654 1205L656 1204.9L658 1204.8L660 1204.7L662 1204.6L664 1204.6" fill="none" stroke="#cc0000" stroke-width="5.5" stroke-linejoin="round" stroke-linecap="round"/>
<path d="M64 1469L66 1469L68 1469L70 1469L72 1469L74 1469L76 1469L78 1469L80 1469L82 1469L84 1469L86 1469L88 1469L90 1469L92 1469L94 1469L96 1469L98 1469L100 1469L102 1469L104 1469L106 1469L108 1469L110 1469L112 1469L114 1468.9L116 1468.9L118 1468.9L120 1468.9L122 1468.9L124 1468.9L126 1468.9L128 1468.9L130 1468.9L132 1468.9L134 1468.9L136 1468.9L138 1468.9L140 1468.9L142 1468.9L144 1468.9L146 1468.9L148 1468.9L150 1468.9L152 1468.8L154 1468.8L156 1468.8L158 1468.8L160 1468.8L162 1468.8L164 1468.8L166 1468.8L168 1468.8L170 1468.8L172 1468.8L174 1468.8L176 1468.8L178 1468.7L180 1468.7L182 1468.7L184 1468.7L186 1468.7L188 1468.7L190 1468.7L192 1468.7L194 1468.7L196 1468.7L198 1468.7L200 1468.6L202 1468.6L204 1468.6L206 1468.6L208 1468.6L210 1468.6L212 1468.6L214 1468.6L216 1468.6L218 1468.5L220 1468.5L222 1468.5L224 1468.5L226 1468.5L228 1468.5L230 1468.5L232 1468.5L234 1468.5L236 1468.4L238 1468.4L240 1468.4L242 1468.4L244 1468.4L246 1468.4L248 1468.4L250 1468.4L252 1468.3L254 1468.3L256 1468.3L258 1468.3L260 1468.3L262 1468.3L264 1468.3L266 1468.2L268 1468.2L270 1468.2L272 1468.2L274 1468.2L276 1468.2L278 1468.2L280 1468.1L282 1468.1L284 1468.1L286 1468.1L288 1468.1L290 1468.1L292 1468.1L294 1468L296 1468L298 1468L300 1468L302 1468L304 1468L306 1467.9L308 1467.9L310 1467.9L312 1467.9L314 1467.8L316 1467.8L318 1467.8L320 1467.8L322 1467.7L324 1467.7L326 1467.7L328 1467.6L330 1467.6L332 1467.5L334 1467.5L336 1467.5L338 1467.4L340 1467.4L342 1467.3L344 1467.3L346 1467.2L348 1467.2L350 1467.2L352 1467.1L354 1467.1L356 1467L358 1467L360 1466.9L362 1466.9L364 1466.8L366 1466.8L368 1466.7L370 1466.7L372 1466.6L374 1466.6L376 1466.5L378 1466.5L380 1466.4L382 1466.4L384 1466.3L386 1466.3L388 1466.3L390 1466.2L392 1466.2L394 1466.1L396 1466.1L398 1466L400 1466L402 1466L404 1465.9L406 1465.9L408 1465.8L410 1465.8L412 1465.8L414 1465.7L416 1465.7L418 1465.6L420 1465.6L422 1465.5L424 1465.5L426 1465.4L428 1465.4L430 1465.4L432 1465.3L434 1465.3L436 1465.2L438 1465.2L440 1465.1L442 1465.1L444 1465L446 1465L448 1465L450 1464.9L452 1464.9L454 1464.8L456 1464.8L458 1464.7L460 1464.7L462 1464.7L464 1464.6L466 1464.6L468 1464.5L470 1464.5L472 1464.5L474 1464.4L476 1464.4L478 1464.3L480 1464.3L482 1464.3L484 1464.2L486 1464.2L488 1464.2L490 1464.1L492 1464.1L494 1464.1L496 1464.1L498 1464L500 1464L502 1464L504 1463.9L506 1463.9L508 1463.9L510 1463.9L512 1463.8L514 1463.8L516 1463.8L518 1463.8L520 1463.7L522 1463.7L524 1463.7L526 1463.7L528 1463.6L530 1463.6L532 1463.6L534 1463.6L536 1463.5L538 1463.5L540 1463.5L542 1463.5L544 1463.5L546 1463.4L548 1463.4L550 1463.4L552 1463.4L554 1463.3L556 1463.3L558 1463.3L560 1463.3L562 1463.2L564 1463.2L566 1463.2L568 1463.2L570 1463.2L572 1463.1L574 1463.1L576 1463.1L578 1463.1L580 1463.1L582 1463L584 1463L586 1463L588 1463L590 1463L592 1462.9L594 1462.9L596 1462.9L598 1462.9L600 1462.9L602 1462.9L604 1462.8L606 1462.8L608 1462.8L610 1462.8L612 1462.8L614 1462.8L616 1462.7L618 1462.7L620 1462.7L622 1462.7L624 1462.7L626 1462.7L628 1462.7L630 1462.6L632 1462.6L634 1462.6L636 1462.6L638 1462.6L640 1462.6L642 1462.6L644 1462.6L646 1462.6L648 1462.6L650 1462.5L652 1462.5L654 1462.5L656 1462.5L658 1462.5L660 1462.5L662 1462.5L664 1462.5" fill="none" stroke="#0414c8" stroke-width="6.5" stroke-linejoin="round" stroke-linecap="butt" stroke-dasharray="9 15"/>
<path d="M64 1468.9L66 1468.9L68 1468.9L70 1468.9L72 1468.9L74 1468.9L76 1468.9L78 1468.9L80 1468.9L82 1468.8L84 1468.8L86 1468.8L88 1468.8L90 1468.8L92 1468.8L94 1468.8L96 1468.8L98 1468.8L100 1468.8L102 1468.8L104 1468.8L106 1468.8L108 1468.8L110 1468.8L112 1468.8L114 1468.8L116 1468.8L118 1468.7L120 1468.7L122 1468.7L124 1468.7L126 1468.7L128 1468.7L130 1468.7L132 1468.7L134 1468.7L136 1468.7L138 1468.7L140 1468.7L142 1468.6L144 1468.6L146 1468.6L148 1468.6L150 1468.6L152 1468.6L154 1468.6L156 1468.6L158 1468.6L160 1468.5L162 1468.5L164 1468.5L166 1468.5L168 1468.5L170 1468.5L172 1468.5L174 1468.5L176 1468.4L178 1468.4L180 1468.4L182 1468.4L184 1468.4L186 1468.4L188 1468.3L190 1468.3L192 1468.3L194 1468.3L196 1468.3L198 1468.3L200 1468.2L202 1468.2L204 1468.2L206 1468.2L208 1468.2L210 1468.1L212 1468.1L214 1468.1L216 1468.1L218 1468L220 1468L222 1468L224 1468L226 1467.9L228 1467.9L230 1467.9L232 1467.9L234 1467.8L236 1467.8L238 1467.8L240 1467.7L242 1467.7L244 1467.7L246 1467.6L248 1467.6L250 1467.5L252 1467.5L254 1467.4L256 1467.4L258 1467.3L260 1467.2L262 1467.1L264 1467.1L266 1467L268 1466.8L270 1466.7L272 1466.5L274 1466.4L276 1466.2L278 1465.9L280 1465.7L282 1465.4L284 1465L286 1464.6L288 1464.1L290 1463.6L292 1463L294 1462.3L296 1461.6L298 1460.7L300 1459.7L302 1458.6L304 1457.4L306 1456.1L308 1454.6L310 1453L312 1451.2L314 1449.2L316 1447.1L318 1444.8L320 1442.4L322 1439.7L324 1437L326 1434L328 1431L330 1427.8L332 1424.4L334 1421L336 1417.5L338 1413.9L340 1410.3L342 1406.7L344 1403.1L346 1399.6L348 1396.1L350 1392.8L352 1389.7L354 1386.7L356 1384L358 1381.5L360 1379.3L362 1377.4L364 1375.9L366 1374.8L368 1374L370 1373.7L372 1373.7L374 1374.2L376 1375L378 1376.3L380 1377.9L382 1379.8L384 1382L386 1384.6L388 1387.3L390 1390.3L392 1393.5L394 1396.8L396 1400.2L398 1403.6L400 1407.2L402 1410.7L404 1414.2L406 1417.7L408 1421L410 1424.3L412 1427.5L414 1430.6L416 1433.5L418 1436.3L420 1438.9L422 1441.4L424 1443.7L426 1445.8L428 1447.7L430 1449.5L432 1451.2L434 1452.7L436 1454L438 1455.3L440 1456.3L442 1457.3L444 1458.2L446 1458.9L448 1459.6L450 1460.2L452 1460.7L454 1461.1L456 1461.5L458 1461.8L460 1462.1L462 1462.3L464 1462.5L466 1462.7L468 1462.8L470 1462.9L472 1463L474 1463.1L476 1463.1L478 1463.2L480 1463.2L482 1463.2L484 1463.3L486 1463.3L488 1463.3L490 1463.3L492 1463.3L494 1463.3L496 1463.3L498 1463.3L500 1463.3L502 1463.3L504 1463.3L506 1463.3L508 1463.3L510 1463.3L512 1463.3L514 1463.3L516 1463.2L518 1463.2L520 1463.2L522 1463.2L524 1463.2L526 1463.2L528 1463.2L530 1463.2L532 1463.1L534 1463.1L536 1463.1L538 1463.1L540 1463.1L542 1463.1L544 1463.1L546 1463L548 1463L550 1463L552 1463L554 1463L556 1463L558 1463L560 1462.9L562 1462.9L564 1462.9L566 1462.9L568 1462.9L570 1462.9L572 1462.8L574 1462.8L576 1462.8L578 1462.8L580 1462.8L582 1462.8L584 1462.8L586 1462.7L588 1462.7L590 1462.7L592 1462.7L594 1462.7L596 1462.7L598 1462.7L600 1462.6L602 1462.6L604 1462.6L606 1462.6L608 1462.6L610 1462.6L612 1462.6L614 1462.6L616 1462.5L618 1462.5L620 1462.5L622 1462.5L624 1462.5L626 1462.5L628 1462.5L630 1462.5L632 1462.5L634 1462.5L636 1462.4L638 1462.4L640 1462.4L642 1462.4L644 1462.4L646 1462.4L648 1462.4L650 1462.4L652 1462.4L654 1462.4L656 1462.4L658 1462.4L660 1462.4L662 1462.4L664 1462.4" fill="none" stroke="#0414c8" stroke-width="6.0" stroke-linejoin="round" stroke-linecap="butt" stroke-dasharray="9 15"/>
<path d="M64 1468.9L66 1468.9L68 1468.9L70 1468.9L72 1468.8L74 1468.8L76 1468.8L78 1468.8L80 1468.8L82 1468.8L84 1468.8L86 1468.8L88 1468.8L90 1468.8L92 1468.8L94 1468.8L96 1468.8L98 1468.8L100 1468.8L102 1468.8L104 1468.8L106 1468.8L108 1468.8L110 1468.8L112 1468.8L114 1468.8L116 1468.7L118 1468.7L120 1468.7L122 1468.7L124 1468.7L126 1468.7L128 1468.7L130 1468.7L132 1468.7L134 1468.7L136 1468.7L138 1468.7L140 1468.7L142 1468.6L144 1468.6L146 1468.6L148 1468.6L150 1468.6L152 1468.6L154 1468.6L156 1468.6L158 1468.6L160 1468.6L162 1468.5L164 1468.5L166 1468.5L168 1468.5L170 1468.5L172 1468.5L174 1468.5L176 1468.5L178 1468.4L180 1468.4L182 1468.4L184 1468.4L186 1468.4L188 1468.4L190 1468.4L192 1468.3L194 1468.3L196 1468.3L198 1468.3L200 1468.3L202 1468.3L204 1468.2L206 1468.2L208 1468.2L210 1468.2L212 1468.2L214 1468.2L216 1468.1L218 1468.1L220 1468.1L222 1468.1L224 1468.1L226 1468L228 1468L230 1468L232 1468L234 1468L236 1467.9L238 1467.9L240 1467.9L242 1467.9L244 1467.8L246 1467.8L248 1467.8L250 1467.8L252 1467.7L254 1467.7L256 1467.7L258 1467.7L260 1467.6L262 1467.6L264 1467.6L266 1467.5L268 1467.5L270 1467.5L272 1467.4L274 1467.4L276 1467.3L278 1467.3L280 1467.2L282 1467.2L284 1467.1L286 1467.1L288 1467L290 1467L292 1466.9L294 1466.8L296 1466.7L298 1466.6L300 1466.5L302 1466.4L304 1466.2L306 1466.1L308 1465.9L310 1465.7L312 1465.5L314 1465.2L316 1464.9L318 1464.6L320 1464.3L322 1463.9L324 1463.4L326 1462.9L328 1462.4L330 1461.8L332 1461.1L334 1460.4L336 1459.5L338 1458.6L340 1457.7L342 1456.6L344 1455.4L346 1454.1L348 1452.7L350 1451.2L352 1449.6L354 1447.9L356 1446.1L358 1444.1L360 1442L362 1439.8L364 1437.5L366 1435L368 1432.5L370 1429.8L372 1427L374 1424.1L376 1421.2L378 1418.1L380 1415.1L382 1411.9L384 1408.7L386 1405.5L388 1402.3L390 1399.2L392 1396L394 1393L396 1390L398 1387.1L400 1384.3L402 1381.7L404 1379.2L406 1376.9L408 1374.8L410 1373L412 1371.4L414 1370.1L416 1369L418 1368.2L420 1367.7L422 1367.5L424 1367.6L426 1368L428 1368.7L430 1369.7L432 1371L434 1372.5L436 1374.2L438 1376.2L440 1378.4L442 1380.8L444 1383.3L446 1386L448 1388.8L450 1391.7L452 1394.7L454 1397.8L456 1400.9L458 1404L460 1407.1L462 1410.2L464 1413.2L466 1416.2L468 1419.2L470 1422L472 1424.8L474 1427.5L476 1430.1L478 1432.6L480 1435L482 1437.2L484 1439.3L486 1441.3L488 1443.2L490 1445L492 1446.6L494 1448.2L496 1449.6L498 1450.9L500 1452.1L502 1453.2L504 1454.2L506 1455.1L508 1456L510 1456.7L512 1457.4L514 1458L516 1458.6L518 1459.1L520 1459.5L522 1459.9L524 1460.2L526 1460.5L528 1460.8L530 1461L532 1461.2L534 1461.4L536 1461.5L538 1461.7L540 1461.8L542 1461.9L544 1462L546 1462L548 1462.1L550 1462.1L552 1462.2L554 1462.2L556 1462.3L558 1462.3L560 1462.3L562 1462.3L564 1462.3L566 1462.3L568 1462.3L570 1462.3L572 1462.4L574 1462.4L576 1462.4L578 1462.4L580 1462.4L582 1462.4L584 1462.4L586 1462.3L588 1462.3L590 1462.3L592 1462.3L594 1462.3L596 1462.3L598 1462.3L600 1462.3L602 1462.3L604 1462.3L606 1462.3L608 1462.3L610 1462.3L612 1462.3L614 1462.3L616 1462.3L618 1462.3L620 1462.3L622 1462.3L624 1462.3L626 1462.2L628 1462.2L630 1462.2L632 1462.2L634 1462.2L636 1462.2L638 1462.2L640 1462.2L642 1462.2L644 1462.2L646 1462.2L648 1462.2L650 1462.2L652 1462.2L654 1462.2L656 1462.2L658 1462.2L660 1462.2L662 1462.2L664 1462.2" fill="none" stroke="#0414c8" stroke-width="6.0" stroke-linejoin="round" stroke-linecap="butt" stroke-dasharray="9 15"/>
<path d="M64 1469L66 1469L68 1469L70 1469L72 1469L74 1469L76 1469L78 1469L80 1469L82 1468.9L84 1468.9L86 1468.9L88 1468.9L90 1468.9L92 1468.9L94 1468.9L96 1468.9L98 1468.9L100 1468.9L102 1468.9L104 1468.9L106 1468.9L108 1468.9L110 1468.9L112 1468.9L114 1468.9L116 1468.9L118 1468.9L120 1468.9L122 1468.9L124 1468.9L126 1468.9L128 1468.9L130 1468.9L132 1468.8L134 1468.8L136 1468.8L138 1468.8L140 1468.8L142 1468.8L144 1468.8L146 1468.8L148 1468.8L150 1468.8L152 1468.8L154 1468.8L156 1468.8L158 1468.8L160 1468.7L162 1468.7L164 1468.7L166 1468.7L168 1468.7L170 1468.7L172 1468.7L174 1468.7L176 1468.7L178 1468.7L180 1468.7L182 1468.7L184 1468.6L186 1468.6L188 1468.6L190 1468.6L192 1468.6L194 1468.6L196 1468.6L198 1468.6L200 1468.6L202 1468.5L204 1468.5L206 1468.5L208 1468.5L210 1468.5L212 1468.5L214 1468.5L216 1468.5L218 1468.4L220 1468.4L222 1468.4L224 1468.4L226 1468.4L228 1468.4L230 1468.4L232 1468.4L234 1468.3L236 1468.3L238 1468.3L240 1468.3L242 1468.3L244 1468.3L246 1468.3L248 1468.2L250 1468.2L252 1468.2L254 1468.2L256 1468.2L258 1468.2L260 1468.2L262 1468.1L264 1468.1L266 1468.1L268 1468.1L270 1468.1L272 1468.1L274 1468L276 1468L278 1468L280 1468L282 1468L284 1468L286 1467.9L288 1467.9L290 1467.9L292 1467.9L294 1467.9L296 1467.8L298 1467.8L300 1467.8L302 1467.8L304 1467.8L306 1467.7L308 1467.7L310 1467.7L312 1467.7L314 1467.6L316 1467.6L318 1467.6L320 1467.5L322 1467.5L324 1467.4L326 1467.4L328 1467.4L330 1467.3L332 1467.3L334 1467.2L336 1467.2L338 1467.1L340 1467.1L342 1467L344 1466.9L346 1466.9L348 1466.8L350 1466.8L352 1466.7L354 1466.6L356 1466.5L358 1466.5L360 1466.4L362 1466.3L364 1466.2L366 1466.1L368 1466L370 1465.9L372 1465.8L374 1465.7L376 1465.5L378 1465.4L380 1465.3L382 1465.1L384 1464.9L386 1464.7L388 1464.5L390 1464.3L392 1464.1L394 1463.8L396 1463.5L398 1463.2L400 1462.9L402 1462.6L404 1462.2L406 1461.8L408 1461.4L410 1460.9L412 1460.4L414 1459.9L416 1459.3L418 1458.8L420 1458.1L422 1457.5L424 1456.8L426 1456L428 1455.3L430 1454.5L432 1453.6L434 1452.8L436 1451.9L438 1450.9L440 1450L442 1449L444 1448L446 1447L448 1446L450 1445L452 1444L454 1442.9L456 1441.9L458 1440.9L460 1439.9L462 1439L464 1438L466 1437.1L468 1436.3L470 1435.5L472 1434.7L474 1434L476 1433.4L478 1432.9L480 1432.4L482 1432L484 1431.6L486 1431.4L488 1431.2L490 1431.1L492 1431.2L494 1431.3L496 1431.4L498 1431.7L500 1432.1L502 1432.5L504 1433L506 1433.5L508 1434.2L510 1434.9L512 1435.6L514 1436.4L516 1437.2L518 1438.1L520 1439L522 1439.9L524 1440.8L526 1441.8L528 1442.7L530 1443.7L532 1444.6L534 1445.6L536 1446.5L538 1447.4L540 1448.4L542 1449.2L544 1450.1L546 1450.9L548 1451.7L550 1452.5L552 1453.2L554 1453.9L556 1454.6L558 1455.2L560 1455.8L562 1456.4L564 1456.9L566 1457.4L568 1457.9L570 1458.3L572 1458.7L574 1459.1L576 1459.4L578 1459.7L580 1460L582 1460.2L584 1460.5L586 1460.7L588 1460.9L590 1461.1L592 1461.2L594 1461.4L596 1461.5L598 1461.6L600 1461.7L602 1461.8L604 1461.8L606 1461.9L608 1462L610 1462L612 1462.1L614 1462.1L616 1462.1L618 1462.2L620 1462.2L622 1462.2L624 1462.2L626 1462.2L628 1462.2L630 1462.2L632 1462.3L634 1462.3L636 1462.3L638 1462.3L640 1462.3L642 1462.3L644 1462.3L646 1462.3L648 1462.3L650 1462.3L652 1462.3L654 1462.3L656 1462.3L658 1462.3L660 1462.3L662 1462.3L664 1462.3" fill="none" stroke="#0414c8" stroke-width="6.0" stroke-linejoin="round" stroke-linecap="butt" stroke-dasharray="9 15"/>
<path d="M64 1469L66 1469L68 1469L70 1469L72 1469L74 1469L76 1469L78 1469L80 1469L82 1469L84 1469L86 1469L88 1469L90 1469L92 1469L94 1469L96 1469L98 1469L100 1469L102 1469L104 1469L106 1469L108 1469L110 1468.9L112 1468.9L114 1468.9L116 1468.9L118 1468.9L120 1468.9L122 1468.9L124 1468.9L126 1468.9L128 1468.9L130 1468.9L132 1468.9L134 1468.9L136 1468.9L138 1468.9L140 1468.9L142 1468.9L144 1468.9L146 1468.9L148 1468.8L150 1468.8L152 1468.8L154 1468.8L156 1468.8L158 1468.8L160 1468.8L162 1468.8L164 1468.8L166 1468.8L168 1468.8L170 1468.8L172 1468.8L174 1468.7L176 1468.7L178 1468.7L180 1468.7L182 1468.7L184 1468.7L186 1468.7L188 1468.7L190 1468.7L192 1468.7L194 1468.7L196 1468.6L198 1468.6L200 1468.6L202 1468.6L204 1468.6L206 1468.6L208 1468.6L210 1468.6L212 1468.6L214 1468.6L216 1468.5L218 1468.5L220 1468.5L222 1468.5L224 1468.5L226 1468.5L228 1468.5L230 1468.5L232 1468.4L234 1468.4L236 1468.4L238 1468.4L240 1468.4L242 1468.4L244 1468.4L246 1468.4L248 1468.3L250 1468.3L252 1468.3L254 1468.3L256 1468.3L258 1468.3L260 1468.3L262 1468.3L264 1468.2L266 1468.2L268 1468.2L270 1468.2L272 1468.2L274 1468.2L276 1468.2L278 1468.1L280 1468.1L282 1468.1L284 1468.1L286 1468.1L288 1468.1L290 1468.1L292 1468L294 1468L296 1468L298 1468L300 1468L302 1468L304 1467.9L306 1467.9L308 1467.9L310 1467.9L312 1467.8L314 1467.8L316 1467.8L318 1467.8L320 1467.7L322 1467.7L324 1467.7L326 1467.6L328 1467.6L330 1467.5L332 1467.5L334 1467.5L336 1467.4L338 1467.4L340 1467.3L342 1467.3L344 1467.3L346 1467.2L348 1467.2L350 1467.1L352 1467.1L354 1467L356 1467L358 1466.9L360 1466.9L362 1466.8L364 1466.8L366 1466.7L368 1466.7L370 1466.6L372 1466.6L374 1466.5L376 1466.5L378 1466.4L380 1466.4L382 1466.3L384 1466.3L386 1466.2L388 1466.2L390 1466.1L392 1466.1L394 1466.1L396 1466L398 1466L400 1465.9L402 1465.9L404 1465.8L406 1465.8L408 1465.7L410 1465.7L412 1465.7L414 1465.6L416 1465.6L418 1465.5L420 1465.5L422 1465.4L424 1465.4L426 1465.3L428 1465.3L430 1465.2L432 1465.2L434 1465.1L436 1465.1L438 1465L440 1465L442 1464.9L444 1464.9L446 1464.8L448 1464.8L450 1464.7L452 1464.7L454 1464.6L456 1464.5L458 1464.5L460 1464.4L462 1464.3L464 1464.2L466 1464.2L468 1464.1L470 1463.9L472 1463.8L474 1463.7L476 1463.5L478 1463.3L480 1463L482 1462.8L484 1462.4L486 1462.1L488 1461.6L490 1461.2L492 1460.6L494 1460L496 1459.3L498 1458.5L500 1457.6L502 1456.7L504 1455.7L506 1454.6L508 1453.5L510 1452.4L512 1451.2L514 1449.9L516 1448.7L518 1447.5L520 1446.4L522 1445.3L524 1444.4L526 1443.5L528 1442.8L530 1442.2L532 1441.8L534 1441.6L536 1441.6L538 1441.7L540 1442.1L542 1442.6L544 1443.3L546 1444.1L548 1445L550 1446L552 1447.1L554 1448.3L556 1449.4L558 1450.6L560 1451.7L562 1452.9L564 1453.9L566 1455L568 1455.9L570 1456.8L572 1457.6L574 1458.3L576 1459L578 1459.6L580 1460.1L582 1460.5L584 1460.9L586 1461.2L588 1461.5L590 1461.7L592 1461.9L594 1462L596 1462.1L598 1462.2L600 1462.3L602 1462.4L604 1462.4L606 1462.5L608 1462.5L610 1462.5L612 1462.5L614 1462.5L616 1462.5L618 1462.5L620 1462.5L622 1462.5L624 1462.5L626 1462.5L628 1462.5L630 1462.5L632 1462.5L634 1462.5L636 1462.5L638 1462.5L640 1462.5L642 1462.5L644 1462.5L646 1462.5L648 1462.4L650 1462.4L652 1462.4L654 1462.4L656 1462.4L658 1462.4L660 1462.4L662 1462.4L664 1462.4" fill="none" stroke="#0414c8" stroke-width="6.0" stroke-linejoin="round" stroke-linecap="butt" stroke-dasharray="9 15"/>
<path d="M64 1476.8L68 1463.3L72 1471.2L76 1471.1L80 1467.8L84 1470.4L88 1472.9L92 1470.3L96 1471.2L100 1476L104 1462.4L108 1474.8L112 1477.8L116 1473.1L120 1481.3L124 1464.2L128 1468.6L132 1466.1L136 1466.9L140 1472.3L144 1462.2L148 1468.1L152 1461.8L156 1467.9L160 1468.7L164 1465.8L168 1465.8L172 1474.9L176 1463.8L180 1464.1L184 1465L188 1472.2L192 1475.3L196 1468.9L200 1464.9L204 1465.8L208 1470.9L212 1463.9L216 1472.2L220 1472L224 1467L228 1468.8L232 1469.2L236 1471.7L240 1462.4L244 1470L248 1458.7L252 1462.8L256 1465.8L260 1464.5L264 1472.7L268 1459.1L272 1461.3L276 1469.7L280 1471.2L284 1465.6L288 1465.7L292 1457.4L296 1456.4L300 1454.7L304 1446L308 1438.6L312 1440.3L316 1432.1L320 1421.1L324 1417.2L328 1406.1L332 1402.3L336 1390L340 1378.1L344 1366L348 1352L352 1340.6L356 1333.4L360 1333.6L364 1324.3L368 1321L372 1307L376 1309.6L380 1308.2L384 1309L388 1305.8L392 1304.7L396 1308.6L400 1305.6L404 1300.1L408 1308.1L412 1311L416 1300.2L420 1305L424 1300.6L428 1309.3L432 1307.2L436 1307.8L440 1312.5L444 1315L448 1322.5L452 1326.7L456 1330.1L460 1331.4L464 1325.2L468 1340.6L472 1337.3L476 1348.4L480 1355.3L484 1356.1L488 1357.9L492 1359.4L496 1366.9L500 1369.9L504 1374.3L508 1377.8L512 1392.2L516 1390.8L520 1399.2L524 1400.3L528 1406.8L532 1411.4L536 1418.7L540 1424.9L544 1428.1L548 1431.6L552 1442.7L556 1449.8L560 1456.6L564 1458.1L568 1465.2L572 1468.3L576 1462L580 1458.7L584 1468.5L588 1461.6L592 1462L596 1459.3L600 1454.8L604 1455.1L608 1463.1L612 1461.4L616 1459.1L620 1455.7L624 1454.7L628 1458.6L632 1454.8L636 1463.2L640 1464.4L644 1470.3L648 1463.3L652 1457.9L656 1456.6L660 1448L664 1457.6" fill="none" stroke="#0414c8" stroke-width="6.0" stroke-linejoin="round" stroke-linecap="round"/>
<path d="M64 1470.3L66 1470.3L68 1470.3L70 1470.3L72 1470.3L74 1470.3L76 1470.2L78 1470.2L80 1470.2L82 1470.1L84 1470.1L86 1470.1L88 1470L90 1470L92 1469.9L94 1469.9L96 1469.8L98 1469.8L100 1469.7L102 1469.7L104 1469.6L106 1469.5L108 1469.5L110 1469.4L112 1469.3L114 1469.2L116 1469.2L118 1469.1L120 1469L122 1468.9L124 1468.8L126 1468.7L128 1468.6L130 1468.5L132 1468.4L134 1468.4L136 1468.3L138 1468.2L140 1468.1L142 1467.9L144 1467.8L146 1467.7L148 1467.6L150 1467.5L152 1467.4L154 1467.3L156 1467.2L158 1467.1L160 1467L162 1466.9L164 1466.7L166 1466.6L168 1466.5L170 1466.4L172 1466.3L174 1466.2L176 1466L178 1465.9L180 1465.8L182 1465.7L184 1465.6L186 1465.4L188 1465.3L190 1465.2L192 1465L194 1464.9L196 1464.7L198 1464.6L200 1464.4L202 1464.2L204 1464L206 1463.9L208 1463.7L210 1463.5L212 1463.3L214 1463.1L216 1462.9L218 1462.6L220 1462.4L222 1462.2L224 1462L226 1461.7L228 1461.5L230 1461.3L232 1461L234 1460.8L236 1460.5L238 1460.2L240 1460L242 1459.7L244 1459.4L246 1459.1L248 1458.8L250 1458.5L252 1458.1L254 1457.8L256 1457.4L258 1457L260 1456.6L262 1456.2L264 1455.7L266 1455.3L268 1454.8L270 1454.3L272 1453.8L274 1453.2L276 1452.7L278 1452.1L280 1451.4L282 1450.8L284 1450.1L286 1449.3L288 1448.6L290 1447.8L292 1446.9L294 1446.1L296 1445.1L298 1444.2L300 1443.2L302 1442.1L304 1441L306 1439.8L308 1438.5L310 1437.1L312 1435.5L314 1433.9L316 1432L318 1430L320 1427.9L322 1425.3L324 1422.5L326 1419.3L328 1415.9L330 1412.3L332 1408.6L334 1404.8L336 1400.7L338 1396.2L340 1391.3L342 1386.2L344 1381.1L346 1376L348 1371.1L350 1366.4L352 1361.7L354 1357L356 1352.3L358 1347.7L360 1343.3L362 1339.2L364 1335.5L366 1332L368 1328.6L370 1325.3L372 1322.2L374 1319.3L376 1316.8L378 1314.8L380 1313.2L382 1311.9L384 1310.7L386 1309.6L388 1308.6L390 1307.7L392 1306.8L394 1306.1L396 1305.5L398 1305L400 1304.6L402 1304.3L404 1304L406 1303.7L408 1303.5L410 1303.3L412 1303.1L414 1303L416 1302.9L418 1302.8L420 1302.8L422 1303.1L424 1303.7L426 1304.4L428 1305.4L430 1306.4L432 1307.6L434 1308.7L436 1309.9L438 1311.3L440 1312.9L442 1314.7L444 1316.6L446 1318.7L448 1320.8L450 1322.9L452 1325L454 1327L456 1329L458 1330.9L460 1332.8L462 1334.8L464 1336.7L466 1338.7L468 1340.7L470 1342.6L472 1344.6L474 1346.6L476 1348.6L478 1350.6L480 1352.7L482 1354.7L484 1356.8L486 1358.9L488 1361L490 1363.2L492 1365.5L494 1367.8L496 1370.2L498 1372.5L500 1374.9L502 1377.3L504 1379.6L506 1381.9L508 1384.1L510 1386.2L512 1388.3L514 1390.3L516 1392.1L518 1393.8L520 1395.4L522 1397L524 1398.5L526 1400L528 1401.4L530 1402.8L532 1404.2L534 1405.5L536 1406.8L538 1408.1L540 1409.4L542 1410.7L544 1412L546 1413.3L548 1414.7L550 1416L552 1417.3L554 1418.7L556 1420L558 1421.4L560 1422.7L562 1424L564 1425.3L566 1426.6L568 1427.8L570 1429L572 1430.1L574 1431.2L576 1432.3L578 1433.2L580 1434.2L582 1435.2L584 1436.1L586 1437L588 1438L590 1438.8L592 1439.7L594 1440.5L596 1441.3L598 1442.1L600 1442.8L602 1443.4L604 1444L606 1444.5L608 1445L610 1445.4L612 1445.9L614 1446.3L616 1446.7L618 1447.1L620 1447.5L622 1447.9L624 1448.3L626 1448.7L628 1449.1L630 1449.4L632 1449.8L634 1450.1L636 1450.4L638 1450.8L640 1451L642 1451.3L644 1451.6L646 1451.8L648 1452L650 1452.2L652 1452.4L654 1452.6L656 1452.7L658 1452.8L660 1452.9L662 1453L664 1453" fill="none" stroke="#0414c8" stroke-width="5.5" stroke-linejoin="round" stroke-linecap="round"/>
<path d="M341 1770L343 1770L345 1770L347 1770L349 1769.9L351 1769.9L353 1769.9L355 1769.9L357 1769.9L359 1769.8L361 1769.8L363 1769.8L365 1769.7L367 1769.7L369 1769.7L371 1769.6L373 1769.6L375 1769.6L377 1769.5L379 1769.5L381 1769.4L383 1769.4L385 1769.4L387 1769.3L389 1769.3L391 1769.2L393 1769.2L395 1769.1L397 1769.1L399 1769L401 1769L403 1768.9L405 1768.8L407 1768.8L409 1768.7L411 1768.6L413 1768.5L415 1768.4L417 1768.3L419 1768.2L421 1768.1L423 1768L425 1767.8L427 1767.7L429 1767.6L431 1767.5L433 1767.4L435 1767.3L437 1767.2L439 1767.1L441 1766.9L443 1766.8L445 1766.7L447 1766.6L449 1766.5" fill="none" stroke="#008c00" stroke-width="6.5" stroke-linejoin="round" stroke-linecap="butt" stroke-dasharray="24 32"/>
<path d="M451 1766.3L453 1766.2L455 1766.1L457 1766L459 1765.9L461 1765.8L463 1765.7L465 1765.6L467 1765.5L469 1765.5L471 1765.5L473 1765.5L475 1765.5L477 1765.5L479 1765.4L481 1765.4L483 1765.4L485 1765.4L487 1765.4L489 1765.4L491 1765.4L493 1765.4L495 1765.4L497 1765.3L499 1765.3L501 1765.3L503 1765.3L505 1765.3L507 1765.3L509 1765.3L511 1765.3L513 1765.3L515 1765.3L517 1765.3L519 1765.2L521 1765.2L523 1765.2L525 1765.2L527 1765.2L529 1765.2L531 1765.2L533 1765.2L535 1765.2L537 1765.2L539 1765.2L541 1765.2L543 1765.2L545 1765.2L547 1765.2L549 1765.1L551 1765.1L553 1765.1L555 1765.1L557 1765.1L559 1765.1L561 1765.1L563 1765.1L565 1765.1L567 1765.1L569 1765.1L571 1765.1L573 1765.1L575 1765.1L577 1765.1L579 1765.1L581 1765.1L583 1765.1L585 1765.1L587 1765.1L589 1765.1L591 1765.1L593 1765L595 1765L597 1765L599 1765L601 1765L603 1765L605 1765L607 1765L609 1765L611 1765L613 1765L615 1765L617 1765L619 1765L621 1765L623 1765L625 1765L627 1765L629 1765L631 1765L633 1765L635 1765L637 1765L639 1765L641 1765L643 1765L645 1765L647 1765L649 1765L651 1765L653 1765L655 1765L657 1765L659 1765L661 1765L663 1765L665 1765" fill="none" stroke="#008c00" stroke-width="6.5" stroke-linejoin="round" stroke-linecap="butt" stroke-dasharray="9 15"/>
<path d="M455 1730.3L457 1732.5L459 1734.6L461 1736.7L463 1738.8L465 1740.8L467 1742.8L469 1744.7L471 1746.6L473 1748.3L475 1749.9L477 1751.4L479 1752.8L481 1754.1L483 1755.3L485 1756.3L487 1757.3L489 1758.2L491 1758.9L493 1759.6L495 1760.3L497 1760.8L499 1761.3L501 1761.7L503 1762.1L505 1762.4L507 1762.7L509 1762.9L511 1763.1L513 1763.3L515 1763.4L517 1763.6L519 1763.7" fill="none" stroke="#008c00" stroke-width="6.0" stroke-linejoin="round" stroke-linecap="butt" stroke-dasharray="9 15"/>
<path d="M461 1760.4L463 1759.8L465 1759.1L467 1758.4L469 1757.6L471 1756.8L473 1756L475 1755.1L477 1754.2L479 1753.3L481 1752.3L483 1751.3L485 1750.2L487 1749.2L489 1748.1L491 1747L493 1746L495 1745L497 1744L499 1743L501 1742.1L503 1741.3L505 1740.5L507 1739.9L509 1739.3L511 1738.9L513 1738.5L515 1738.3L517 1738.3L519 1738.3L521 1738.5L523 1738.8L525 1739.2L527 1739.8L529 1740.4L531 1741.2L533 1742L535 1742.9L537 1743.8L539 1744.8L541 1745.8L543 1746.8L545 1747.9L547 1748.9L549 1750L551 1751L553 1752L555 1752.9L557 1753.9L559 1754.8L561 1755.6L563 1756.4L565 1757.2L567 1757.9L569 1758.6L571 1759.2L573 1759.8L575 1760.3L577 1760.8L579 1761.2L581 1761.6L583 1761.9L585 1762.3L587 1762.5L589 1762.8L591 1763L593 1763.2L595 1763.4L597 1763.5L599 1763.7" fill="none" stroke="#008c00" stroke-width="6.0" stroke-linejoin="round" stroke-linecap="butt" stroke-dasharray="9 15"/>
<path d="M81 1772.5L85 1773.5L89 1773.2L93 1769L97 1769.5L101 1768.5L105 1771.2L109 1768.4L113 1769.5L117 1770.7L121 1768.6L125 1767.5L129 1767.7L133 1772.4L137 1765.3L141 1774L145 1774L149 1770.4L153 1772.9L157 1767.6L161 1783.2L165 1774.4L169 1762.2L173 1769.5L177 1772L181 1766.3L185 1769.1L189 1773L193 1771.3L197 1769.9L201 1773.5L205 1768.4L209 1771.7L213 1769.7L217 1768.8L221 1772.1L225 1768.5L229 1775.8L233 1762.5L237 1776L241 1768.1L245 1772.3L249 1767.6L253 1767.2L257 1768.7L261 1772.4L265 1767.4L269 1773.6L273 1768.5L277 1770.8L281 1771.6L285 1771.8L289 1765.8L293 1774.5L297 1771.8L301 1769.1L305 1766.5L309 1765.6L313 1766.5L317 1774.7L321 1769.1L325 1767L329 1768.5L333 1773.8L337 1768.9L341 1767.1L345 1772.2L349 1769.1L353 1766.9L357 1764L361 1759.6L365 1756.6L369 1753.6L373 1749.8L377 1747.7L381 1744.6L385 1740.3L389 1737.1L393 1730.4L397 1724.5L401 1726L405 1721.8L409 1714.8L413 1718.8L417 1724.2L421 1712.5L425 1713.5L429 1713.3L433 1711.9L437 1716.8L441 1717.5L445 1717.7L449 1725L453 1730.1L457 1726L461 1732.9L465 1735.4L469 1732.7L473 1733.8L477 1742.7L481 1739.1L485 1738.7L489 1738.8L493 1739.6L497 1739.6L501 1739L505 1742.3L509 1736L513 1734L517 1738.3L521 1738.5L525 1740.1L529 1735.6L533 1742.3L537 1742.1L541 1746.7L545 1740.9L549 1746.8L553 1747.8L557 1746.5L561 1754.3L565 1756.8L569 1754L573 1754.6L577 1759.9L581 1761.3L585 1762.1L589 1758.2L593 1760.6L597 1763.8L601 1759.9L605 1765.5L609 1764.5L613 1766.7L617 1760L621 1756.5L625 1759.7L629 1761.2L633 1763.8L637 1766L641 1764.2L645 1763L649 1765.3L653 1772.5L657 1764.9L661 1763.6L665 1772.2" fill="none" stroke="#008c00" stroke-width="6.0" stroke-linejoin="round" stroke-linecap="round"/>
<path d="M81 1771.3L83 1771.3L85 1771.3L87 1771.3L89 1771.3L91 1771.3L93 1771.3L95 1771.3L97 1771.3L99 1771.3L101 1771.3L103 1771.3L105 1771.3L107 1771.3L109 1771.3L111 1771.3L113 1771.3L115 1771.3L117 1771.3L119 1771.3L121 1771.3L123 1771.3L125 1771.3L127 1771.3L129 1771.3L131 1771.3L133 1771.3L135 1771.3L137 1771.3L139 1771.3L141 1771.3L143 1771.3L145 1771.2L147 1771.2L149 1771.2L151 1771.2L153 1771.2L155 1771.2L157 1771.2L159 1771.2L161 1771.2L163 1771.2L165 1771.2L167 1771.2L169 1771.2L171 1771.2L173 1771.2L175 1771.2L177 1771.2L179 1771.2L181 1771.2L183 1771.1L185 1771.1L187 1771.1L189 1771.1L191 1771.1L193 1771.1L195 1771.1L197 1771.1L199 1771.1L201 1771.1L203 1771.1L205 1771.1L207 1771L209 1771L211 1771L213 1771L215 1771L217 1771L219 1771L221 1771L223 1771L225 1770.9L227 1770.9L229 1770.9L231 1770.9L233 1770.9L235 1770.9L237 1770.9L239 1770.9L241 1770.8L243 1770.8L245 1770.8L247 1770.8L249 1770.8L251 1770.8L253 1770.7L255 1770.7L257 1770.7L259 1770.7L261 1770.7L263 1770.7L265 1770.6L267 1770.6L269 1770.6L271 1770.6L273 1770.6L275 1770.5L277 1770.5L279 1770.5L281 1770.5L283 1770.5L285 1770.4L287 1770.4L289 1770.4L291 1770.4L293 1770.4L295 1770.3L297 1770.3L299 1770.3L301 1770.3L303 1770.2L305 1770.2L307 1770.2L309 1770.2L311 1770.1L313 1770.1L315 1770.1L317 1770L319 1770L321 1770L323 1770L325 1769.9L327 1769.9L329 1769.9L331 1769.8L333 1769.8L335 1769.8L337 1769.7L339 1769.5L341 1769.3L343 1769L345 1768.7L347 1768.3L349 1767.9L351 1767.4L353 1766.8L355 1766.3L357 1765.6L359 1764.9L361 1763.7L363 1761.9L365 1759.8L367 1757.4L369 1755L371 1752.6L373 1750.5L375 1748.6L377 1746.8L379 1745L381 1743.2L383 1741.4L385 1739.7L387 1738L389 1736.3L391 1734.7L393 1733.1L395 1731.6L397 1730.1L399 1728.6L401 1727.2L403 1725.7L405 1724.4L407 1723L409 1721.8L411 1720.6L413 1719.6L415 1718.6L417 1717.5L419 1716.5L421 1715.5L423 1714.6L425 1713.8L427 1713.3L429 1713L431 1713.1L433 1713.6L435 1714.4L437 1715.5L439 1716.8L441 1718.1L443 1719.3L445 1720.4L447 1721.5L449 1722.7L451 1724L453 1725.2L455 1726.5L457 1727.7L459 1728.8L461 1729.8L463 1730.8L465 1731.8L467 1732.8L469 1733.8L471 1734.8L473 1735.8L475 1736.7L477 1737.5L479 1738.2L481 1738.7L483 1739.1L485 1739.4L487 1739.4L489 1739.4L491 1739.4L493 1739.4L495 1739.4L497 1739.4L499 1739.4L501 1739.4L503 1739.3L505 1739L507 1738.4L509 1737.9L511 1737.3L513 1736.7L515 1736.4L517 1736.3L519 1736.4L521 1736.6L523 1736.9L525 1737.3L527 1737.8L529 1738.3L531 1738.9L533 1739.5L535 1740.1L537 1740.7L539 1741.4L541 1742.1L543 1743L545 1744L547 1745.1L549 1746.3L551 1747.4L553 1748.6L555 1749.7L557 1750.7L559 1751.7L561 1752.5L563 1753.2L565 1753.9L567 1754.6L569 1755.2L571 1755.8L573 1756.4L575 1757L577 1757.6L579 1758.1L581 1758.6L583 1759.1L585 1759.5L587 1759.9L589 1760.2L591 1760.5L593 1760.7L595 1760.9L597 1761.2L599 1761.4L601 1761.6L603 1761.8L605 1762L607 1762.2L609 1762.3L611 1762.5L613 1762.7L615 1762.9L617 1763L619 1763.2L621 1763.4L623 1763.5L625 1763.7L627 1763.8L629 1763.9L631 1764.1L633 1764.2L635 1764.3L637 1764.4L639 1764.5L641 1764.6L643 1764.7L645 1764.8L647 1764.9L649 1764.9L651 1765L653 1765L655 1765.1L657 1765.1L659 1765.2L661 1765.2L663 1765.2L665 1765.2" fill="none" stroke="#008c00" stroke-width="5.5" stroke-linejoin="round" stroke-linecap="round"/>
<line x1="354.5" y1="1122" x2="354.5" y2="1787" stroke="#d42020" stroke-width="2.1" stroke-dasharray="5.8 5"/>
<line x1="440.8" y1="1152" x2="440.8" y2="1787" stroke="#d42020" stroke-width="2.1" stroke-dasharray="5.8 5"/>
<line x1="428" y1="1716" x2="428" y2="1787" stroke="#20a020" stroke-width="2.1" stroke-dasharray="5.8 5"/>
<line x1="516.8" y1="1742" x2="516.8" y2="1787" stroke="#20a020" stroke-width="2.1" stroke-dasharray="5.8 5"/>
<path d="M743.4 1162L745.4 1162L747.4 1162L749.4 1162L751.4 1162L753.4 1162L755.4 1162L757.4 1162L759.4 1162L761.4 1162L763.4 1162L765.4 1162L767.4 1162L769.4 1162L771.4 1162L773.4 1162L775.4 1162L777.4 1162L779.4 1162L781.4 1162L783.4 1161.9L785.4 1161.9L787.4 1161.9L789.4 1161.9L791.4 1161.9L793.4 1161.9L795.4 1161.9L797.4 1161.9L799.4 1161.9L801.4 1161.9L803.4 1161.8L805.4 1161.8L807.4 1161.8L809.4 1161.8L811.4 1161.7L813.4 1161.7L815.4 1161.6L817.4 1161.6L819.4 1161.5L821.4 1161.4L823.4 1161.4L825.4 1161.3L827.4 1161.2L829.4 1161L831.4 1160.9L833.4 1160.8L835.4 1160.6L837.4 1160.5L839.4 1160.3L841.4 1160.1L843.4 1160L845.4 1159.8L847.4 1159.6L849.4 1159.4L851.4 1159.2L853.4 1159L855.4 1158.8L857.4 1158.7L859.4 1158.5L861.4 1158.3L863.4 1158.2L865.4 1158.1L867.4 1157.9L869.4 1157.8L871.4 1157.7L873.4 1157.6L875.4 1157.5L877.4 1157.5L879.4 1157.4L881.4 1157.3L883.4 1157.3L885.4 1157.2L887.4 1157.2L889.4 1157.2L891.4 1157.2L893.4 1157.1L895.4 1157.1L897.4 1157.1L899.4 1157.1L901.4 1157.1L903.4 1157.1L905.4 1157L907.4 1157L909.4 1157L911.4 1157L913.4 1157L915.4 1157L917.4 1157L919.4 1157L921.4 1157L923.4 1157L925.4 1157L927.4 1157L929.4 1157L931.4 1157L933.4 1157L935.4 1157L937.4 1157L939.4 1157L941.4 1157L943.4 1157L945.4 1157L947.4 1157L949.4 1157L951.4 1157L953.4 1157L955.4 1157L957.4 1157L959.4 1157L961.4 1157L963.4 1157L965.4 1157L967.4 1157L969.4 1157L971.4 1156.9L973.4 1156.9L975.4 1156.9L977.4 1156.9L979.4 1156.9L981.4 1156.9L983.4 1156.9L985.4 1156.9L987.4 1156.9L989.4 1156.9L991.4 1156.9L993.4 1156.9L995.4 1156.9L997.4 1156.9L999.4 1156.9L1001.4 1156.9L1003.4 1156.9L1005.4 1156.9L1007.4 1156.9L1009.4 1156.9L1011.4 1156.9L1013.4 1156.9L1015.4 1156.9L1017.4 1156.9L1019.4 1156.9L1021.4 1156.9L1023.4 1156.9L1025.4 1156.9L1027.4 1156.9L1029.4 1156.9L1031.4 1156.9L1033.4 1156.9L1035.4 1156.8L1037.4 1156.8L1039.4 1156.8L1041.4 1156.8L1043.4 1156.8L1045.4 1156.8L1047.4 1156.8L1049.4 1156.8L1051.4 1156.8L1053.4 1156.8L1055.4 1156.8L1057.4 1156.7L1059.4 1156.7L1061.4 1156.7L1063.4 1156.7L1065.4 1156.7L1067.4 1156.7L1069.4 1156.6L1071.4 1156.6L1073.4 1156.6L1075.4 1156.6L1077.4 1156.5L1079.4 1156.5L1081.4 1156.5L1083.4 1156.5L1085.4 1156.4L1087.4 1156.4L1089.4 1156.4L1091.4 1156.3L1093.4 1156.3L1095.4 1156.3L1097.4 1156.2L1099.4 1156.2L1101.4 1156.2L1103.4 1156.1L1105.4 1156.1L1107.4 1156L1109.4 1156L1111.4 1156L1113.4 1155.9L1115.4 1155.9L1117.4 1155.8L1119.4 1155.8L1121.4 1155.7L1123.4 1155.7L1125.4 1155.6L1127.4 1155.6L1129.4 1155.5L1131.4 1155.5L1133.4 1155.4L1135.4 1155.4L1137.4 1155.3L1139.4 1155.3L1141.4 1155.2L1143.4 1155.2L1145.4 1155.1L1147.4 1155.1L1149.4 1155.1L1151.4 1155L1153.4 1155L1155.4 1154.9L1157.4 1154.9L1159.4 1154.8L1161.4 1154.8L1163.4 1154.8L1165.4 1154.7L1167.4 1154.7L1169.4 1154.6L1171.4 1154.6L1173.4 1154.6L1175.4 1154.5L1177.4 1154.5L1179.4 1154.5L1181.4 1154.5L1183.4 1154.4L1185.4 1154.4L1187.4 1154.4L1189.4 1154.4L1191.4 1154.3L1193.4 1154.3L1195.4 1154.3L1197.4 1154.3L1199.4 1154.3L1201.4 1154.2L1203.4 1154.2L1205.4 1154.2L1207.4 1154.2L1209.4 1154.2L1211.4 1154.2L1213.4 1154.2L1215.4 1154.2L1217.4 1154.1L1219.4 1154.1L1221.4 1154.1L1223.4 1154.1L1225.4 1154.1L1227.4 1154.1L1229.4 1154.1L1231.4 1154.1L1233.4 1154.1L1235.4 1154.1L1237.4 1154.1L1239.4 1154.1L1241.4 1154.1L1243.4 1154.1L1245.4 1154.1L1247.4 1154.1L1249.4 1154.1L1251.4 1154L1253.4 1154L1255.4 1154L1257.4 1154L1259.4 1154L1261.4 1154L1263.4 1154L1265.4 1154L1267.4 1154L1269.4 1154L1271.4 1154L1273.4 1154L1275.4 1154L1277.4 1154L1279.4 1154L1281.4 1154L1283.4 1154L1285.4 1154L1287.4 1154L1289.4 1154L1291.4 1154L1293.4 1154L1295.4 1154L1297.4 1154L1299.4 1154L1301.4 1154L1303.4 1154L1305.4 1154L1307.4 1154L1309.4 1154L1311.4 1154L1313.4 1154L1315.4 1154L1317.4 1154L1319.4 1154L1321.4 1154L1323.4 1154L1325.4 1154L1327.4 1154L1329.4 1154L1331.4 1154L1333.4 1154L1335.4 1154L1337.4 1154L1339.4 1154L1341.4 1154L1343.4 1154" fill="none" stroke="#000000" stroke-width="6.5" stroke-linejoin="round" stroke-linecap="butt" stroke-dasharray="23.5 32" stroke-dashoffset="30"/>
<path d="M743.4 1160.9L746.4 1160.8L749.4 1161.3L752.4 1160.6L755.4 1159.7L758.4 1159.9L761.4 1160.5L764.4 1160.6L767.4 1160.4L770.4 1160.8L773.4 1160.7L776.4 1160.1L779.4 1159.5L782.4 1159L785.4 1159L788.4 1158.5L791.4 1157.2L794.4 1155.9L797.4 1153.7L800.4 1150.7L803.4 1148.1L806.4 1145.3L809.4 1140.8L812.4 1135.4L815.4 1127.8L818.4 1120L821.4 1111.1L824.4 1100.6L827.4 1088.8L830.4 1077.7L833.4 1066.6L836.4 1055.6L839.4 1047L842.4 1039.6L845.4 1033.8L848.4 1032L851.4 1031.3L854.4 1034.1L857.4 1039.6L860.4 1047.3L863.4 1057.2L866.4 1067.8L869.4 1079.4L872.4 1089.8L875.4 1099.9L878.4 1108.9L881.4 1117L884.4 1125L887.4 1131.5L890.4 1137.6L893.4 1141.9L896.4 1146L899.4 1148.4L902.4 1150.2L905.4 1151.4L908.4 1152.5L911.4 1153.6L914.4 1154.2L917.4 1153.9L920.4 1155L923.4 1156.2L926.4 1155.1L929.4 1154.7L932.4 1154.5L935.4 1154.5L938.4 1155.8L941.4 1155.6L944.4 1155.9L947.4 1156.9L950.4 1157.1L953.4 1155.6L956.4 1156.1L959.4 1156.2L962.4 1156L965.4 1156L968.4 1155.9L971.4 1156.6L974.4 1156.3L977.4 1156.1L980.4 1156.5L983.4 1156.4L986.4 1156L989.4 1156L992.4 1156.6L995.4 1155.9L998.4 1155.2L1001.4 1154.7L1004.4 1154.7L1007.4 1154.4L1010.4 1154.8L1013.4 1154.5L1016.4 1153.3L1019.4 1154L1022.4 1154.4L1025.4 1153.7L1028.4 1153L1031.4 1153.4L1034.4 1152.1L1037.4 1151.1L1040.4 1150.7L1043.4 1150.9L1046.4 1151L1049.4 1150.4L1052.4 1148.9L1055.4 1147.2L1058.4 1146.4L1061.4 1145.5L1064.4 1144.7L1067.4 1143.1L1070.4 1142.9L1073.4 1142.2L1076.4 1140.7L1079.4 1139.4L1082.4 1137.4L1085.4 1135.7L1088.4 1135L1091.4 1134.8L1094.4 1133.4L1097.4 1131.5L1100.4 1130.7L1103.4 1129.1L1106.4 1128.6L1109.4 1127.1L1112.4 1125.6L1115.4 1125L1118.4 1123.4L1121.4 1122.3L1124.4 1121.7L1127.4 1122.1L1130.4 1121.9L1133.4 1121.7L1136.4 1121.8L1139.4 1122.7L1142.4 1122.2L1145.4 1122.5L1148.4 1124.2L1151.4 1125.1L1154.4 1125.1L1157.4 1124.8L1160.4 1126.4L1163.4 1128.2L1166.4 1129.4L1169.4 1130.9L1172.4 1131L1175.4 1132.8L1178.4 1133.9L1181.4 1135.8L1184.4 1136.7L1187.4 1138.1L1190.4 1138.4L1193.4 1138.9L1196.4 1140.1L1199.4 1141.5L1202.4 1142.6L1205.4 1144.8L1208.4 1145.9L1211.4 1146L1214.4 1146L1217.4 1147L1220.4 1147.8L1223.4 1149.4L1226.4 1149.6L1229.4 1149.9L1232.4 1149.7L1235.4 1149.2L1238.4 1150L1241.4 1150.5L1244.4 1151.6L1247.4 1151.8L1250.4 1151.5L1253.4 1152.1L1256.4 1153.1L1259.4 1152.1L1262.4 1152L1265.4 1152.4L1268.4 1152.4L1271.4 1152.7L1274.4 1153.5L1277.4 1153.9L1280.4 1152.4L1283.4 1153L1286.4 1153.3L1289.4 1153.3L1292.4 1153.2L1295.4 1153.3L1298.4 1153.9L1301.4 1153.3L1304.4 1153.3L1307.4 1153.5L1310.4 1153.6L1313.4 1153.6L1316.4 1154.1L1319.4 1153.7L1322.4 1153.7L1325.4 1153.4L1328.4 1152.9L1331.4 1152.8L1334.4 1152.9L1337.4 1153.5L1340.4 1153.1L1343.4 1153" fill="none" stroke="#000000" stroke-width="6.0" stroke-linejoin="round" stroke-linecap="round"/>
<path d="M743.4 1353L745.4 1353L747.4 1353L749.4 1353L751.4 1353L753.4 1353L755.4 1353L757.4 1353L759.4 1353L761.4 1353L763.4 1353L765.4 1353L767.4 1353L769.4 1353L771.4 1353L773.4 1353L775.4 1353L777.4 1353L779.4 1352.9L781.4 1352.9L783.4 1352.9L785.4 1352.9L787.4 1352.9L789.4 1352.9L791.4 1352.9L793.4 1352.9L795.4 1352.9L797.4 1352.9L799.4 1352.9L801.4 1352.9L803.4 1352.8L805.4 1352.8L807.4 1352.8L809.4 1352.8L811.4 1352.7L813.4 1352.7L815.4 1352.7L817.4 1352.6L819.4 1352.6L821.4 1352.5L823.4 1352.5L825.4 1352.4L827.4 1352.3L829.4 1352.3L831.4 1352.2L833.4 1352.1L835.4 1352L837.4 1351.9L839.4 1351.7L841.4 1351.6L843.4 1351.5L845.4 1351.3L847.4 1351.2L849.4 1351L851.4 1350.9L853.4 1350.7L855.4 1350.5L857.4 1350.3L859.4 1350.2L861.4 1350L863.4 1349.8L865.4 1349.6L867.4 1349.5L869.4 1349.3L871.4 1349.1L873.4 1349L875.4 1348.8L877.4 1348.6L879.4 1348.5L881.4 1348.4L883.4 1348.2L885.4 1348.1L887.4 1348L889.4 1347.9L891.4 1347.8L893.4 1347.7L895.4 1347.6L897.4 1347.5L899.4 1347.5L901.4 1347.4L903.4 1347.4L905.4 1347.3L907.4 1347.3L909.4 1347.2L911.4 1347.2L913.4 1347.2L915.4 1347.1L917.4 1347.1L919.4 1347.1L921.4 1347.1L923.4 1347.1L925.4 1347L927.4 1347L929.4 1347L931.4 1347L933.4 1347L935.4 1347L937.4 1347L939.4 1347L941.4 1347L943.4 1347L945.4 1347L947.4 1347L949.4 1347L951.4 1347L953.4 1347L955.4 1347L957.4 1346.9L959.4 1346.9L961.4 1346.9L963.4 1346.9L965.4 1346.9L967.4 1346.9L969.4 1346.9L971.4 1346.9L973.4 1346.9L975.4 1346.9L977.4 1346.9L979.4 1346.9L981.4 1346.9L983.4 1346.9L985.4 1346.9L987.4 1346.9L989.4 1346.9L991.4 1346.9L993.4 1346.9L995.4 1346.9L997.4 1346.9L999.4 1346.9L1001.4 1346.9L1003.4 1346.9L1005.4 1346.9L1007.4 1346.9L1009.4 1346.9L1011.4 1346.9L1013.4 1346.9L1015.4 1346.9L1017.4 1346.9L1019.4 1346.9L1021.4 1346.9L1023.4 1346.9L1025.4 1346.9L1027.4 1346.9L1029.4 1346.9L1031.4 1346.8L1033.4 1346.8L1035.4 1346.8L1037.4 1346.8L1039.4 1346.8L1041.4 1346.8L1043.4 1346.8L1045.4 1346.8L1047.4 1346.8L1049.4 1346.8L1051.4 1346.8L1053.4 1346.8L1055.4 1346.8L1057.4 1346.8L1059.4 1346.8L1061.4 1346.8L1063.4 1346.7L1065.4 1346.7L1067.4 1346.7L1069.4 1346.7L1071.4 1346.7L1073.4 1346.7L1075.4 1346.7L1077.4 1346.7L1079.4 1346.7L1081.4 1346.6L1083.4 1346.6L1085.4 1346.6L1087.4 1346.6L1089.4 1346.6L1091.4 1346.5L1093.4 1346.5L1095.4 1346.5L1097.4 1346.5L1099.4 1346.5L1101.4 1346.4L1103.4 1346.4L1105.4 1346.4L1107.4 1346.4L1109.4 1346.3L1111.4 1346.3L1113.4 1346.3L1115.4 1346.2L1117.4 1346.2L1119.4 1346.2L1121.4 1346.1L1123.4 1346.1L1125.4 1346.1L1127.4 1346L1129.4 1346L1131.4 1345.9L1133.4 1345.9L1135.4 1345.9L1137.4 1345.8L1139.4 1345.8L1141.4 1345.7L1143.4 1345.7L1145.4 1345.6L1147.4 1345.6L1149.4 1345.6L1151.4 1345.5L1153.4 1345.5L1155.4 1345.4L1157.4 1345.4L1159.4 1345.3L1161.4 1345.3L1163.4 1345.3L1165.4 1345.2L1167.4 1345.2L1169.4 1345.1L1171.4 1345.1L1173.4 1345L1175.4 1345L1177.4 1345L1179.4 1344.9L1181.4 1344.9L1183.4 1344.8L1185.4 1344.8L1187.4 1344.8L1189.4 1344.7L1191.4 1344.7L1193.4 1344.7L1195.4 1344.6L1197.4 1344.6L1199.4 1344.6L1201.4 1344.5L1203.4 1344.5L1205.4 1344.5L1207.4 1344.5L1209.4 1344.4L1211.4 1344.4L1213.4 1344.4L1215.4 1344.4L1217.4 1344.3L1219.4 1344.3L1221.4 1344.3L1223.4 1344.3L1225.4 1344.3L1227.4 1344.3L1229.4 1344.2L1231.4 1344.2L1233.4 1344.2L1235.4 1344.2L1237.4 1344.2L1239.4 1344.2L1241.4 1344.2L1243.4 1344.2L1245.4 1344.1L1247.4 1344.1L1249.4 1344.1L1251.4 1344.1L1253.4 1344.1L1255.4 1344.1L1257.4 1344.1L1259.4 1344.1L1261.4 1344.1L1263.4 1344.1L1265.4 1344.1L1267.4 1344.1L1269.4 1344.1L1271.4 1344.1L1273.4 1344.1L1275.4 1344.1L1277.4 1344L1279.4 1344L1281.4 1344L1283.4 1344L1285.4 1344L1287.4 1344L1289.4 1344L1291.4 1344L1293.4 1344L1295.4 1344L1297.4 1344L1299.4 1344L1301.4 1344L1303.4 1344L1305.4 1344L1307.4 1344L1309.4 1344L1311.4 1344L1313.4 1344L1315.4 1344L1317.4 1344L1319.4 1344L1321.4 1344L1323.4 1344L1325.4 1344L1327.4 1344L1329.4 1344L1331.4 1344L1333.4 1344L1335.4 1344L1337.4 1344L1339.4 1344L1341.4 1344L1343.4 1344" fill="none" stroke="#cc0000" stroke-width="6.5" stroke-linejoin="round" stroke-linecap="butt" stroke-dasharray="23.5 32" stroke-dashoffset="30"/>
<path d="M743.4 1352L746.4 1351.2L749.4 1352L752.4 1352.1L755.4 1352.4L758.4 1352.8L761.4 1352.7L764.4 1352.1L767.4 1351.5L770.4 1350.5L773.4 1350.8L776.4 1351L779.4 1350.4L782.4 1350.1L785.4 1349.6L788.4 1350.7L791.4 1350.5L794.4 1347.9L797.4 1346.8L800.4 1345.4L803.4 1344.5L806.4 1342L809.4 1339L812.4 1335.8L815.4 1332.3L818.4 1327.8L821.4 1324L824.4 1318.3L827.4 1313.3L830.4 1307.3L833.4 1301.3L836.4 1294.1L839.4 1287.5L842.4 1279.8L845.4 1274L848.4 1267.7L851.4 1262.6L854.4 1258.4L857.4 1255.2L860.4 1251.6L863.4 1251.8L866.4 1252.1L869.4 1255.3L872.4 1256.8L875.4 1261.2L878.4 1266.6L881.4 1274.2L884.4 1279.1L887.4 1285.9L890.4 1291.9L893.4 1297.4L896.4 1304.5L899.4 1311.1L902.4 1316.1L905.4 1321.3L908.4 1324.7L911.4 1328.4L914.4 1331.5L917.4 1334.9L920.4 1338.2L923.4 1339.1L926.4 1340.1L929.4 1340.6L932.4 1341.7L935.4 1343.6L938.4 1342.8L941.4 1343L944.4 1344L947.4 1344.6L950.4 1345.8L953.4 1343.6L956.4 1345.1L959.4 1345.6L962.4 1344.5L965.4 1344.8L968.4 1345.9L971.4 1346.6L974.4 1344.8L977.4 1344.4L980.4 1346.3L983.4 1346.9L986.4 1345.2L989.4 1344.2L992.4 1346.3L995.4 1345.9L998.4 1346.4L1001.4 1345.7L1004.4 1345.2L1007.4 1345.4L1010.4 1346.8L1013.4 1346.4L1016.4 1343.8L1019.4 1344.5L1022.4 1346.3L1025.4 1344.9L1028.4 1343.9L1031.4 1344.5L1034.4 1344.5L1037.4 1344.3L1040.4 1343.8L1043.4 1343.6L1046.4 1343.4L1049.4 1343.5L1052.4 1342.6L1055.4 1342.4L1058.4 1342.5L1061.4 1343L1064.4 1342.1L1067.4 1341.2L1070.4 1341L1073.4 1340.6L1076.4 1340.4L1079.4 1339.6L1082.4 1339.7L1085.4 1338.7L1088.4 1336.7L1091.4 1335.7L1094.4 1335.7L1097.4 1334.7L1100.4 1333.1L1103.4 1331L1106.4 1330L1109.4 1330.7L1112.4 1330.6L1115.4 1329.4L1118.4 1327.4L1121.4 1327.6L1124.4 1326.2L1127.4 1325.9L1130.4 1325.1L1133.4 1323.5L1136.4 1322.5L1139.4 1321.1L1142.4 1321L1145.4 1320.6L1148.4 1321.7L1151.4 1321.8L1154.4 1322.1L1157.4 1321.6L1160.4 1320.9L1163.4 1321.5L1166.4 1321.5L1169.4 1322.3L1172.4 1322.4L1175.4 1322L1178.4 1323L1181.4 1323.8L1184.4 1324.4L1187.4 1326L1190.4 1327.2L1193.4 1326.5L1196.4 1326.6L1199.4 1326.3L1202.4 1328.3L1205.4 1329L1208.4 1328.9L1211.4 1331.3L1214.4 1332.5L1217.4 1332.4L1220.4 1333.1L1223.4 1333.7L1226.4 1335.2L1229.4 1334.7L1232.4 1336.3L1235.4 1338.5L1238.4 1338.1L1241.4 1338.5L1244.4 1338.4L1247.4 1338.2L1250.4 1339.4L1253.4 1340.1L1256.4 1339.7L1259.4 1341L1262.4 1342.2L1265.4 1342.1L1268.4 1340.4L1271.4 1340.5L1274.4 1340.8L1277.4 1342.8L1280.4 1343.2L1283.4 1343L1286.4 1341.9L1289.4 1341.8L1292.4 1342.7L1295.4 1342.9L1298.4 1342.5L1301.4 1343.2L1304.4 1343.8L1307.4 1343.4L1310.4 1342.2L1313.4 1341.5L1316.4 1342.8L1319.4 1343.5L1322.4 1343.2L1325.4 1343L1328.4 1343L1331.4 1343.9L1334.4 1343.7L1337.4 1343.5L1340.4 1342.8L1343.4 1343" fill="none" stroke="#cc0000" stroke-width="6.0" stroke-linejoin="round" stroke-linecap="round"/>
<path d="M743.4 1553.5L745.4 1553.5L747.4 1553.5L749.4 1553.5L751.4 1553.5L753.4 1553.5L755.4 1553.5L757.4 1553.5L759.4 1553.5L761.4 1553.5L763.4 1553.5L765.4 1553.5L767.4 1553.5L769.4 1553.5L771.4 1553.5L773.4 1553.5L775.4 1553.5L777.4 1553.5L779.4 1553.5L781.4 1553.5L783.4 1553.5L785.4 1553.5L787.4 1553.5L789.4 1553.5L791.4 1553.5L793.4 1553.5L795.4 1553.5L797.4 1553.4L799.4 1553.4L801.4 1553.4L803.4 1553.4L805.4 1553.4L807.4 1553.4L809.4 1553.4L811.4 1553.4L813.4 1553.4L815.4 1553.4L817.4 1553.4L819.4 1553.4L821.4 1553.4L823.4 1553.3L825.4 1553.3L827.4 1553.3L829.4 1553.3L831.4 1553.2L833.4 1553.2L835.4 1553.2L837.4 1553.1L839.4 1553.1L841.4 1553L843.4 1553L845.4 1552.9L847.4 1552.8L849.4 1552.8L851.4 1552.7L853.4 1552.6L855.4 1552.5L857.4 1552.4L859.4 1552.3L861.4 1552.2L863.4 1552L865.4 1551.9L867.4 1551.8L869.4 1551.6L871.4 1551.5L873.4 1551.3L875.4 1551.2L877.4 1551.1L879.4 1550.9L881.4 1550.8L883.4 1550.6L885.4 1550.5L887.4 1550.4L889.4 1550.2L891.4 1550.1L893.4 1550L895.4 1549.9L897.4 1549.8L899.4 1549.7L901.4 1549.6L903.4 1549.5L905.4 1549.5L907.4 1549.4L909.4 1549.3L911.4 1549.3L913.4 1549.2L915.4 1549.2L917.4 1549.2L919.4 1549.1L921.4 1549.1L923.4 1549.1L925.4 1549L927.4 1549L929.4 1549L931.4 1549L933.4 1549L935.4 1549L937.4 1549L939.4 1548.9L941.4 1548.9L943.4 1548.9L945.4 1548.9L947.4 1548.9L949.4 1548.9L951.4 1548.9L953.4 1548.9L955.4 1548.9L957.4 1548.9L959.4 1548.9L961.4 1548.9L963.4 1548.9L965.4 1548.9L967.4 1548.9L969.4 1548.9L971.4 1548.9L973.4 1548.9L975.4 1548.9L977.4 1548.9L979.4 1548.9L981.4 1548.9L983.4 1548.9L985.4 1548.9L987.4 1548.9L989.4 1548.9L991.4 1548.9L993.4 1548.9L995.4 1548.9L997.4 1548.9L999.4 1548.9L1001.4 1548.9L1003.4 1548.9L1005.4 1548.9L1007.4 1548.8L1009.4 1548.8L1011.4 1548.8L1013.4 1548.8L1015.4 1548.8L1017.4 1548.8L1019.4 1548.8L1021.4 1548.8L1023.4 1548.8L1025.4 1548.8L1027.4 1548.8L1029.4 1548.8L1031.4 1548.8L1033.4 1548.8L1035.4 1548.8L1037.4 1548.8L1039.4 1548.8L1041.4 1548.8L1043.4 1548.8L1045.4 1548.8L1047.4 1548.8L1049.4 1548.8L1051.4 1548.8L1053.4 1548.8L1055.4 1548.8L1057.4 1548.8L1059.4 1548.8L1061.4 1548.8L1063.4 1548.8L1065.4 1548.8L1067.4 1548.8L1069.4 1548.7L1071.4 1548.7L1073.4 1548.7L1075.4 1548.7L1077.4 1548.7L1079.4 1548.7L1081.4 1548.7L1083.4 1548.7L1085.4 1548.7L1087.4 1548.7L1089.4 1548.7L1091.4 1548.6L1093.4 1548.6L1095.4 1548.6L1097.4 1548.6L1099.4 1548.6L1101.4 1548.6L1103.4 1548.5L1105.4 1548.5L1107.4 1548.5L1109.4 1548.5L1111.4 1548.5L1113.4 1548.5L1115.4 1548.4L1117.4 1548.4L1119.4 1548.4L1121.4 1548.4L1123.4 1548.3L1125.4 1548.3L1127.4 1548.3L1129.4 1548.3L1131.4 1548.2L1133.4 1548.2L1135.4 1548.2L1137.4 1548.1L1139.4 1548.1L1141.4 1548.1L1143.4 1548L1145.4 1548L1147.4 1548L1149.4 1547.9L1151.4 1547.9L1153.4 1547.9L1155.4 1547.8L1157.4 1547.8L1159.4 1547.8L1161.4 1547.7L1163.4 1547.7L1165.4 1547.7L1167.4 1547.6L1169.4 1547.6L1171.4 1547.6L1173.4 1547.5L1175.4 1547.5L1177.4 1547.4L1179.4 1547.4L1181.4 1547.4L1183.4 1547.3L1185.4 1547.3L1187.4 1547.3L1189.4 1547.2L1191.4 1547.2L1193.4 1547.2L1195.4 1547.2L1197.4 1547.1L1199.4 1547.1L1201.4 1547.1L1203.4 1547L1205.4 1547L1207.4 1547L1209.4 1547L1211.4 1546.9L1213.4 1546.9L1215.4 1546.9L1217.4 1546.9L1219.4 1546.9L1221.4 1546.8L1223.4 1546.8L1225.4 1546.8L1227.4 1546.8L1229.4 1546.8L1231.4 1546.7L1233.4 1546.7L1235.4 1546.7L1237.4 1546.7L1239.4 1546.7L1241.4 1546.7L1243.4 1546.7L1245.4 1546.7L1247.4 1546.6L1249.4 1546.6L1251.4 1546.6L1253.4 1546.6L1255.4 1546.6L1257.4 1546.6L1259.4 1546.6L1261.4 1546.6L1263.4 1546.6L1265.4 1546.6L1267.4 1546.6L1269.4 1546.6L1271.4 1546.6L1273.4 1546.6L1275.4 1546.6L1277.4 1546.6L1279.4 1546.5L1281.4 1546.5L1283.4 1546.5L1285.4 1546.5L1287.4 1546.5L1289.4 1546.5L1291.4 1546.5L1293.4 1546.5L1295.4 1546.5L1297.4 1546.5L1299.4 1546.5L1301.4 1546.5L1303.4 1546.5L1305.4 1546.5L1307.4 1546.5L1309.4 1546.5L1311.4 1546.5L1313.4 1546.5L1315.4 1546.5L1317.4 1546.5L1319.4 1546.5L1321.4 1546.5L1323.4 1546.5L1325.4 1546.5L1327.4 1546.5L1329.4 1546.5L1331.4 1546.5L1333.4 1546.5L1335.4 1546.5L1337.4 1546.5L1339.4 1546.5L1341.4 1546.5L1343.4 1546.5" fill="none" stroke="#0414c8" stroke-width="6.5" stroke-linejoin="round" stroke-linecap="butt" stroke-dasharray="23.5 32" stroke-dashoffset="30"/>
<path d="M743.4 1553.3L746.4 1552.9L749.4 1552.2L752.4 1552.2L755.4 1552.1L758.4 1552.9L761.4 1551.2L764.4 1552.5L767.4 1554.2L770.4 1552.5L773.4 1551.5L776.4 1552.4L779.4 1553.2L782.4 1552.4L785.4 1552.6L788.4 1552.1L791.4 1552.2L794.4 1554L797.4 1552L800.4 1550.6L803.4 1550.3L806.4 1550.5L809.4 1550L812.4 1549.3L815.4 1547.6L818.4 1545.2L821.4 1544.5L824.4 1542.2L827.4 1539.2L830.4 1535.4L833.4 1532.3L836.4 1528.3L839.4 1523.8L842.4 1517.9L845.4 1513L848.4 1507L851.4 1499.8L854.4 1493.3L857.4 1487.1L860.4 1481.6L863.4 1474.1L866.4 1469.9L869.4 1465.6L872.4 1463.7L875.4 1463.1L878.4 1462.3L881.4 1463.8L884.4 1466.3L887.4 1471.8L890.4 1476.3L893.4 1481.3L896.4 1485.4L899.4 1491.7L902.4 1499.4L905.4 1505L908.4 1510.6L911.4 1516.2L914.4 1520.5L917.4 1526.1L920.4 1529.9L923.4 1533.3L926.4 1535.7L929.4 1538.5L932.4 1540.1L935.4 1542.8L938.4 1544.4L941.4 1545.3L944.4 1545.7L947.4 1545.7L950.4 1544.4L953.4 1546.5L956.4 1546.7L959.4 1546.9L962.4 1546.7L965.4 1546L968.4 1546.8L971.4 1548.1L974.4 1548.6L977.4 1547.2L980.4 1547.1L983.4 1548.4L986.4 1547.7L989.4 1549.1L992.4 1548L995.4 1547.3L998.4 1548.6L1001.4 1548.9L1004.4 1547.3L1007.4 1548.6L1010.4 1548.1L1013.4 1548.7L1016.4 1547.3L1019.4 1546.4L1022.4 1547.8L1025.4 1548.7L1028.4 1549.5L1031.4 1549.2L1034.4 1548.1L1037.4 1547L1040.4 1546.5L1043.4 1546.4L1046.4 1546L1049.4 1545.7L1052.4 1544.4L1055.4 1545.8L1058.4 1546.3L1061.4 1547.6L1064.4 1546.2L1067.4 1544.8L1070.4 1544.6L1073.4 1543.2L1076.4 1542.7L1079.4 1542L1082.4 1543.6L1085.4 1542.7L1088.4 1540.8L1091.4 1540.9L1094.4 1541.1L1097.4 1540.3L1100.4 1539.2L1103.4 1537.6L1106.4 1536.9L1109.4 1536.8L1112.4 1536.5L1115.4 1534.5L1118.4 1533.5L1121.4 1534L1124.4 1532.4L1127.4 1532.6L1130.4 1531.7L1133.4 1531.4L1136.4 1531.3L1139.4 1530L1142.4 1528.9L1145.4 1527.1L1148.4 1526.6L1151.4 1527.4L1154.4 1527.9L1157.4 1527.8L1160.4 1527.8L1163.4 1526.3L1166.4 1525.9L1169.4 1526.3L1172.4 1525.8L1175.4 1525.5L1178.4 1525.4L1181.4 1526.7L1184.4 1526.2L1187.4 1527.1L1190.4 1526.9L1193.4 1528.6L1196.4 1528.5L1199.4 1529.7L1202.4 1529.1L1205.4 1530.5L1208.4 1532.3L1211.4 1532L1214.4 1532.9L1217.4 1533.1L1220.4 1532.8L1223.4 1535.2L1226.4 1536.2L1229.4 1536.1L1232.4 1537.5L1235.4 1537.4L1238.4 1537.8L1241.4 1539L1244.4 1539.8L1247.4 1541.8L1250.4 1540.4L1253.4 1541.9L1256.4 1542.4L1259.4 1540.7L1262.4 1541.1L1265.4 1543.1L1268.4 1543.2L1271.4 1544.1L1274.4 1544.8L1277.4 1543.9L1280.4 1543L1283.4 1542.4L1286.4 1544.3L1289.4 1544.4L1292.4 1545.2L1295.4 1545.2L1298.4 1544.7L1301.4 1546.7L1304.4 1546.8L1307.4 1546.3L1310.4 1544.9L1313.4 1545.1L1316.4 1545.2L1319.4 1545.2L1322.4 1545.1L1325.4 1546.1L1328.4 1546.3L1331.4 1546.2L1334.4 1546L1337.4 1547L1340.4 1545.9L1343.4 1543.9" fill="none" stroke="#0414c8" stroke-width="6.0" stroke-linejoin="round" stroke-linecap="round"/>
<path d="M743.4 1777L745.4 1777L747.4 1777L749.4 1777L751.4 1777L753.4 1777L755.4 1777L757.4 1777L759.4 1777L761.4 1777L763.4 1777L765.4 1777L767.4 1777L769.4 1777L771.4 1777L773.4 1777L775.4 1777L777.4 1777L779.4 1777L781.4 1777L783.4 1777L785.4 1777L787.4 1776.9L789.4 1776.9L791.4 1776.9L793.4 1776.9L795.4 1776.9L797.4 1776.9L799.4 1776.9L801.4 1776.9L803.4 1776.9L805.4 1776.9L807.4 1776.9L809.4 1776.9L811.4 1776.9L813.4 1776.9L815.4 1776.9L817.4 1776.8L819.4 1776.8L821.4 1776.8L823.4 1776.8L825.4 1776.8L827.4 1776.7L829.4 1776.7L831.4 1776.7L833.4 1776.6L835.4 1776.6L837.4 1776.5L839.4 1776.5L841.4 1776.4L843.4 1776.3L845.4 1776.3L847.4 1776.2L849.4 1776.1L851.4 1776L853.4 1775.8L855.4 1775.7L857.4 1775.6L859.4 1775.4L861.4 1775.3L863.4 1775.1L865.4 1774.9L867.4 1774.7L869.4 1774.5L871.4 1774.4L873.4 1774.2L875.4 1773.9L877.4 1773.7L879.4 1773.5L881.4 1773.3L883.4 1773.1L885.4 1772.9L887.4 1772.7L889.4 1772.5L891.4 1772.3L893.4 1772.1L895.4 1772L897.4 1771.8L899.4 1771.7L901.4 1771.5L903.4 1771.4L905.4 1771.2L907.4 1771.1L909.4 1771L911.4 1770.9L913.4 1770.8L915.4 1770.8L917.4 1770.7L919.4 1770.6L921.4 1770.6L923.4 1770.5L925.4 1770.5L927.4 1770.4L929.4 1770.4L931.4 1770.4L933.4 1770.4L935.4 1770.3L937.4 1770.3L939.4 1770.3L941.4 1770.3L943.4 1770.3L945.4 1770.3L947.4 1770.2L949.4 1770.2L951.4 1770.2L953.4 1770.2L955.4 1770.2L957.4 1770.2L959.4 1770.2L961.4 1770.2L963.4 1770.2L965.4 1770.2L967.4 1770.2L969.4 1770.2L971.4 1770.2L973.4 1770.2L975.4 1770.2L977.4 1770.2L979.4 1770.2L981.4 1770.2L983.4 1770.2L985.4 1770.2L987.4 1770.1L989.4 1770.1L991.4 1770.1L993.4 1770.1L995.4 1770.1L997.4 1770.1L999.4 1770.1L1001.4 1770.1L1003.4 1770.1L1005.4 1770.1L1007.4 1770.1L1009.4 1770.1L1011.4 1770.1L1013.4 1770.1L1015.4 1770.1L1017.4 1770.1L1019.4 1770.1L1021.4 1770.1L1023.4 1770.1L1025.4 1770.1L1027.4 1770.1L1029.4 1770.1L1031.4 1770.1L1033.4 1770.1L1035.4 1770.1L1037.4 1770.1L1039.4 1770.1L1041.4 1770.1L1043.4 1770L1045.4 1770L1047.4 1770L1049.4 1770L1051.4 1770L1053.4 1770L1055.4 1770L1057.4 1770L1059.4 1770L1061.4 1770L1063.4 1770L1065.4 1770L1067.4 1770L1069.4 1769.9L1071.4 1769.9L1073.4 1769.9L1075.4 1769.9L1077.4 1769.9L1079.4 1769.9L1081.4 1769.9L1083.4 1769.8L1085.4 1769.8L1087.4 1769.8L1089.4 1769.8L1091.4 1769.8L1093.4 1769.7L1095.4 1769.7L1097.4 1769.7L1099.4 1769.7L1101.4 1769.6L1103.4 1769.6L1105.4 1769.6L1107.4 1769.5L1109.4 1769.5L1111.4 1769.5L1113.4 1769.4L1115.4 1769.4L1117.4 1769.4L1119.4 1769.3L1121.4 1769.3L1123.4 1769.3L1125.4 1769.2L1127.4 1769.2L1129.4 1769.1L1131.4 1769.1L1133.4 1769L1135.4 1769L1137.4 1768.9L1139.4 1768.9L1141.4 1768.8L1143.4 1768.8L1145.4 1768.7L1147.4 1768.7L1149.4 1768.6L1151.4 1768.6L1153.4 1768.5L1155.4 1768.5L1157.4 1768.4L1159.4 1768.3L1161.4 1768.3L1163.4 1768.2L1165.4 1768.2L1167.4 1768.1L1169.4 1768.1L1171.4 1768L1173.4 1768L1175.4 1767.9L1177.4 1767.9L1179.4 1767.8L1181.4 1767.7L1183.4 1767.7L1185.4 1767.6L1187.4 1767.6L1189.4 1767.6L1191.4 1767.5L1193.4 1767.5L1195.4 1767.4L1197.4 1767.4L1199.4 1767.3L1201.4 1767.3L1203.4 1767.3L1205.4 1767.2L1207.4 1767.2L1209.4 1767.1L1211.4 1767.1L1213.4 1767.1L1215.4 1767L1217.4 1767L1219.4 1767L1221.4 1767L1223.4 1766.9L1225.4 1766.9L1227.4 1766.9L1229.4 1766.9L1231.4 1766.8L1233.4 1766.8L1235.4 1766.8L1237.4 1766.8L1239.4 1766.8L1241.4 1766.7L1243.4 1766.7L1245.4 1766.7L1247.4 1766.7L1249.4 1766.7L1251.4 1766.7L1253.4 1766.7L1255.4 1766.7L1257.4 1766.6L1259.4 1766.6L1261.4 1766.6L1263.4 1766.6L1265.4 1766.6L1267.4 1766.6L1269.4 1766.6L1271.4 1766.6L1273.4 1766.6L1275.4 1766.6L1277.4 1766.6L1279.4 1766.6L1281.4 1766.6L1283.4 1766.6L1285.4 1766.6L1287.4 1766.6L1289.4 1766.5L1291.4 1766.5L1293.4 1766.5L1295.4 1766.5L1297.4 1766.5L1299.4 1766.5L1301.4 1766.5L1303.4 1766.5L1305.4 1766.5L1307.4 1766.5L1309.4 1766.5L1311.4 1766.5L1313.4 1766.5L1315.4 1766.5L1317.4 1766.5L1319.4 1766.5L1321.4 1766.5L1323.4 1766.5L1325.4 1766.5L1327.4 1766.5L1329.4 1766.5L1331.4 1766.5L1333.4 1766.5L1335.4 1766.5L1337.4 1766.5L1339.4 1766.5L1341.4 1766.5L1343.4 1766.5" fill="none" stroke="#008c00" stroke-width="6.5" stroke-linejoin="round" stroke-linecap="butt" stroke-dasharray="23.5 32" stroke-dashoffset="30"/>
<path d="M743.4 1775.6L746.4 1775.4L749.4 1777.1L752.4 1776.9L755.4 1777L758.4 1775.5L761.4 1774.5L764.4 1776.5L767.4 1776.1L770.4 1775.8L773.4 1775.7L776.4 1776L779.4 1775.6L782.4 1774.4L785.4 1775.5L788.4 1774.7L791.4 1774.7L794.4 1776L797.4 1775.2L800.4 1773.5L803.4 1772L806.4 1772.7L809.4 1772.5L812.4 1770.9L815.4 1768.7L818.4 1767.2L821.4 1765.2L824.4 1763.9L827.4 1761.6L830.4 1757.9L833.4 1752.5L836.4 1747.9L839.4 1742.4L842.4 1735.2L845.4 1728.4L848.4 1722L851.4 1712.7L854.4 1703.8L857.4 1694.1L860.4 1685.1L863.4 1675.8L866.4 1669.2L869.4 1663.8L872.4 1659L875.4 1654.4L878.4 1651.5L881.4 1650.4L884.4 1651.3L887.4 1654.9L890.4 1660.2L893.4 1665.8L896.4 1673.6L899.4 1680.3L902.4 1687.8L905.4 1696.6L908.4 1704.7L911.4 1713.4L914.4 1722.7L917.4 1729.3L920.4 1736L923.4 1742.4L926.4 1747.3L929.4 1750.6L932.4 1755L935.4 1757.5L938.4 1759.6L941.4 1761.4L944.4 1761.8L947.4 1763.3L950.4 1765L953.4 1766.3L956.4 1766.3L959.4 1766.9L962.4 1768.2L965.4 1768.9L968.4 1768.8L971.4 1768.9L974.4 1767.9L977.4 1767.8L980.4 1768.3L983.4 1768L986.4 1768.1L989.4 1769.4L992.4 1768.3L995.4 1767.7L998.4 1768.9L1001.4 1769.9L1004.4 1769L1007.4 1769.2L1010.4 1768.1L1013.4 1767.7L1016.4 1767.6L1019.4 1768.2L1022.4 1769.2L1025.4 1767.7L1028.4 1768.6L1031.4 1767.2L1034.4 1767.3L1037.4 1768L1040.4 1767.8L1043.4 1766.9L1046.4 1765.4L1049.4 1766L1052.4 1765.7L1055.4 1767.2L1058.4 1765.4L1061.4 1764.5L1064.4 1763.2L1067.4 1762.7L1070.4 1762L1073.4 1762.7L1076.4 1761.6L1079.4 1761L1082.4 1759.5L1085.4 1758.8L1088.4 1758.9L1091.4 1756.4L1094.4 1754.7L1097.4 1754.9L1100.4 1753.2L1103.4 1752.6L1106.4 1752.2L1109.4 1750.3L1112.4 1749.8L1115.4 1748.2L1118.4 1748.3L1121.4 1747L1124.4 1744.5L1127.4 1743.1L1130.4 1741.8L1133.4 1741.6L1136.4 1741L1139.4 1738.7L1142.4 1738.8L1145.4 1736.8L1148.4 1736L1151.4 1735.5L1154.4 1737.4L1157.4 1736.3L1160.4 1735.7L1163.4 1735.3L1166.4 1735.9L1169.4 1734.4L1172.4 1736.1L1175.4 1738L1178.4 1737.1L1181.4 1737.6L1184.4 1738.6L1187.4 1738.6L1190.4 1739.9L1193.4 1741.6L1196.4 1742.2L1199.4 1743.1L1202.4 1743.7L1205.4 1745.1L1208.4 1746.4L1211.4 1748.4L1214.4 1749L1217.4 1748.8L1220.4 1748.7L1223.4 1751.7L1226.4 1753L1229.4 1752.6L1232.4 1752.6L1235.4 1754.3L1238.4 1756.5L1241.4 1756.3L1244.4 1757.4L1247.4 1758.9L1250.4 1760.2L1253.4 1760.1L1256.4 1760.3L1259.4 1761L1262.4 1762.9L1265.4 1763.1L1268.4 1762.3L1271.4 1761.7L1274.4 1762.5L1277.4 1763.7L1280.4 1763.6L1283.4 1764.7L1286.4 1764.8L1289.4 1764.9L1292.4 1765.3L1295.4 1765.2L1298.4 1764.4L1301.4 1765.2L1304.4 1766.7L1307.4 1764.8L1310.4 1765.1L1313.4 1766.2L1316.4 1765.5L1319.4 1764.8L1322.4 1764.6L1325.4 1766.1L1328.4 1766.9L1331.4 1767.1L1334.4 1766.3L1337.4 1766.5L1340.4 1765.3L1343.4 1765.7" fill="none" stroke="#008c00" stroke-width="6.0" stroke-linejoin="round" stroke-linecap="round"/>
<line x1="848.7" y1="1036" x2="848.7" y2="1784" stroke="#000000" stroke-width="1.6" stroke-dasharray="5.8 5"/>
<line x1="1133" y1="1126" x2="1133" y2="1784" stroke="#000000" stroke-width="1.6" stroke-dasharray="5.8 5"/>
<line x1="865" y1="1258" x2="865" y2="1784" stroke="#d42020" stroke-width="2.1" stroke-dasharray="5.8 5"/>
<line x1="1156" y1="1324" x2="1156" y2="1784" stroke="#d42020" stroke-width="2.1" stroke-dasharray="5.8 5"/>
<line x1="878" y1="1468" x2="878" y2="1784" stroke="#3c3cff" stroke-width="2.1" stroke-dasharray="5.8 5"/>
<line x1="1170" y1="1528" x2="1170" y2="1784" stroke="#3c3cff" stroke-width="2.1" stroke-dasharray="5.8 5"/>
<path d="M1437 1157.8L1439 1157.8L1441 1157.8L1443 1157.8L1445 1157.8L1447 1157.8L1449 1157.8L1451 1157.8L1453 1157.8L1455 1157.8L1457 1157.8L1459 1157.8L1461 1157.8L1463 1157.8L1465 1157.8L1467 1157.8L1469 1157.8L1471 1157.8L1473 1157.8L1475 1157.8L1477 1157.8L1479 1157.8L1481 1157.8L1483 1157.8L1485 1157.8L1487 1157.8L1489 1157.8L1491 1157.8L1493 1157.8L1495 1157.8L1497 1157.8L1499 1157.8L1501 1157.8L1503 1157.8L1505 1157.8L1507 1157.8L1509 1157.8L1511 1157.7L1513 1157.7L1515 1157.7L1517 1157.7L1519 1157.7L1521 1157.7L1523 1157.7L1525 1157.7L1527 1157.7L1529 1157.7L1531 1157.7L1533 1157.7L1535 1157.7L1537 1157.7L1539 1157.7L1541 1157.7L1543 1157.7L1545 1157.7L1547 1157.7L1549 1157.7L1551 1157.7L1553 1157.7L1555 1157.7L1557 1157.7L1559 1157.6L1561 1157.6L1563 1157.6L1565 1157.6L1567 1157.6L1569 1157.6L1571 1157.6L1573 1157.6L1575 1157.6L1577 1157.6L1579 1157.6L1581 1157.6L1583 1157.6L1585 1157.6L1587 1157.6L1589 1157.5L1591 1157.5L1593 1157.5L1595 1157.5L1597 1157.5L1599 1157.5L1601 1157.5L1603 1157.5L1605 1157.4L1607 1157.4L1609 1157.3L1611 1157.2L1613 1157.1L1615 1157L1617 1156.8L1619 1156.7L1621 1156.6L1623 1156.4L1625 1156.3L1627 1156.1L1629 1156L1631 1155.8L1633 1155.6L1635 1155.5L1637 1155.3L1639 1155.2L1641 1155L1643 1154.9L1645 1154.8L1647 1154.7L1649 1154.5L1651 1154.5L1653 1154.4L1655 1154.3L1657 1154.2L1659 1154.1L1661 1154L1663 1153.9L1665 1153.8L1667 1153.7L1669 1153.6L1671 1153.5L1673 1153.4L1675 1153.3L1677 1153.2L1679 1153.1L1681 1153L1683 1152.9L1685 1152.9L1687 1152.8L1689 1152.7L1691 1152.7L1693 1152.6L1695 1152.6L1697 1152.5L1699 1152.5L1701 1152.5L1703 1152.5L1705 1152.4L1707 1152.4L1709 1152.4L1711 1152.4L1713 1152.3L1715 1152.3L1717 1152.3L1719 1152.3L1721 1152.3L1723 1152.2L1725 1152.2L1727 1152.2L1729 1152.2L1731 1152.2L1733 1152.1L1735 1152.1L1737 1152.1L1739 1152.1L1741 1152.1L1743 1152.1L1745 1152L1747 1152L1749 1152L1751 1152L1753 1152L1755 1152L1757 1152L1759 1151.9L1761 1151.9L1763 1151.9L1765 1151.9L1767 1151.9L1769 1151.9L1771 1151.9L1773 1151.9L1775 1151.8L1777 1151.8L1779 1151.8L1781 1151.8L1783 1151.8L1785 1151.8L1787 1151.8L1789 1151.8L1791 1151.8L1793 1151.8L1795 1151.7L1797 1151.7L1799 1151.7L1801 1151.7L1803 1151.7L1805 1151.7L1807 1151.7L1809 1151.7L1811 1151.7L1813 1151.7L1815 1151.7L1817 1151.6L1819 1151.6L1821 1151.6L1823 1151.6L1825 1151.6L1827 1151.6L1829 1151.6L1831 1151.6L1833 1151.6L1835 1151.6L1837 1151.6L1839 1151.6L1841 1151.5L1843 1151.5L1845 1151.5L1847 1151.5L1849 1151.5L1851 1151.5L1853 1151.5L1855 1151.5L1857 1151.5L1859 1151.5L1861 1151.4L1863 1151.4L1865 1151.4L1867 1151.4L1869 1151.4L1871 1151.4L1873 1151.4L1875 1151.4L1877 1151.4L1879 1151.4L1881 1151.4L1883 1151.3L1885 1151.3L1887 1151.3L1889 1151.3L1891 1151.3L1893 1151.3L1895 1151.3L1897 1151.3L1899 1151.3L1901 1151.3L1903 1151.3L1905 1151.2L1907 1151.2L1909 1151.2L1911 1151.2L1913 1151.2L1915 1151.2L1917 1151.2L1919 1151.2L1921 1151.2L1923 1151.2L1925 1151.2L1927 1151.2L1929 1151.1L1931 1151.1L1933 1151.1L1935 1151.1L1937 1151.1L1939 1151.1L1941 1151.1L1943 1151.1L1945 1151.1L1947 1151.1L1949 1151.1L1951 1151.1L1953 1151.1L1955 1151L1957 1151L1959 1151L1961 1151L1963 1151L1965 1151L1967 1151L1969 1151L1971 1151L1973 1151L1975 1151L1977 1151L1979 1151L1981 1151L1983 1150.9L1985 1150.9L1987 1150.9L1989 1150.9L1991 1150.9L1993 1150.9L1995 1150.9L1997 1150.9L1999 1150.9L2001 1150.9L2003 1150.9L2005 1150.9L2007 1150.9L2009 1150.9L2011 1150.9L2013 1150.9L2015 1150.9L2017 1150.8L2019 1150.8L2021 1150.8L2023 1150.8L2025 1150.8L2027 1150.8L2029 1150.8L2031 1150.8L2033 1150.8L2035 1150.8L2037 1150.8" fill="none" stroke="#000000" stroke-width="6.5" stroke-linejoin="round" stroke-linecap="butt" stroke-dasharray="24 32"/>
<path d="M1437 1158.3L1440 1158.2L1443 1157L1446 1156.9L1449 1157.9L1452 1158.5L1455 1158.6L1458 1158.9L1461 1159L1464 1158.3L1467 1157.6L1470 1156.7L1473 1156.6L1476 1156.9L1479 1157.3L1482 1157.2L1485 1156.9L1488 1156.7L1491 1157L1494 1156.7L1497 1156.5L1500 1156.3L1503 1155.5L1506 1155.1L1509 1155.8L1512 1155.7L1515 1155L1518 1155L1521 1156L1524 1154.2L1527 1153.9L1530 1153.7L1533 1152.7L1536 1153.2L1539 1154L1542 1153.2L1545 1152.4L1548 1151.6L1551 1150.7L1554 1150.1L1557 1148.5L1560 1147.1L1563 1146.3L1566 1145.2L1569 1142.9L1572 1140.1L1575 1136.1L1578 1134.8L1581 1132L1584 1126.5L1587 1119.8L1590 1113.5L1593 1107.5L1596 1099.9L1599 1092.7L1602 1083.8L1605 1075.2L1608 1064.6L1611 1051.7L1614 1041.3L1617 1028.4L1620 1014.6L1623 1002.9L1626 994.7L1629 988.5L1632 981.7L1635 979.7L1638 980.3L1641 980.5L1644 981.9L1647 983.5L1650 986.1L1653 991.7L1656 997.6L1659 1004.2L1662 1011.9L1665 1018.8L1668 1027.2L1671 1036.5L1674 1044.2L1677 1054.4L1680 1066.6L1683 1077.9L1686 1087.3L1689 1093.6L1692 1100.3L1695 1105.2L1698 1108.7L1701 1111.5L1704 1115L1707 1117.7L1710 1119.1L1713 1121.9L1716 1124.1L1719 1125.7L1722 1128L1725 1129.1L1728 1129.1L1731 1130.4L1734 1131.2L1737 1132.7L1740 1133.1L1743 1134.6L1746 1135.3L1749 1136L1752 1135.7L1755 1135.7L1758 1137.8L1761 1137.9L1764 1139L1767 1139.3L1770 1140.2L1773 1141.5L1776 1141.7L1779 1142.6L1782 1142.1L1785 1143.8L1788 1144.3L1791 1144.9L1794 1145.7L1797 1146.7L1800 1147.5L1803 1146.1L1806 1147L1809 1147.4L1812 1148.6L1815 1148.3L1818 1148.7L1821 1148.7L1824 1149.6L1827 1150L1830 1149.4L1833 1149.4L1836 1149L1839 1150.2L1842 1150.8L1845 1150.5L1848 1151L1851 1149.4L1854 1149.3L1857 1150L1860 1150.9L1863 1151.5L1866 1151.7L1869 1151.9L1872 1152.4L1875 1151.7L1878 1151.1L1881 1151.5L1884 1153.1L1887 1151.1L1890 1152L1893 1153.3L1896 1152.7L1899 1151.7L1902 1152.1L1905 1152.8L1908 1152.8L1911 1151.6L1914 1152.2L1917 1152.1L1920 1152.6L1923 1152.5L1926 1151.1L1929 1150.3L1932 1151.5L1935 1152.4L1938 1151.8L1941 1151.6L1944 1152.3L1947 1150.7L1950 1151.1L1953 1150.5L1956 1150.7L1959 1151L1962 1151.5L1965 1150.2L1968 1149.8L1971 1149.5L1974 1150.5L1977 1150.4L1980 1150.5L1983 1149.8L1986 1150.2L1989 1151L1992 1150.5L1995 1150.8L1998 1150.7L2001 1149.9L2004 1149.4L2007 1150.7L2010 1150.7L2013 1150.6L2016 1148.8L2019 1148.5L2022 1148.4L2025 1149.5L2028 1150.8L2031 1150.7L2034 1150.3L2037 1150.4" fill="none" stroke="#000000" stroke-width="6.0" stroke-linejoin="round" stroke-linecap="round"/>
<path d="M1437 1349.3L1439 1349.3L1441 1349.3L1443 1349.3L1445 1349.3L1447 1349.3L1449 1349.3L1451 1349.3L1453 1349.3L1455 1349.3L1457 1349.3L1459 1349.3L1461 1349.3L1463 1349.3L1465 1349.3L1467 1349.3L1469 1349.3L1471 1349.3L1473 1349.3L1475 1349.3L1477 1349.3L1479 1349.3L1481 1349.3L1483 1349.3L1485 1349.3L1487 1349.3L1489 1349.3L1491 1349.2L1493 1349.2L1495 1349.2L1497 1349.2L1499 1349.2L1501 1349.2L1503 1349.2L1505 1349.2L1507 1349.2L1509 1349.2L1511 1349.2L1513 1349.2L1515 1349.2L1517 1349.2L1519 1349.2L1521 1349.2L1523 1349.2L1525 1349.2L1527 1349.1L1529 1349.1L1531 1349.1L1533 1349.1L1535 1349.1L1537 1349.1L1539 1349.1L1541 1349.1L1543 1349.1L1545 1349.1L1547 1349.1L1549 1349L1551 1349L1553 1349L1555 1349L1557 1349L1559 1349L1561 1349L1563 1349L1565 1349L1567 1348.9L1569 1348.9L1571 1348.9L1573 1348.9L1575 1348.9L1577 1348.9L1579 1348.9L1581 1348.8L1583 1348.8L1585 1348.8L1587 1348.8L1589 1348.8L1591 1348.8L1593 1348.8L1595 1348.7L1597 1348.7L1599 1348.7L1601 1348.7L1603 1348.7L1605 1348.6L1607 1348.6L1609 1348.6L1611 1348.6L1613 1348.6L1615 1348.6L1617 1348.5L1619 1348.5L1621 1348.5L1623 1348.4L1625 1348.3L1627 1348.1L1629 1348L1631 1347.7L1633 1347.5L1635 1347.3L1637 1347L1639 1346.7L1641 1346.4L1643 1346.1L1645 1345.9L1647 1345.6L1649 1345.3L1651 1345.1L1653 1344.9L1655 1344.8L1657 1344.6L1659 1344.5L1661 1344.5L1663 1344.4L1665 1344.4L1667 1344.4L1669 1344.3L1671 1344.3L1673 1344.3L1675 1344.3L1677 1344.2L1679 1344.2L1681 1344.2L1683 1344.2L1685 1344.2L1687 1344.2L1689 1344.1L1691 1344.1L1693 1344.1L1695 1344.1L1697 1344L1699 1344L1701 1344L1703 1343.9L1705 1343.9L1707 1343.9L1709 1343.8L1711 1343.8L1713 1343.7L1715 1343.7L1717 1343.6L1719 1343.5L1721 1343.5L1723 1343.4L1725 1343.4L1727 1343.3L1729 1343.2L1731 1343.2L1733 1343.1L1735 1343L1737 1343L1739 1342.9L1741 1342.8L1743 1342.8L1745 1342.7L1747 1342.6L1749 1342.6L1751 1342.5L1753 1342.5L1755 1342.4L1757 1342.4L1759 1342.3L1761 1342.3L1763 1342.2L1765 1342.2L1767 1342.1L1769 1342.1L1771 1342.1L1773 1342L1775 1342L1777 1342L1779 1342L1781 1342L1783 1342L1785 1342L1787 1342L1789 1342L1791 1342L1793 1342L1795 1342L1797 1342L1799 1342L1801 1341.9L1803 1341.9L1805 1341.9L1807 1341.9L1809 1341.9L1811 1341.9L1813 1341.9L1815 1341.9L1817 1341.9L1819 1341.9L1821 1341.9L1823 1341.9L1825 1341.9L1827 1341.9L1829 1341.9L1831 1341.9L1833 1341.9L1835 1341.9L1837 1341.9L1839 1341.9L1841 1341.9L1843 1341.9L1845 1341.9L1847 1341.9L1849 1341.8L1851 1341.8L1853 1341.8L1855 1341.8L1857 1341.8L1859 1341.8L1861 1341.8L1863 1341.8L1865 1341.8L1867 1341.8L1869 1341.8L1871 1341.8L1873 1341.8L1875 1341.8L1877 1341.8L1879 1341.8L1881 1341.8L1883 1341.8L1885 1341.8L1887 1341.8L1889 1341.8L1891 1341.8L1893 1341.8L1895 1341.8L1897 1341.8L1899 1341.8L1901 1341.8L1903 1341.8L1905 1341.8L1907 1341.8L1909 1341.8L1911 1341.8L1913 1341.8L1915 1341.8L1917 1341.8L1919 1341.8L1921 1341.8L1923 1341.8L1925 1341.7L1927 1341.7L1929 1341.7L1931 1341.7L1933 1341.7L1935 1341.7L1937 1341.7L1939 1341.7L1941 1341.7L1943 1341.7L1945 1341.7L1947 1341.7L1949 1341.7L1951 1341.7L1953 1341.7L1955 1341.7L1957 1341.7L1959 1341.7L1961 1341.7L1963 1341.7L1965 1341.7L1967 1341.7L1969 1341.7L1971 1341.7L1973 1341.7L1975 1341.7L1977 1341.7L1979 1341.7L1981 1341.7L1983 1341.7L1985 1341.7L1987 1341.7L1989 1341.7L1991 1341.7L1993 1341.7L1995 1341.7L1997 1341.7L1999 1341.7L2001 1341.7L2003 1341.7L2005 1341.7L2007 1341.7L2009 1341.7L2011 1341.7L2013 1341.7L2015 1341.7L2017 1341.7L2019 1341.7L2021 1341.7L2023 1341.7L2025 1341.7L2027 1341.7L2029 1341.7L2031 1341.7L2033 1341.7L2035 1341.7L2037 1341.7" fill="none" stroke="#cc0000" stroke-width="6.5" stroke-linejoin="round" stroke-linecap="butt" stroke-dasharray="24 32"/>
<path d="M1437 1349L1439 1349L1441 1349L1443 1349L1445 1349L1447 1349L1449 1349L1451 1349L1453 1348.9L1455 1348.9L1457 1348.9L1459 1348.9L1461 1348.9L1463 1348.9L1465 1348.9L1467 1348.9L1469 1348.9L1471 1348.9L1473 1348.8L1475 1348.8L1477 1348.8L1479 1348.8L1481 1348.8L1483 1348.8L1485 1348.8L1487 1348.8L1489 1348.7L1491 1348.7L1493 1348.7L1495 1348.7L1497 1348.7L1499 1348.7L1501 1348.6L1503 1348.6L1505 1348.6L1507 1348.6L1509 1348.6L1511 1348.5L1513 1348.5L1515 1348.5L1517 1348.5L1519 1348.4L1521 1348.4L1523 1348.4L1525 1348.3L1527 1348.3L1529 1348.3L1531 1348.2L1533 1348.2L1535 1348.2L1537 1348.1L1539 1348.1L1541 1348L1543 1347.9L1545 1347.9L1547 1347.8L1549 1347.7L1551 1347.6L1553 1347.5L1555 1347.4L1557 1347.2L1559 1347.1L1561 1346.9L1563 1346.6L1565 1346.4L1567 1346.1L1569 1345.7L1571 1345.4L1573 1344.9L1575 1344.4L1577 1343.8L1579 1343.1L1581 1342.4L1583 1341.5L1585 1340.5L1587 1339.4L1589 1338.1L1591 1336.8L1593 1335.2L1595 1333.5L1597 1331.6L1599 1329.5L1601 1327.3L1603 1324.8L1605 1322.1L1607 1319.2L1609 1316.1L1611 1312.9L1613 1309.4L1615 1305.7L1617 1301.8L1619 1297.8L1621 1293.7L1623 1289.3L1625 1284.9L1627 1280.3L1629 1275.7L1631 1271L1633 1266.4L1635 1261.8L1637 1257.3L1639 1253L1641 1248.9L1643 1245L1645 1241.5L1647 1238.3L1649 1235.4L1651 1233.1L1653 1231.2L1655 1229.8L1657 1228.9L1659 1228.5L1661 1228.7L1663 1229.1L1665 1230L1667 1231.2L1669 1232.7L1671 1234.5L1673 1236.6L1675 1239L1677 1241.6L1679 1244.4L1681 1247.5L1683 1250.7L1685 1254.1L1687 1257.5L1689 1261.1L1691 1264.8L1693 1268.4L1695 1272.1L1697 1275.8L1699 1279.5L1701 1283.2L1703 1286.7L1705 1290.2L1707 1293.6L1709 1296.9L1711 1300.1L1713 1303.2L1715 1306.1L1717 1308.9L1719 1311.5L1721 1314L1723 1316.4L1725 1318.6L1727 1320.6L1729 1322.6L1731 1324.3L1733 1326L1735 1327.5L1737 1328.9L1739 1330.2L1741 1331.3L1743 1332.4L1745 1333.3L1747 1334.2L1749 1335L1751 1335.7L1753 1336.3L1755 1336.8L1757 1337.3L1759 1337.7L1761 1338.1L1763 1338.5L1765 1338.8L1767 1339L1769 1339.3L1771 1339.5L1773 1339.7L1775 1339.8L1777 1340L1779 1340.1L1781 1340.2L1783 1340.3L1785 1340.4L1787 1340.5L1789 1340.6L1791 1340.7L1793 1340.7L1795 1340.8L1797 1340.8L1799 1340.8L1801 1340.9L1803 1340.9L1805 1340.9L1807 1341L1809 1341L1811 1341L1813 1341L1815 1341.1L1817 1341.1L1819 1341.1L1821 1341.1L1823 1341.1L1825 1341.1L1827 1341.2L1829 1341.2L1831 1341.2L1833 1341.2L1835 1341.2L1837 1341.2L1839 1341.2L1841 1341.2L1843 1341.2L1845 1341.3L1847 1341.3L1849 1341.3L1851 1341.3L1853 1341.3L1855 1341.3L1857 1341.3L1859 1341.3L1861 1341.3L1863 1341.3L1865 1341.3L1867 1341.3L1869 1341.3L1871 1341.3L1873 1341.3L1875 1341.4L1877 1341.4L1879 1341.4L1881 1341.4L1883 1341.4L1885 1341.4L1887 1341.4L1889 1341.4L1891 1341.4L1893 1341.4L1895 1341.4L1897 1341.4L1899 1341.4L1901 1341.4L1903 1341.4L1905 1341.4L1907 1341.4L1909 1341.4L1911 1341.4L1913 1341.4L1915 1341.4L1917 1341.4L1919 1341.4L1921 1341.4L1923 1341.4L1925 1341.4L1927 1341.4L1929 1341.5L1931 1341.5L1933 1341.5L1935 1341.5L1937 1341.5L1939 1341.5L1941 1341.5L1943 1341.5L1945 1341.5L1947 1341.5L1949 1341.5L1951 1341.5L1953 1341.5L1955 1341.5L1957 1341.5L1959 1341.5L1961 1341.5L1963 1341.5L1965 1341.5L1967 1341.5L1969 1341.5L1971 1341.5L1973 1341.5L1975 1341.5L1977 1341.5L1979 1341.5L1981 1341.5L1983 1341.5L1985 1341.5L1987 1341.5L1989 1341.5L1991 1341.5L1993 1341.5L1995 1341.5L1997 1341.5L1999 1341.5L2001 1341.5L2003 1341.5L2005 1341.5L2007 1341.5L2009 1341.5L2011 1341.5L2013 1341.5L2015 1341.5L2017 1341.5L2019 1341.5L2021 1341.5L2023 1341.5L2025 1341.5L2027 1341.5L2029 1341.5L2031 1341.5L2033 1341.5L2035 1341.5L2037 1341.5" fill="none" stroke="#cc0000" stroke-width="6.0" stroke-linejoin="round" stroke-linecap="butt" stroke-dasharray="24 32"/>
<path d="M1437 1349.2L1439 1349.2L1441 1349.2L1443 1349.2L1445 1349.2L1447 1349.2L1449 1349.2L1451 1349.2L1453 1349.2L1455 1349.2L1457 1349.2L1459 1349.2L1461 1349.2L1463 1349.2L1465 1349.2L1467 1349.2L1469 1349.2L1471 1349.2L1473 1349.2L1475 1349.2L1477 1349.1L1479 1349.1L1481 1349.1L1483 1349.1L1485 1349.1L1487 1349.1L1489 1349.1L1491 1349.1L1493 1349.1L1495 1349.1L1497 1349.1L1499 1349.1L1501 1349.1L1503 1349.1L1505 1349.1L1507 1349.1L1509 1349L1511 1349L1513 1349L1515 1349L1517 1349L1519 1349L1521 1349L1523 1349L1525 1349L1527 1349L1529 1349L1531 1348.9L1533 1348.9L1535 1348.9L1537 1348.9L1539 1348.9L1541 1348.9L1543 1348.9L1545 1348.9L1547 1348.8L1549 1348.8L1551 1348.8L1553 1348.8L1555 1348.8L1557 1348.8L1559 1348.8L1561 1348.7L1563 1348.7L1565 1348.7L1567 1348.7L1569 1348.7L1571 1348.7L1573 1348.6L1575 1348.6L1577 1348.6L1579 1348.6L1581 1348.6L1583 1348.5L1585 1348.5L1587 1348.5L1589 1348.5L1591 1348.4L1593 1348.4L1595 1348.4L1597 1348.4L1599 1348.3L1601 1348.3L1603 1348.3L1605 1348.2L1607 1348.2L1609 1348.2L1611 1348.1L1613 1348.1L1615 1348.1L1617 1348L1619 1348L1621 1347.9L1623 1347.8L1625 1347.7L1627 1347.5L1629 1347.3L1631 1347L1633 1346.7L1635 1346.4L1637 1346.1L1639 1345.7L1641 1345.4L1643 1345L1645 1344.6L1647 1344.3L1649 1343.9L1651 1343.6L1653 1343.2L1655 1342.9L1657 1342.6L1659 1342.4L1661 1342.1L1663 1341.9L1665 1341.6L1667 1341.3L1669 1341L1671 1340.7L1673 1340.4L1675 1340L1677 1339.6L1679 1339.2L1681 1338.8L1683 1338.3L1685 1337.8L1687 1337.2L1689 1336.7L1691 1336.1L1693 1335.4L1695 1334.8L1697 1334.1L1699 1333.3L1701 1332.5L1703 1331.7L1705 1330.8L1707 1329.9L1709 1329L1711 1328L1713 1327L1715 1326L1717 1325L1719 1323.9L1721 1322.8L1723 1321.7L1725 1320.5L1727 1319.4L1729 1318.3L1731 1317.1L1733 1316L1735 1314.8L1737 1313.7L1739 1312.6L1741 1311.5L1743 1310.4L1745 1309.4L1747 1308.4L1749 1307.4L1751 1306.5L1753 1305.7L1755 1304.9L1757 1304.1L1759 1303.5L1761 1302.9L1763 1302.4L1765 1301.9L1767 1301.6L1769 1301.3L1771 1301.1L1773 1301.1L1775 1301.1L1777 1301.1L1779 1301.3L1781 1301.6L1783 1301.9L1785 1302.3L1787 1302.8L1789 1303.4L1791 1304L1793 1304.7L1795 1305.5L1797 1306.3L1799 1307.2L1801 1308.1L1803 1309L1805 1310L1807 1311L1809 1312L1811 1313.1L1813 1314.1L1815 1315.2L1817 1316.3L1819 1317.4L1821 1318.4L1823 1319.5L1825 1320.6L1827 1321.6L1829 1322.6L1831 1323.6L1833 1324.6L1835 1325.6L1837 1326.5L1839 1327.4L1841 1328.3L1843 1329.1L1845 1329.9L1847 1330.7L1849 1331.4L1851 1332.1L1853 1332.8L1855 1333.4L1857 1334L1859 1334.6L1861 1335.1L1863 1335.6L1865 1336.1L1867 1336.5L1869 1336.9L1871 1337.3L1873 1337.7L1875 1338L1877 1338.3L1879 1338.6L1881 1338.9L1883 1339.1L1885 1339.3L1887 1339.5L1889 1339.7L1891 1339.9L1893 1340L1895 1340.2L1897 1340.3L1899 1340.4L1901 1340.5L1903 1340.6L1905 1340.7L1907 1340.8L1909 1340.8L1911 1340.9L1913 1340.9L1915 1341L1917 1341L1919 1341.1L1921 1341.1L1923 1341.1L1925 1341.2L1927 1341.2L1929 1341.2L1931 1341.2L1933 1341.3L1935 1341.3L1937 1341.3L1939 1341.3L1941 1341.3L1943 1341.3L1945 1341.3L1947 1341.4L1949 1341.4L1951 1341.4L1953 1341.4L1955 1341.4L1957 1341.4L1959 1341.4L1961 1341.4L1963 1341.4L1965 1341.4L1967 1341.4L1969 1341.4L1971 1341.4L1973 1341.4L1975 1341.4L1977 1341.5L1979 1341.5L1981 1341.5L1983 1341.5L1985 1341.5L1987 1341.5L1989 1341.5L1991 1341.5L1993 1341.5L1995 1341.5L1997 1341.5L1999 1341.5L2001 1341.5L2003 1341.5L2005 1341.5L2007 1341.5L2009 1341.5L2011 1341.5L2013 1341.5L2015 1341.5L2017 1341.5L2019 1341.5L2021 1341.5L2023 1341.5L2025 1341.5L2027 1341.5L2029 1341.5L2031 1341.5L2033 1341.5L2035 1341.5L2037 1341.5" fill="none" stroke="#cc0000" stroke-width="6.0" stroke-linejoin="round" stroke-linecap="butt" stroke-dasharray="24 32"/>
<path d="M1437 1348.1L1440 1349.6L1443 1349.6L1446 1348.8L1449 1349.3L1452 1347.9L1455 1347.7L1458 1347.6L1461 1348.2L1464 1349.3L1467 1348L1470 1347.8L1473 1348.2L1476 1348.9L1479 1348.9L1482 1349.4L1485 1348.3L1488 1347.7L1491 1348.3L1494 1348.6L1497 1348.2L1500 1349.1L1503 1350L1506 1348.6L1509 1348.8L1512 1349.5L1515 1348.1L1518 1347.5L1521 1347.5L1524 1348.5L1527 1348.7L1530 1348.2L1533 1348.3L1536 1349L1539 1348.3L1542 1346.5L1545 1346.9L1548 1347L1551 1346.9L1554 1345.9L1557 1345L1560 1344.3L1563 1343.2L1566 1343.4L1569 1342.4L1572 1341.4L1575 1339.1L1578 1337.7L1581 1335.9L1584 1334.7L1587 1334.5L1590 1332.7L1593 1331.3L1596 1328.7L1599 1326.7L1602 1322.8L1605 1318.8L1608 1313.8L1611 1309.1L1614 1303.7L1617 1298.2L1620 1293.2L1623 1287.2L1626 1281.4L1629 1275.2L1632 1267.5L1635 1260.5L1638 1254.9L1641 1249L1644 1244.6L1647 1240.9L1650 1236.6L1653 1231.5L1656 1227.8L1659 1227.2L1662 1228.1L1665 1230.3L1668 1231.5L1671 1233.7L1674 1236.2L1677 1237.8L1680 1240.8L1683 1245.3L1686 1249.3L1689 1253.3L1692 1257.5L1695 1261.4L1698 1266.8L1701 1271.4L1704 1275.5L1707 1279.2L1710 1283.4L1713 1286.9L1716 1289.9L1719 1292.5L1722 1293.1L1725 1292.9L1728 1294.1L1731 1294.9L1734 1296.5L1737 1298.5L1740 1299.2L1743 1299.2L1746 1299.8L1749 1299.2L1752 1298.5L1755 1298.5L1758 1299.3L1761 1300.6L1764 1299.4L1767 1300.9L1770 1301.1L1773 1300.1L1776 1300.1L1779 1300.3L1782 1301.3L1785 1302.3L1788 1302.8L1791 1304.2L1794 1305.3L1797 1305.8L1800 1306.8L1803 1307.7L1806 1308.9L1809 1309.5L1812 1311.8L1815 1313.2L1818 1314.4L1821 1317.4L1824 1317.2L1827 1318.6L1830 1320.8L1833 1321.4L1836 1323.4L1839 1324.9L1842 1327L1845 1329.4L1848 1331.4L1851 1333.2L1854 1334.2L1857 1335.3L1860 1335.7L1863 1336.1L1866 1337.6L1869 1337.5L1872 1338.2L1875 1340.3L1878 1340.5L1881 1340.4L1884 1341L1887 1340.9L1890 1339.7L1893 1340.2L1896 1340.1L1899 1340.8L1902 1341L1905 1342.3L1908 1341.9L1911 1341L1914 1341.2L1917 1340.7L1920 1341.6L1923 1342.1L1926 1341.7L1929 1340.3L1932 1341.3L1935 1342.2L1938 1342.4L1941 1342.5L1944 1341.2L1947 1341.9L1950 1341.6L1953 1342L1956 1342.4L1959 1342.5L1962 1341.7L1965 1341.8L1968 1340.9L1971 1340.9L1974 1342.2L1977 1341.8L1980 1340.7L1983 1341.2L1986 1342.3L1989 1343.5L1992 1343.4L1995 1342.6L1998 1341L2001 1341.9L2004 1342.6L2007 1342.7L2010 1342.6L2013 1342.4L2016 1343.8L2019 1343.6L2022 1342.3L2025 1341.9L2028 1343.5L2031 1342.4L2034 1343.4L2037 1343.7" fill="none" stroke="#cc0000" stroke-width="6.0" stroke-linejoin="round" stroke-linecap="round"/>
<path d="M1437 1349.2L1439 1349.2L1441 1349.2L1443 1349.2L1445 1349.2L1447 1349.2L1449 1349.2L1451 1349.2L1453 1349.2L1455 1349.2L1457 1349.2L1459 1349.1L1461 1349.1L1463 1349.1L1465 1349.1L1467 1349.1L1469 1349.1L1471 1349.1L1473 1349.1L1475 1349L1477 1349L1479 1349L1481 1349L1483 1349L1485 1348.9L1487 1348.9L1489 1348.9L1491 1348.9L1493 1348.9L1495 1348.8L1497 1348.8L1499 1348.8L1501 1348.7L1503 1348.7L1505 1348.7L1507 1348.7L1509 1348.6L1511 1348.6L1513 1348.6L1515 1348.5L1517 1348.5L1519 1348.4L1521 1348.4L1523 1348.4L1525 1348.3L1527 1348.3L1529 1348.2L1531 1348.2L1533 1348.1L1535 1348L1537 1347.8L1539 1347.7L1541 1347.5L1543 1347.3L1545 1347.1L1547 1346.9L1549 1346.7L1551 1346.4L1553 1346.2L1555 1345.9L1557 1345.6L1559 1345.3L1561 1345L1563 1344.6L1565 1344.2L1567 1343.5L1569 1342.8L1571 1341.9L1573 1340.9L1575 1340L1577 1338.9L1579 1337.9L1581 1337L1583 1336L1585 1335.1L1587 1334.3L1589 1333.3L1591 1332.4L1593 1331.3L1595 1330.1L1597 1328.8L1599 1327.2L1601 1325.4L1603 1322.8L1605 1319.6L1607 1316.1L1609 1312.4L1611 1308.8L1613 1305.3L1615 1301.8L1617 1298.2L1619 1294.5L1621 1290.7L1623 1286.8L1625 1282.9L1627 1278.8L1629 1274.5L1631 1269.9L1633 1265.2L1635 1260.7L1637 1256.7L1639 1252.9L1641 1249.3L1643 1245.8L1645 1242.6L1647 1239.9L1649 1237.2L1651 1234.5L1653 1231.9L1655 1229.8L1657 1228.2L1659 1227.5L1661 1227.7L1663 1228.5L1665 1229.6L1667 1230.9L1669 1232.4L1671 1233.8L1673 1235.2L1675 1236.6L1677 1238.1L1679 1239.8L1681 1241.7L1683 1243.8L1685 1246.4L1687 1249.3L1689 1252.5L1691 1255.8L1693 1258.9L1695 1262L1697 1265.1L1699 1268.2L1701 1271.2L1703 1274.1L1705 1276.8L1707 1279.6L1709 1282.3L1711 1284.8L1713 1287L1715 1288.8L1717 1290.1L1719 1291.4L1721 1292.5L1723 1293.5L1725 1294.4L1727 1295.2L1729 1295.9L1731 1296.5L1733 1297.1L1735 1297.6L1737 1298.2L1739 1298.7L1741 1299.2L1743 1299.5L1745 1299.8L1747 1300L1749 1300L1751 1300L1753 1300L1755 1300L1757 1300L1759 1300L1761 1300L1763 1300L1765 1300L1767 1300L1769 1300L1771 1300L1773 1300.1L1775 1300.3L1777 1300.5L1779 1300.8L1781 1301.1L1783 1301.5L1785 1301.9L1787 1302.3L1789 1302.7L1791 1303.3L1793 1303.9L1795 1304.6L1797 1305.4L1799 1306.1L1801 1306.9L1803 1307.7L1805 1308.5L1807 1309.4L1809 1310.3L1811 1311.2L1813 1312.2L1815 1313.2L1817 1314.2L1819 1315.2L1821 1316.2L1823 1317.2L1825 1318.3L1827 1319.5L1829 1320.6L1831 1321.8L1833 1323L1835 1324.2L1837 1325.3L1839 1326.5L1841 1327.6L1843 1328.6L1845 1329.6L1847 1330.6L1849 1331.4L1851 1332.2L1853 1332.9L1855 1333.6L1857 1334.2L1859 1334.9L1861 1335.5L1863 1336.2L1865 1336.8L1867 1337.3L1869 1337.8L1871 1338.3L1873 1338.8L1875 1339.2L1877 1339.5L1879 1339.8L1881 1340L1883 1340.2L1885 1340.3L1887 1340.5L1889 1340.6L1891 1340.7L1893 1340.8L1895 1340.9L1897 1341.1L1899 1341.2L1901 1341.2L1903 1341.3L1905 1341.4L1907 1341.5L1909 1341.5L1911 1341.6L1913 1341.6L1915 1341.7L1917 1341.7L1919 1341.7L1921 1341.7L1923 1341.7L1925 1341.8L1927 1341.8L1929 1341.8L1931 1341.8L1933 1341.8L1935 1341.9L1937 1341.9L1939 1341.9L1941 1341.9L1943 1341.9L1945 1341.9L1947 1342L1949 1342L1951 1342L1953 1342L1955 1342L1957 1342L1959 1342L1961 1342.1L1963 1342.1L1965 1342.1L1967 1342.1L1969 1342.1L1971 1342.1L1973 1342.1L1975 1342.1L1977 1342.2L1979 1342.2L1981 1342.2L1983 1342.2L1985 1342.2L1987 1342.2L1989 1342.2L1991 1342.2L1993 1342.2L1995 1342.2L1997 1342.2L1999 1342.2L2001 1342.2L2003 1342.3L2005 1342.3L2007 1342.3L2009 1342.3L2011 1342.3L2013 1342.3L2015 1342.3L2017 1342.3L2019 1342.3L2021 1342.3L2023 1342.3L2025 1342.3L2027 1342.3L2029 1342.3L2031 1342.3L2033 1342.3L2035 1342.3L2037 1342.3" fill="none" stroke="#cc0000" stroke-width="5.5" stroke-linejoin="round" stroke-linecap="round"/>
<path d="M1437 1547L1439 1547L1441 1547L1443 1547L1445 1547L1447 1547L1449 1547L1451 1547L1453 1547L1455 1547L1457 1547L1459 1547L1461 1547L1463 1547L1465 1547L1467 1547L1469 1547L1471 1547L1473 1547L1475 1547L1477 1547L1479 1547L1481 1547L1483 1547L1485 1547L1487 1547L1489 1547L1491 1547L1493 1547L1495 1547L1497 1547L1499 1547L1501 1546.9L1503 1546.9L1505 1546.9L1507 1546.9L1509 1546.9L1511 1546.9L1513 1546.9L1515 1546.9L1517 1546.9L1519 1546.9L1521 1546.9L1523 1546.9L1525 1546.9L1527 1546.9L1529 1546.9L1531 1546.9L1533 1546.9L1535 1546.9L1537 1546.9L1539 1546.8L1541 1546.8L1543 1546.8L1545 1546.8L1547 1546.8L1549 1546.8L1551 1546.8L1553 1546.8L1555 1546.8L1557 1546.8L1559 1546.8L1561 1546.8L1563 1546.8L1565 1546.7L1567 1546.7L1569 1546.7L1571 1546.7L1573 1546.7L1575 1546.7L1577 1546.7L1579 1546.7L1581 1546.7L1583 1546.6L1585 1546.6L1587 1546.6L1589 1546.6L1591 1546.6L1593 1546.6L1595 1546.6L1597 1546.6L1599 1546.5L1601 1546.5L1603 1546.5L1605 1546.5L1607 1546.5L1609 1546.5L1611 1546.5L1613 1546.4L1615 1546.4L1617 1546.4L1619 1546.4L1621 1546.4L1623 1546.4L1625 1546.3L1627 1546.3L1629 1546.3L1631 1546.3L1633 1546.3L1635 1546.2L1637 1546.2L1639 1546.2L1641 1546.2L1643 1546.1L1645 1545.9L1647 1545.7L1649 1545.5L1651 1545.2L1653 1544.9L1655 1544.6L1657 1544.3L1659 1543.9L1661 1543.7L1663 1543.4L1665 1543.2L1667 1543.1L1669 1543L1671 1543L1673 1543L1675 1543.1L1677 1543.1L1679 1543.2L1681 1543.3L1683 1543.4L1685 1543.5L1687 1543.6L1689 1543.7L1691 1543.8L1693 1543.9L1695 1543.9L1697 1544L1699 1544L1701 1544L1703 1544L1705 1544L1707 1544L1709 1544L1711 1543.9L1713 1543.9L1715 1543.9L1717 1543.8L1719 1543.8L1721 1543.8L1723 1543.7L1725 1543.7L1727 1543.6L1729 1543.6L1731 1543.5L1733 1543.5L1735 1543.4L1737 1543.4L1739 1543.3L1741 1543.3L1743 1543.2L1745 1543.2L1747 1543.1L1749 1543.1L1751 1543L1753 1543L1755 1542.9L1757 1542.9L1759 1542.8L1761 1542.8L1763 1542.8L1765 1542.7L1767 1542.7L1769 1542.7L1771 1542.6L1773 1542.6L1775 1542.6L1777 1542.6L1779 1542.6L1781 1542.6L1783 1542.6L1785 1542.6L1787 1542.6L1789 1542.6L1791 1542.6L1793 1542.6L1795 1542.6L1797 1542.6L1799 1542.6L1801 1542.6L1803 1542.6L1805 1542.6L1807 1542.6L1809 1542.6L1811 1542.6L1813 1542.6L1815 1542.6L1817 1542.6L1819 1542.6L1821 1542.6L1823 1542.6L1825 1542.6L1827 1542.6L1829 1542.6L1831 1542.6L1833 1542.6L1835 1542.6L1837 1542.6L1839 1542.6L1841 1542.6L1843 1542.6L1845 1542.6L1847 1542.6L1849 1542.6L1851 1542.6L1853 1542.6L1855 1542.6L1857 1542.6L1859 1542.6L1861 1542.6L1863 1542.6L1865 1542.6L1867 1542.6L1869 1542.6L1871 1542.6L1873 1542.6L1875 1542.6L1877 1542.6L1879 1542.6L1881 1542.6L1883 1542.6L1885 1542.6L1887 1542.6L1889 1542.6L1891 1542.6L1893 1542.6L1895 1542.6L1897 1542.6L1899 1542.6L1901 1542.6L1903 1542.6L1905 1542.6L1907 1542.6L1909 1542.6L1911 1542.6L1913 1542.6L1915 1542.6L1917 1542.6L1919 1542.6L1921 1542.6L1923 1542.6L1925 1542.6L1927 1542.6L1929 1542.6L1931 1542.6L1933 1542.6L1935 1542.6L1937 1542.6L1939 1542.6L1941 1542.6L1943 1542.6L1945 1542.6L1947 1542.6L1949 1542.6L1951 1542.6L1953 1542.6L1955 1542.6L1957 1542.6L1959 1542.6L1961 1542.6L1963 1542.6L1965 1542.6L1967 1542.6L1969 1542.6L1971 1542.6L1973 1542.6L1975 1542.6L1977 1542.6L1979 1542.6L1981 1542.6L1983 1542.6L1985 1542.6L1987 1542.6L1989 1542.6L1991 1542.6L1993 1542.6L1995 1542.6L1997 1542.6L1999 1542.6L2001 1542.6L2003 1542.6L2005 1542.6L2007 1542.6L2009 1542.6L2011 1542.6L2013 1542.6L2015 1542.6L2017 1542.6L2019 1542.6L2021 1542.6L2023 1542.6L2025 1542.6L2027 1542.6L2029 1542.6L2031 1542.6L2033 1542.6L2035 1542.6L2037 1542.6" fill="none" stroke="#0414c8" stroke-width="6.5" stroke-linejoin="round" stroke-linecap="butt" stroke-dasharray="24 32"/>
<path d="M1437 1546.8L1439 1546.8L1441 1546.8L1443 1546.8L1445 1546.8L1447 1546.7L1449 1546.7L1451 1546.7L1453 1546.7L1455 1546.7L1457 1546.7L1459 1546.7L1461 1546.7L1463 1546.7L1465 1546.7L1467 1546.7L1469 1546.7L1471 1546.7L1473 1546.7L1475 1546.7L1477 1546.7L1479 1546.6L1481 1546.6L1483 1546.6L1485 1546.6L1487 1546.6L1489 1546.6L1491 1546.6L1493 1546.6L1495 1546.6L1497 1546.5L1499 1546.5L1501 1546.5L1503 1546.5L1505 1546.5L1507 1546.5L1509 1546.5L1511 1546.5L1513 1546.4L1515 1546.4L1517 1546.4L1519 1546.4L1521 1546.4L1523 1546.3L1525 1546.3L1527 1546.3L1529 1546.3L1531 1546.3L1533 1546.2L1535 1546.2L1537 1546.2L1539 1546.2L1541 1546.1L1543 1546.1L1545 1546.1L1547 1546L1549 1546L1551 1546L1553 1545.9L1555 1545.9L1557 1545.8L1559 1545.8L1561 1545.7L1563 1545.7L1565 1545.6L1567 1545.5L1569 1545.4L1571 1545.3L1573 1545.2L1575 1545.1L1577 1544.9L1579 1544.7L1581 1544.5L1583 1544.3L1585 1544L1587 1543.7L1589 1543.3L1591 1542.9L1593 1542.4L1595 1541.8L1597 1541.2L1599 1540.4L1601 1539.6L1603 1538.6L1605 1537.5L1607 1536.3L1609 1534.9L1611 1533.4L1613 1531.7L1615 1529.8L1617 1527.8L1619 1525.5L1621 1523.1L1623 1520.4L1625 1517.6L1627 1514.5L1629 1511.3L1631 1507.9L1633 1504.3L1635 1500.5L1637 1496.6L1639 1492.6L1641 1488.4L1643 1484.2L1645 1479.8L1647 1475.4L1649 1471L1651 1466.6L1653 1462.4L1655 1458.3L1657 1454.4L1659 1450.8L1661 1447.5L1663 1444.6L1665 1442.1L1667 1440L1669 1438.5L1671 1437.6L1673 1437.1L1675 1437.1L1677 1437.6L1679 1438.5L1681 1439.8L1683 1441.4L1685 1443.4L1687 1445.8L1689 1448.4L1691 1451.3L1693 1454.5L1695 1457.8L1697 1461.3L1699 1464.9L1701 1468.6L1703 1472.3L1705 1476.1L1707 1479.9L1709 1483.7L1711 1487.5L1713 1491.2L1715 1494.8L1717 1498.3L1719 1501.6L1721 1504.9L1723 1507.9L1725 1510.9L1727 1513.7L1729 1516.3L1731 1518.7L1733 1521L1735 1523.1L1737 1525L1739 1526.8L1741 1528.5L1743 1529.9L1745 1531.3L1747 1532.5L1749 1533.6L1751 1534.6L1753 1535.5L1755 1536.3L1757 1536.9L1759 1537.5L1761 1538.1L1763 1538.6L1765 1539L1767 1539.3L1769 1539.6L1771 1539.9L1773 1540.2L1775 1540.4L1777 1540.6L1779 1540.7L1781 1540.9L1783 1541L1785 1541.1L1787 1541.2L1789 1541.3L1791 1541.4L1793 1541.4L1795 1541.5L1797 1541.5L1799 1541.6L1801 1541.6L1803 1541.7L1805 1541.7L1807 1541.7L1809 1541.8L1811 1541.8L1813 1541.8L1815 1541.8L1817 1541.9L1819 1541.9L1821 1541.9L1823 1541.9L1825 1541.9L1827 1542L1829 1542L1831 1542L1833 1542L1835 1542L1837 1542L1839 1542L1841 1542.1L1843 1542.1L1845 1542.1L1847 1542.1L1849 1542.1L1851 1542.1L1853 1542.1L1855 1542.1L1857 1542.1L1859 1542.2L1861 1542.2L1863 1542.2L1865 1542.2L1867 1542.2L1869 1542.2L1871 1542.2L1873 1542.2L1875 1542.2L1877 1542.2L1879 1542.2L1881 1542.2L1883 1542.2L1885 1542.3L1887 1542.3L1889 1542.3L1891 1542.3L1893 1542.3L1895 1542.3L1897 1542.3L1899 1542.3L1901 1542.3L1903 1542.3L1905 1542.3L1907 1542.3L1909 1542.3L1911 1542.3L1913 1542.3L1915 1542.3L1917 1542.3L1919 1542.3L1921 1542.3L1923 1542.3L1925 1542.4L1927 1542.4L1929 1542.4L1931 1542.4L1933 1542.4L1935 1542.4L1937 1542.4L1939 1542.4L1941 1542.4L1943 1542.4L1945 1542.4L1947 1542.4L1949 1542.4L1951 1542.4L1953 1542.4L1955 1542.4L1957 1542.4L1959 1542.4L1961 1542.4L1963 1542.4L1965 1542.4L1967 1542.4L1969 1542.4L1971 1542.4L1973 1542.4L1975 1542.4L1977 1542.4L1979 1542.4L1981 1542.4L1983 1542.4L1985 1542.4L1987 1542.4L1989 1542.4L1991 1542.4L1993 1542.4L1995 1542.4L1997 1542.4L1999 1542.5L2001 1542.5L2003 1542.5L2005 1542.5L2007 1542.5L2009 1542.5L2011 1542.5L2013 1542.5L2015 1542.5L2017 1542.5L2019 1542.5L2021 1542.5L2023 1542.5L2025 1542.5L2027 1542.5L2029 1542.5L2031 1542.5L2033 1542.5L2035 1542.5L2037 1542.5" fill="none" stroke="#0414c8" stroke-width="6.0" stroke-linejoin="round" stroke-linecap="butt" stroke-dasharray="24 32"/>
<path d="M1437 1546.9L1439 1546.9L1441 1546.9L1443 1546.9L1445 1546.9L1447 1546.9L1449 1546.9L1451 1546.9L1453 1546.9L1455 1546.9L1457 1546.9L1459 1546.9L1461 1546.9L1463 1546.9L1465 1546.9L1467 1546.9L1469 1546.9L1471 1546.9L1473 1546.9L1475 1546.9L1477 1546.9L1479 1546.9L1481 1546.9L1483 1546.9L1485 1546.9L1487 1546.9L1489 1546.9L1491 1546.8L1493 1546.8L1495 1546.8L1497 1546.8L1499 1546.8L1501 1546.8L1503 1546.8L1505 1546.8L1507 1546.8L1509 1546.8L1511 1546.8L1513 1546.8L1515 1546.8L1517 1546.8L1519 1546.8L1521 1546.8L1523 1546.8L1525 1546.7L1527 1546.7L1529 1546.7L1531 1546.7L1533 1546.7L1535 1546.7L1537 1546.7L1539 1546.7L1541 1546.7L1543 1546.7L1545 1546.7L1547 1546.6L1549 1546.6L1551 1546.6L1553 1546.6L1555 1546.6L1557 1546.6L1559 1546.6L1561 1546.6L1563 1546.6L1565 1546.5L1567 1546.5L1569 1546.5L1571 1546.5L1573 1546.5L1575 1546.5L1577 1546.5L1579 1546.4L1581 1546.4L1583 1546.4L1585 1546.4L1587 1546.4L1589 1546.4L1591 1546.3L1593 1546.3L1595 1546.3L1597 1546.3L1599 1546.3L1601 1546.2L1603 1546.2L1605 1546.2L1607 1546.2L1609 1546.2L1611 1546.1L1613 1546.1L1615 1546.1L1617 1546.1L1619 1546L1621 1546L1623 1546L1625 1545.9L1627 1545.9L1629 1545.9L1631 1545.8L1633 1545.8L1635 1545.7L1637 1545.7L1639 1545.6L1641 1545.6L1643 1545.4L1645 1545.2L1647 1545L1649 1544.7L1651 1544.3L1653 1544L1655 1543.6L1657 1543.2L1659 1542.8L1661 1542.5L1663 1542.1L1665 1541.8L1667 1541.5L1669 1541.3L1671 1541.2L1673 1541L1675 1540.9L1677 1540.8L1679 1540.6L1681 1540.5L1683 1540.3L1685 1540.2L1687 1540L1689 1539.7L1691 1539.5L1693 1539.2L1695 1538.9L1697 1538.5L1699 1538.1L1701 1537.6L1703 1537.1L1705 1536.6L1707 1536L1709 1535.4L1711 1534.7L1713 1534L1715 1533.3L1717 1532.6L1719 1531.8L1721 1531L1723 1530.1L1725 1529.2L1727 1528.3L1729 1527.4L1731 1526.4L1733 1525.5L1735 1524.5L1737 1523.5L1739 1522.4L1741 1521.4L1743 1520.4L1745 1519.4L1747 1518.3L1749 1517.3L1751 1516.3L1753 1515.3L1755 1514.4L1757 1513.4L1759 1512.5L1761 1511.6L1763 1510.8L1765 1510L1767 1509.3L1769 1508.6L1771 1508L1773 1507.4L1775 1507L1777 1506.5L1779 1506.2L1781 1505.9L1783 1505.8L1785 1505.6L1787 1505.6L1789 1505.6L1791 1505.8L1793 1505.9L1795 1506.2L1797 1506.5L1799 1506.9L1801 1507.4L1803 1507.9L1805 1508.5L1807 1509.2L1809 1509.9L1811 1510.6L1813 1511.4L1815 1512.3L1817 1513.1L1819 1514L1821 1514.9L1823 1515.9L1825 1516.8L1827 1517.8L1829 1518.8L1831 1519.8L1833 1520.7L1835 1521.7L1837 1522.7L1839 1523.6L1841 1524.6L1843 1525.5L1845 1526.4L1847 1527.3L1849 1528.1L1851 1529L1853 1529.8L1855 1530.6L1857 1531.3L1859 1532L1861 1532.7L1863 1533.4L1865 1534L1867 1534.6L1869 1535.2L1871 1535.7L1873 1536.2L1875 1536.7L1877 1537.1L1879 1537.6L1881 1538L1883 1538.3L1885 1538.7L1887 1539L1889 1539.3L1891 1539.5L1893 1539.8L1895 1540L1897 1540.2L1899 1540.4L1901 1540.6L1903 1540.8L1905 1540.9L1907 1541L1909 1541.2L1911 1541.3L1913 1541.4L1915 1541.5L1917 1541.6L1919 1541.6L1921 1541.7L1923 1541.8L1925 1541.8L1927 1541.9L1929 1541.9L1931 1542L1933 1542L1935 1542L1937 1542.1L1939 1542.1L1941 1542.1L1943 1542.1L1945 1542.2L1947 1542.2L1949 1542.2L1951 1542.2L1953 1542.2L1955 1542.2L1957 1542.2L1959 1542.3L1961 1542.3L1963 1542.3L1965 1542.3L1967 1542.3L1969 1542.3L1971 1542.3L1973 1542.3L1975 1542.3L1977 1542.3L1979 1542.3L1981 1542.3L1983 1542.3L1985 1542.4L1987 1542.4L1989 1542.4L1991 1542.4L1993 1542.4L1995 1542.4L1997 1542.4L1999 1542.4L2001 1542.4L2003 1542.4L2005 1542.4L2007 1542.4L2009 1542.4L2011 1542.4L2013 1542.4L2015 1542.4L2017 1542.4L2019 1542.4L2021 1542.4L2023 1542.4L2025 1542.4L2027 1542.4L2029 1542.4L2031 1542.4L2033 1542.4L2035 1542.4L2037 1542.4" fill="none" stroke="#0414c8" stroke-width="6.0" stroke-linejoin="round" stroke-linecap="butt" stroke-dasharray="24 32"/>
<path d="M1437 1545L1440 1544.5L1443 1544.6L1446 1545.9L1449 1547.5L1452 1546.7L1455 1545.9L1458 1544.5L1461 1545L1464 1544.7L1467 1545.8L1470 1545.4L1473 1545.4L1476 1545.2L1479 1544.6L1482 1544.2L1485 1545.2L1488 1544.1L1491 1544.1L1494 1544.7L1497 1544.7L1500 1545.4L1503 1546L1506 1545.5L1509 1545.3L1512 1545.2L1515 1545.3L1518 1543.7L1521 1544.6L1524 1543.9L1527 1543.6L1530 1544.4L1533 1544.4L1536 1545.1L1539 1545L1542 1542.9L1545 1544.2L1548 1545.9L1551 1545.5L1554 1545.4L1557 1544.1L1560 1542.6L1563 1542.5L1566 1543.6L1569 1543.2L1572 1541.5L1575 1540.9L1578 1540.2L1581 1538.3L1584 1538.5L1587 1539.5L1590 1539L1593 1536.7L1596 1536.1L1599 1533.4L1602 1531L1605 1528.8L1608 1528.6L1611 1526.1L1614 1524.5L1617 1520.1L1620 1515.8L1623 1511.3L1626 1509.2L1629 1504.2L1632 1499.2L1635 1493.5L1638 1490.7L1641 1486L1644 1479.7L1647 1474.1L1650 1468.5L1653 1463L1656 1457.3L1659 1453.4L1662 1447.8L1665 1442.8L1668 1438.5L1671 1434.5L1674 1434.6L1677 1436.8L1680 1438.2L1683 1439.8L1686 1442.7L1689 1444.5L1692 1449.6L1695 1455.1L1698 1459.8L1701 1463.6L1704 1469L1707 1474L1710 1477L1713 1481.1L1716 1483.5L1719 1487.1L1722 1493L1725 1496.9L1728 1499.9L1731 1501.3L1734 1502.3L1737 1504L1740 1505.1L1743 1504L1746 1503.4L1749 1505.5L1752 1505.7L1755 1505.7L1758 1505.8L1761 1507L1764 1505.8L1767 1505.3L1770 1503.9L1773 1504.5L1776 1504.8L1779 1505.4L1782 1505.6L1785 1505.4L1788 1506.7L1791 1505.3L1794 1505.8L1797 1506.7L1800 1506.7L1803 1508.6L1806 1509.6L1809 1510.2L1812 1512.2L1815 1512L1818 1512.5L1821 1512.5L1824 1512.9L1827 1514.7L1830 1516.2L1833 1517.5L1836 1519L1839 1518.2L1842 1519.5L1845 1520.8L1848 1523.8L1851 1524.1L1854 1524.8L1857 1525.8L1860 1528.1L1863 1528.7L1866 1529.5L1869 1529.5L1872 1532.3L1875 1533.3L1878 1534.3L1881 1535.5L1884 1535.5L1887 1536.4L1890 1537.8L1893 1538.4L1896 1538.6L1899 1539L1902 1539.2L1905 1540.3L1908 1540.6L1911 1540.5L1914 1541.2L1917 1539.3L1920 1540.2L1923 1541.6L1926 1540.3L1929 1539.7L1932 1541.6L1935 1541.3L1938 1540.3L1941 1541.3L1944 1540.3L1947 1540L1950 1540.9L1953 1540.9L1956 1540.5L1959 1540.9L1962 1540.9L1965 1541.6L1968 1542L1971 1542.4L1974 1541.5L1977 1540.7L1980 1540.8L1983 1542L1986 1543.4L1989 1543L1992 1542.1L1995 1542.7L1998 1541.8L2001 1542.8L2004 1542.4L2007 1543L2010 1543L2013 1542.4L2016 1542.5L2019 1541.7L2022 1542.5L2025 1544.1L2028 1546L2031 1543.9L2034 1542.6L2037 1542" fill="none" stroke="#0414c8" stroke-width="6.0" stroke-linejoin="round" stroke-linecap="round"/>
<path d="M1437 1545.6L1439 1545.6L1441 1545.6L1443 1545.6L1445 1545.6L1447 1545.6L1449 1545.6L1451 1545.6L1453 1545.6L1455 1545.6L1457 1545.6L1459 1545.6L1461 1545.6L1463 1545.5L1465 1545.5L1467 1545.5L1469 1545.5L1471 1545.5L1473 1545.5L1475 1545.5L1477 1545.5L1479 1545.4L1481 1545.4L1483 1545.4L1485 1545.4L1487 1545.4L1489 1545.4L1491 1545.3L1493 1545.3L1495 1545.3L1497 1545.3L1499 1545.3L1501 1545.2L1503 1545.2L1505 1545.2L1507 1545.1L1509 1545.1L1511 1545.1L1513 1545.1L1515 1545L1517 1545L1519 1545L1521 1544.9L1523 1544.9L1525 1544.8L1527 1544.8L1529 1544.8L1531 1544.7L1533 1544.7L1535 1544.6L1537 1544.6L1539 1544.6L1541 1544.5L1543 1544.5L1545 1544.4L1547 1544.4L1549 1544.3L1551 1544.3L1553 1544.2L1555 1544.1L1557 1544.1L1559 1544L1561 1543.8L1563 1543.6L1565 1543.3L1567 1543L1569 1542.6L1571 1542.2L1573 1541.7L1575 1541.2L1577 1540.7L1579 1540.2L1581 1539.7L1583 1539.1L1585 1538.6L1587 1538L1589 1537.4L1591 1536.8L1593 1536.1L1595 1535.3L1597 1534.5L1599 1533.6L1601 1532.7L1603 1531.6L1605 1530.5L1607 1529.2L1609 1527.6L1611 1525.8L1613 1523.8L1615 1521.7L1617 1519.5L1619 1517.2L1621 1514.8L1623 1512.4L1625 1509.9L1627 1507.2L1629 1504.3L1631 1501.4L1633 1498.3L1635 1495.1L1637 1491.9L1639 1488.6L1641 1485.3L1643 1481.8L1645 1478.1L1647 1474.1L1649 1470.1L1651 1466.1L1653 1462.2L1655 1458.5L1657 1455.2L1659 1452.2L1661 1449.3L1663 1446.4L1665 1443.4L1667 1440.7L1669 1438.4L1671 1436.7L1673 1435.7L1675 1435.7L1677 1436.2L1679 1437.3L1681 1438.7L1683 1440.4L1685 1442.2L1687 1443.9L1689 1446.1L1691 1448.7L1693 1451.6L1695 1454.7L1697 1457.9L1699 1461L1701 1463.9L1703 1466.7L1705 1469.6L1707 1472.5L1709 1475.4L1711 1478.3L1713 1481L1715 1483.7L1717 1486.2L1719 1488.8L1721 1491.6L1723 1494.3L1725 1496.8L1727 1499L1729 1500.7L1731 1501.8L1733 1502.3L1735 1502.8L1737 1503.2L1739 1503.6L1741 1503.9L1743 1504.2L1745 1504.4L1747 1504.6L1749 1504.8L1751 1504.9L1753 1505L1755 1505.1L1757 1505.2L1759 1505.2L1761 1505.3L1763 1505.3L1765 1505.3L1767 1505.3L1769 1505.4L1771 1505.4L1773 1505.4L1775 1505.5L1777 1505.5L1779 1505.5L1781 1505.6L1783 1505.6L1785 1505.7L1787 1505.7L1789 1505.8L1791 1506L1793 1506.2L1795 1506.5L1797 1506.9L1799 1507.3L1801 1507.8L1803 1508.3L1805 1508.9L1807 1509.4L1809 1510L1811 1510.5L1813 1511.1L1815 1511.6L1817 1512.2L1819 1512.9L1821 1513.5L1823 1514.2L1825 1514.9L1827 1515.6L1829 1516.4L1831 1517.1L1833 1517.9L1835 1518.6L1837 1519.4L1839 1520.1L1841 1520.8L1843 1521.5L1845 1522.2L1847 1523L1849 1523.7L1851 1524.4L1853 1525.2L1855 1525.9L1857 1526.7L1859 1527.4L1861 1528.1L1863 1528.8L1865 1529.5L1867 1530.2L1869 1530.9L1871 1531.5L1873 1532.1L1875 1532.7L1877 1533.3L1879 1534L1881 1534.6L1883 1535.2L1885 1535.8L1887 1536.5L1889 1537L1891 1537.6L1893 1538.1L1895 1538.5L1897 1538.9L1899 1539.2L1901 1539.4L1903 1539.6L1905 1539.7L1907 1539.8L1909 1539.9L1911 1540L1913 1540.1L1915 1540.2L1917 1540.2L1919 1540.3L1921 1540.4L1923 1540.5L1925 1540.6L1927 1540.7L1929 1540.7L1931 1540.8L1933 1540.9L1935 1540.9L1937 1541L1939 1541.1L1941 1541.1L1943 1541.2L1945 1541.3L1947 1541.3L1949 1541.4L1951 1541.5L1953 1541.5L1955 1541.6L1957 1541.6L1959 1541.7L1961 1541.7L1963 1541.8L1965 1541.8L1967 1541.9L1969 1541.9L1971 1541.9L1973 1542L1975 1542L1977 1542.1L1979 1542.1L1981 1542.1L1983 1542.2L1985 1542.2L1987 1542.2L1989 1542.3L1991 1542.3L1993 1542.3L1995 1542.3L1997 1542.4L1999 1542.4L2001 1542.4L2003 1542.4L2005 1542.5L2007 1542.5L2009 1542.5L2011 1542.5L2013 1542.5L2015 1542.5L2017 1542.5L2019 1542.6L2021 1542.6L2023 1542.6L2025 1542.6L2027 1542.6L2029 1542.6L2031 1542.6L2033 1542.6L2035 1542.6L2037 1542.6" fill="none" stroke="#0414c8" stroke-width="5.5" stroke-linejoin="round" stroke-linecap="round"/>
<path d="M1445 1765L1447 1765L1449 1765L1451 1765L1453 1765L1455 1765L1457 1765L1459 1765L1461 1765L1463 1765L1465 1765L1467 1765L1469 1765L1471 1765L1473 1765L1475 1765L1477 1765L1479 1765L1481 1765L1483 1765L1485 1765L1487 1765L1489 1765L1491 1765L1493 1765L1495 1765L1497 1765L1499 1765L1501 1765L1503 1765L1505 1765L1507 1765L1509 1765L1511 1765L1513 1765L1515 1765L1517 1765L1519 1765L1521 1765L1523 1765L1525 1765L1527 1765L1529 1765L1531 1765L1533 1765L1535 1765L1537 1765L1539 1765L1541 1765L1543 1765L1545 1765L1547 1765L1549 1765L1551 1765L1553 1765L1555 1765L1557 1765L1559 1765L1561 1764.9L1563 1764.9L1565 1764.9L1567 1764.9L1569 1764.9L1571 1764.9L1573 1764.9L1575 1764.9L1577 1764.9L1579 1764.9L1581 1764.9L1583 1764.9L1585 1764.9L1587 1764.9L1589 1764.9L1591 1764.9L1593 1764.9L1595 1764.9L1597 1764.9L1599 1764.9L1601 1764.9L1603 1764.9L1605 1764.9L1607 1764.9L1609 1764.9L1611 1764.9L1613 1764.9L1615 1764.9L1617 1764.9L1619 1764.9L1621 1764.8L1623 1764.8L1625 1764.8L1627 1764.8L1629 1764.8L1631 1764.8L1633 1764.8L1635 1764.8L1637 1764.8L1639 1764.8L1641 1764.8L1643 1764.6L1645 1764.4L1647 1764.1L1649 1763.7L1651 1763.2L1653 1762.8L1655 1762.3L1657 1761.9L1659 1761.5L1661 1761.3L1663 1761.1L1665 1761L1667 1761L1669 1761.1L1671 1761.1L1673 1761.2L1675 1761.3L1677 1761.4L1679 1761.5L1681 1761.6L1683 1761.7L1685 1761.8L1687 1762L1689 1762.1L1691 1762.2L1693 1762.3L1695 1762.3L1697 1762.4L1699 1762.4L1701 1762.4L1703 1762.4L1705 1762.4L1707 1762.3L1709 1762.3L1711 1762.3L1713 1762.2L1715 1762.1L1717 1762.1L1719 1762L1721 1761.9L1723 1761.9L1725 1761.8L1727 1761.7L1729 1761.6L1731 1761.5L1733 1761.4L1735 1761.3L1737 1761.2L1739 1761.1L1741 1761L1743 1760.9L1745 1760.9L1747 1760.8L1749 1760.7L1751 1760.6L1753 1760.5L1755 1760.5L1757 1760.4L1759 1760.3L1761 1760.3L1763 1760.2L1765 1760.2L1767 1760.1L1769 1760L1771 1760L1773 1759.9L1775 1759.9L1777 1759.8L1779 1759.7L1781 1759.7L1783 1759.6L1785 1759.6L1787 1759.5L1789 1759.5L1791 1759.5L1793 1759.4L1795 1759.4L1797 1759.4L1799 1759.4L1801 1759.4L1803 1759.4L1805 1759.4L1807 1759.4L1809 1759.4L1811 1759.4L1813 1759.4L1815 1759.4L1817 1759.4L1819 1759.4L1821 1759.4L1823 1759.4L1825 1759.4L1827 1759.4L1829 1759.4L1831 1759.4L1833 1759.4L1835 1759.4L1837 1759.4L1839 1759.4L1841 1759.4L1843 1759.4L1845 1759.4L1847 1759.4L1849 1759.4L1851 1759.4L1853 1759.4L1855 1759.4L1857 1759.4L1859 1759.4L1861 1759.4L1863 1759.4L1865 1759.4L1867 1759.4L1869 1759.4L1871 1759.4L1873 1759.4L1875 1759.4L1877 1759.4L1879 1759.4L1881 1759.4L1883 1759.4L1885 1759.4L1887 1759.4L1889 1759.4L1891 1759.4L1893 1759.4L1895 1759.4L1897 1759.4L1899 1759.4L1901 1759.4L1903 1759.4L1905 1759.4L1907 1759.4L1909 1759.4L1911 1759.4L1913 1759.4L1915 1759.4L1917 1759.4L1919 1759.4L1921 1759.4L1923 1759.4L1925 1759.4L1927 1759.4L1929 1759.4L1931 1759.4L1933 1759.4L1935 1759.4L1937 1759.4L1939 1759.4L1941 1759.4L1943 1759.4L1945 1759.4L1947 1759.4L1949 1759.4L1951 1759.4L1953 1759.4L1955 1759.4L1957 1759.4L1959 1759.4L1961 1759.4L1963 1759.4L1965 1759.4L1967 1759.4L1969 1759.4L1971 1759.4L1973 1759.4L1975 1759.4L1977 1759.4L1979 1759.4L1981 1759.4L1983 1759.4L1985 1759.4L1987 1759.4L1989 1759.4L1991 1759.4L1993 1759.4L1995 1759.4L1997 1759.4L1999 1759.4L2001 1759.4L2003 1759.4L2005 1759.4L2007 1759.4L2009 1759.4L2011 1759.4L2013 1759.4L2015 1759.4L2017 1759.4L2019 1759.4L2021 1759.4L2023 1759.4L2025 1759.4L2027 1759.4L2029 1759.4L2031 1759.4L2033 1759.4L2035 1759.4L2037 1759.4" fill="none" stroke="#008c00" stroke-width="6.5" stroke-linejoin="round" stroke-linecap="butt" stroke-dasharray="24 32"/>
<path d="M1445 1764.6L1447 1764.6L1449 1764.6L1451 1764.6L1453 1764.6L1455 1764.6L1457 1764.5L1459 1764.5L1461 1764.5L1463 1764.5L1465 1764.5L1467 1764.5L1469 1764.5L1471 1764.5L1473 1764.5L1475 1764.5L1477 1764.5L1479 1764.4L1481 1764.4L1483 1764.4L1485 1764.4L1487 1764.4L1489 1764.4L1491 1764.4L1493 1764.4L1495 1764.3L1497 1764.3L1499 1764.3L1501 1764.3L1503 1764.3L1505 1764.3L1507 1764.3L1509 1764.2L1511 1764.2L1513 1764.2L1515 1764.2L1517 1764.2L1519 1764.1L1521 1764.1L1523 1764.1L1525 1764.1L1527 1764.1L1529 1764L1531 1764L1533 1764L1535 1763.9L1537 1763.9L1539 1763.9L1541 1763.9L1543 1763.8L1545 1763.8L1547 1763.7L1549 1763.7L1551 1763.7L1553 1763.6L1555 1763.5L1557 1763.5L1559 1763.4L1561 1763.3L1563 1763.3L1565 1763.2L1567 1763.1L1569 1762.9L1571 1762.8L1573 1762.6L1575 1762.4L1577 1762.2L1579 1762L1581 1761.7L1583 1761.4L1585 1761L1587 1760.6L1589 1760.1L1591 1759.6L1593 1759L1595 1758.3L1597 1757.5L1599 1756.5L1601 1755.5L1603 1754.3L1605 1753L1607 1751.6L1609 1750L1611 1748.1L1613 1746.2L1615 1744L1617 1741.5L1619 1738.9L1621 1736L1623 1732.9L1625 1729.6L1627 1726L1629 1722.2L1631 1718.1L1633 1713.7L1635 1709.2L1637 1704.4L1639 1699.4L1641 1694.2L1643 1688.8L1645 1683L1647 1677.1L1649 1671.1L1651 1665L1653 1658.8L1655 1652.7L1657 1646.7L1659 1641L1661 1635.4L1663 1630.2L1665 1625.4L1667 1621.1L1669 1617.1L1671 1613.6L1673 1610.5L1675 1608L1677 1606.1L1679 1604.7L1681 1603.9L1683 1603.7L1685 1604.1L1687 1605L1689 1606.3L1691 1608.2L1693 1610.5L1695 1613.2L1697 1616.3L1699 1619.7L1701 1623.5L1703 1627.6L1705 1631.9L1707 1636.5L1709 1641.3L1711 1646.2L1713 1651.2L1715 1656.3L1717 1661.4L1719 1666.6L1721 1671.7L1723 1676.8L1725 1681.8L1727 1686.7L1729 1691.5L1731 1696.1L1733 1700.6L1735 1704.9L1737 1709L1739 1713L1741 1716.7L1743 1720.2L1745 1723.6L1747 1726.7L1749 1729.6L1751 1732.3L1753 1734.8L1755 1737.1L1757 1739.3L1759 1741.3L1761 1743.1L1763 1744.7L1765 1746.2L1767 1747.5L1769 1748.8L1771 1749.8L1773 1750.8L1775 1751.7L1777 1752.4L1779 1753.1L1781 1753.7L1783 1754.2L1785 1754.7L1787 1755.1L1789 1755.5L1791 1755.8L1793 1756.1L1795 1756.3L1797 1756.5L1799 1756.7L1801 1756.9L1803 1757.1L1805 1757.2L1807 1757.4L1809 1757.5L1811 1757.6L1813 1757.7L1815 1757.8L1817 1757.8L1819 1757.9L1821 1757.9L1823 1758L1825 1758L1827 1758.1L1829 1758.1L1831 1758.2L1833 1758.2L1835 1758.2L1837 1758.3L1839 1758.3L1841 1758.3L1843 1758.4L1845 1758.4L1847 1758.4L1849 1758.4L1851 1758.5L1853 1758.5L1855 1758.5L1857 1758.5L1859 1758.5L1861 1758.6L1863 1758.6L1865 1758.6L1867 1758.6L1869 1758.6L1871 1758.6L1873 1758.7L1875 1758.7L1877 1758.7L1879 1758.7L1881 1758.7L1883 1758.7L1885 1758.7L1887 1758.7L1889 1758.8L1891 1758.8L1893 1758.8L1895 1758.8L1897 1758.8L1899 1758.8L1901 1758.8L1903 1758.8L1905 1758.8L1907 1758.9L1909 1758.9L1911 1758.9L1913 1758.9L1915 1758.9L1917 1758.9L1919 1758.9L1921 1758.9L1923 1758.9L1925 1758.9L1927 1758.9L1929 1758.9L1931 1759L1933 1759L1935 1759L1937 1759L1939 1759L1941 1759L1943 1759L1945 1759L1947 1759L1949 1759L1951 1759L1953 1759L1955 1759L1957 1759L1959 1759L1961 1759L1963 1759L1965 1759.1L1967 1759.1L1969 1759.1L1971 1759.1L1973 1759.1L1975 1759.1L1977 1759.1L1979 1759.1L1981 1759.1L1983 1759.1L1985 1759.1L1987 1759.1L1989 1759.1L1991 1759.1L1993 1759.1L1995 1759.1L1997 1759.1L1999 1759.1L2001 1759.1L2003 1759.1L2005 1759.1L2007 1759.1L2009 1759.1L2011 1759.1L2013 1759.1L2015 1759.1L2017 1759.1L2019 1759.2L2021 1759.2L2023 1759.2L2025 1759.2L2027 1759.2L2029 1759.2L2031 1759.2L2033 1759.2L2035 1759.2L2037 1759.2" fill="none" stroke="#008c00" stroke-width="6.0" stroke-linejoin="round" stroke-linecap="butt" stroke-dasharray="24 32"/>
<path d="M1445 1764.9L1447 1764.9L1449 1764.9L1451 1764.9L1453 1764.9L1455 1764.9L1457 1764.9L1459 1764.9L1461 1764.9L1463 1764.9L1465 1764.9L1467 1764.9L1469 1764.9L1471 1764.9L1473 1764.9L1475 1764.9L1477 1764.9L1479 1764.9L1481 1764.9L1483 1764.9L1485 1764.9L1487 1764.9L1489 1764.9L1491 1764.9L1493 1764.9L1495 1764.9L1497 1764.9L1499 1764.9L1501 1764.9L1503 1764.9L1505 1764.9L1507 1764.8L1509 1764.8L1511 1764.8L1513 1764.8L1515 1764.8L1517 1764.8L1519 1764.8L1521 1764.8L1523 1764.8L1525 1764.8L1527 1764.8L1529 1764.8L1531 1764.8L1533 1764.8L1535 1764.8L1537 1764.8L1539 1764.8L1541 1764.8L1543 1764.8L1545 1764.8L1547 1764.8L1549 1764.8L1551 1764.8L1553 1764.8L1555 1764.8L1557 1764.8L1559 1764.7L1561 1764.7L1563 1764.7L1565 1764.7L1567 1764.7L1569 1764.7L1571 1764.7L1573 1764.7L1575 1764.7L1577 1764.7L1579 1764.7L1581 1764.7L1583 1764.7L1585 1764.7L1587 1764.6L1589 1764.6L1591 1764.6L1593 1764.6L1595 1764.6L1597 1764.6L1599 1764.6L1601 1764.6L1603 1764.6L1605 1764.6L1607 1764.6L1609 1764.5L1611 1764.5L1613 1764.5L1615 1764.5L1617 1764.5L1619 1764.5L1621 1764.5L1623 1764.4L1625 1764.4L1627 1764.4L1629 1764.4L1631 1764.4L1633 1764.4L1635 1764.3L1637 1764.3L1639 1764.3L1641 1764.2L1643 1764.1L1645 1763.8L1647 1763.4L1649 1763L1651 1762.5L1653 1762L1655 1761.5L1657 1761.1L1659 1760.6L1661 1760.3L1663 1760L1665 1759.9L1667 1759.8L1669 1759.7L1671 1759.7L1673 1759.6L1675 1759.5L1677 1759.5L1679 1759.4L1681 1759.3L1683 1759.3L1685 1759.1L1687 1759L1689 1758.8L1691 1758.6L1693 1758.3L1695 1758L1697 1757.7L1699 1757.3L1701 1756.8L1703 1756.3L1705 1755.7L1707 1755.1L1709 1754.4L1711 1753.7L1713 1753L1715 1752.1L1717 1751.3L1719 1750.3L1721 1749.4L1723 1748.3L1725 1747.3L1727 1746.2L1729 1745L1731 1743.8L1733 1742.6L1735 1741.3L1737 1740L1739 1738.6L1741 1737.2L1743 1735.9L1745 1734.5L1747 1733L1749 1731.6L1751 1730.2L1753 1728.8L1755 1727.4L1757 1726.1L1759 1724.7L1761 1723.4L1763 1722.2L1765 1721L1767 1719.8L1769 1718.7L1771 1717.7L1773 1716.7L1775 1715.9L1777 1715.1L1779 1714.4L1781 1713.8L1783 1713.3L1785 1712.9L1787 1712.7L1789 1712.5L1791 1712.5L1793 1712.6L1795 1712.8L1797 1713.1L1799 1713.5L1801 1714L1803 1714.7L1805 1715.4L1807 1716.2L1809 1717.1L1811 1718.1L1813 1719.1L1815 1720.2L1817 1721.4L1819 1722.6L1821 1723.8L1823 1725.1L1825 1726.4L1827 1727.7L1829 1729L1831 1730.3L1833 1731.7L1835 1733L1837 1734.3L1839 1735.6L1841 1736.9L1843 1738.1L1845 1739.4L1847 1740.5L1849 1741.7L1851 1742.8L1853 1743.9L1855 1744.9L1857 1745.9L1859 1746.8L1861 1747.7L1863 1748.6L1865 1749.4L1867 1750.1L1869 1750.9L1871 1751.5L1873 1752.2L1875 1752.8L1877 1753.3L1879 1753.8L1881 1754.3L1883 1754.7L1885 1755.1L1887 1755.5L1889 1755.8L1891 1756.1L1893 1756.4L1895 1756.7L1897 1756.9L1899 1757.1L1901 1757.3L1903 1757.5L1905 1757.7L1907 1757.8L1909 1757.9L1911 1758.1L1913 1758.2L1915 1758.3L1917 1758.3L1919 1758.4L1921 1758.5L1923 1758.5L1925 1758.6L1927 1758.7L1929 1758.7L1931 1758.7L1933 1758.8L1935 1758.8L1937 1758.8L1939 1758.9L1941 1758.9L1943 1758.9L1945 1758.9L1947 1758.9L1949 1759L1951 1759L1953 1759L1955 1759L1957 1759L1959 1759L1961 1759L1963 1759L1965 1759L1967 1759.1L1969 1759.1L1971 1759.1L1973 1759.1L1975 1759.1L1977 1759.1L1979 1759.1L1981 1759.1L1983 1759.1L1985 1759.1L1987 1759.1L1989 1759.1L1991 1759.1L1993 1759.1L1995 1759.1L1997 1759.1L1999 1759.2L2001 1759.2L2003 1759.2L2005 1759.2L2007 1759.2L2009 1759.2L2011 1759.2L2013 1759.2L2015 1759.2L2017 1759.2L2019 1759.2L2021 1759.2L2023 1759.2L2025 1759.2L2027 1759.2L2029 1759.2L2031 1759.2L2033 1759.2L2035 1759.2L2037 1759.2" fill="none" stroke="#008c00" stroke-width="6.0" stroke-linejoin="round" stroke-linecap="butt" stroke-dasharray="24 32"/>
<path d="M1445 1765.9L1448 1764.6L1451 1764.7L1454 1766.1L1457 1766.1L1460 1763.9L1463 1764.2L1466 1765L1469 1765.5L1472 1764.4L1475 1764.9L1478 1765L1481 1766.4L1484 1765.3L1487 1764.5L1490 1764.5L1493 1765.4L1496 1765L1499 1763.8L1502 1764.1L1505 1763.2L1508 1763.2L1511 1762.9L1514 1762.8L1517 1763.2L1520 1763.3L1523 1764.4L1526 1764.7L1529 1763.7L1532 1763.1L1535 1763.8L1538 1762L1541 1762L1544 1763.9L1547 1764.3L1550 1764.3L1553 1763.1L1556 1762.2L1559 1762.6L1562 1763.1L1565 1762.1L1568 1761.4L1571 1760.5L1574 1760.4L1577 1761.3L1580 1760.5L1583 1758.6L1586 1757.8L1589 1757.6L1592 1757.3L1595 1755.2L1598 1753.9L1601 1751.1L1604 1750L1607 1749.6L1610 1747.8L1613 1743.9L1616 1741L1619 1738.2L1622 1733.3L1625 1728.6L1628 1724.4L1631 1719.3L1634 1713.9L1637 1707L1640 1698.9L1643 1691.7L1646 1683.9L1649 1674.6L1652 1666.1L1655 1658.3L1658 1649L1661 1642.8L1664 1635.3L1667 1628.1L1670 1622.5L1673 1617.3L1676 1612L1679 1606.3L1682 1603.5L1685 1604.2L1688 1607.9L1691 1610.6L1694 1612.9L1697 1618.5L1700 1625.1L1703 1632.5L1706 1639.6L1709 1647.3L1712 1652L1715 1660.1L1718 1666.3L1721 1671L1724 1676.4L1727 1681.4L1730 1686.6L1733 1691.2L1736 1693.7L1739 1698.8L1742 1702L1745 1706.2L1748 1708.6L1751 1711L1754 1712L1757 1713.2L1760 1713.4L1763 1713.6L1766 1715.2L1769 1716.1L1772 1716.4L1775 1713.6L1778 1714L1781 1714.4L1784 1712.8L1787 1713.6L1790 1715.8L1793 1715.9L1796 1715.4L1799 1717.8L1802 1719.2L1805 1720.1L1808 1721L1811 1722L1814 1722.4L1817 1724L1820 1726.4L1823 1728.1L1826 1730.4L1829 1730.4L1832 1730.4L1835 1733.3L1838 1735.7L1841 1737.2L1844 1738.1L1847 1739L1850 1741.4L1853 1741.7L1856 1743.3L1859 1743.7L1862 1744.4L1865 1746.4L1868 1745.1L1871 1746.7L1874 1748.5L1877 1749L1880 1750.2L1883 1750.3L1886 1750.9L1889 1753L1892 1752.2L1895 1752.2L1898 1752L1901 1752.8L1904 1754.3L1907 1754.8L1910 1754.5L1913 1754.4L1916 1755.1L1919 1754L1922 1754.7L1925 1755.1L1928 1755L1931 1755.6L1934 1755.3L1937 1755.6L1940 1757.5L1943 1757.4L1946 1757.4L1949 1756.9L1952 1757.5L1955 1757.7L1958 1758.3L1961 1758.9L1964 1757.3L1967 1757.2L1970 1756.5L1973 1754.4L1976 1755.6L1979 1757.3L1982 1757.9L1985 1757.5L1988 1758.6L1991 1758.8L1994 1758L1997 1759.2L2000 1759.6L2003 1758.4L2006 1757.6L2009 1758.9L2012 1758.1L2015 1757.8L2018 1758L2021 1758L2024 1759L2027 1759.2L2030 1759.4L2033 1758.7L2036 1757.7" fill="none" stroke="#008c00" stroke-width="6.0" stroke-linejoin="round" stroke-linecap="round"/>
<path d="M1445 1764.8L1447 1764.8L1449 1764.8L1451 1764.8L1453 1764.8L1455 1764.8L1457 1764.8L1459 1764.8L1461 1764.8L1463 1764.8L1465 1764.8L1467 1764.8L1469 1764.7L1471 1764.7L1473 1764.7L1475 1764.7L1477 1764.7L1479 1764.7L1481 1764.7L1483 1764.6L1485 1764.6L1487 1764.6L1489 1764.6L1491 1764.6L1493 1764.6L1495 1764.5L1497 1764.5L1499 1764.5L1501 1764.5L1503 1764.4L1505 1764.4L1507 1764.4L1509 1764.3L1511 1764.3L1513 1764.3L1515 1764.3L1517 1764.2L1519 1764.2L1521 1764.1L1523 1764.1L1525 1764.1L1527 1764L1529 1764L1531 1763.9L1533 1763.9L1535 1763.9L1537 1763.8L1539 1763.8L1541 1763.7L1543 1763.7L1545 1763.6L1547 1763.6L1549 1763.5L1551 1763.5L1553 1763.4L1555 1763.3L1557 1763.3L1559 1763.2L1561 1763.1L1563 1762.9L1565 1762.7L1567 1762.5L1569 1762.2L1571 1761.9L1573 1761.6L1575 1761.3L1577 1760.9L1579 1760.5L1581 1760.1L1583 1759.6L1585 1759.2L1587 1758.7L1589 1758.2L1591 1757.6L1593 1756.9L1595 1756L1597 1755.1L1599 1754.2L1601 1753.1L1603 1751.9L1605 1750.7L1607 1749.4L1609 1748L1611 1746.5L1613 1744.8L1615 1742.8L1617 1740.5L1619 1737.9L1621 1735.1L1623 1732.1L1625 1729L1627 1725.7L1629 1722.4L1631 1718.9L1633 1715L1635 1710.8L1637 1706.3L1639 1701.6L1641 1696.9L1643 1692L1645 1687L1647 1681.6L1649 1675.8L1651 1669.9L1653 1664L1655 1658.1L1657 1652.5L1659 1647.3L1661 1642.3L1663 1637.4L1665 1632.6L1667 1628.1L1669 1624L1671 1620.3L1673 1616.7L1675 1613L1677 1609.5L1679 1606.5L1681 1604.4L1683 1603.6L1685 1604.1L1687 1605.5L1689 1607.4L1691 1609.7L1693 1612.1L1695 1615.3L1697 1619.2L1699 1623.5L1701 1628.1L1703 1632.6L1705 1636.9L1707 1641.3L1709 1645.9L1711 1650.5L1713 1655.1L1715 1659.6L1717 1663.9L1719 1667.8L1721 1671.5L1723 1675.1L1725 1678.5L1727 1681.8L1729 1685L1731 1688L1733 1690.7L1735 1693.2L1737 1695.7L1739 1698.2L1741 1700.7L1743 1703L1745 1705.1L1747 1707L1749 1708.6L1751 1709.9L1753 1710.8L1755 1711.6L1757 1712.3L1759 1713L1761 1713.6L1763 1714.1L1765 1714.6L1767 1714.9L1769 1715.1L1771 1715.1L1773 1715L1775 1714.8L1777 1714.5L1779 1714.2L1781 1713.9L1783 1713.7L1785 1713.6L1787 1713.6L1789 1713.8L1791 1714.2L1793 1714.7L1795 1715.3L1797 1715.9L1799 1716.7L1801 1717.5L1803 1718.4L1805 1719.3L1807 1720.2L1809 1721L1811 1721.9L1813 1722.7L1815 1723.6L1817 1724.5L1819 1725.4L1821 1726.5L1823 1727.5L1825 1728.6L1827 1729.7L1829 1730.8L1831 1731.8L1833 1732.9L1835 1734L1837 1735L1839 1736L1841 1736.9L1843 1737.7L1845 1738.6L1847 1739.4L1849 1740.2L1851 1741L1853 1741.8L1855 1742.6L1857 1743.3L1859 1744L1861 1744.8L1863 1745.4L1865 1746.1L1867 1746.7L1869 1747.2L1871 1747.7L1873 1748.2L1875 1748.6L1877 1749.1L1879 1749.5L1881 1749.9L1883 1750.3L1885 1750.7L1887 1751.1L1889 1751.5L1891 1751.9L1893 1752.2L1895 1752.6L1897 1752.9L1899 1753.2L1901 1753.5L1903 1753.8L1905 1754L1907 1754.3L1909 1754.5L1911 1754.7L1913 1754.9L1915 1755L1917 1755.1L1919 1755.2L1921 1755.3L1923 1755.4L1925 1755.5L1927 1755.6L1929 1755.7L1931 1755.8L1933 1755.9L1935 1756L1937 1756L1939 1756.1L1941 1756.2L1943 1756.3L1945 1756.4L1947 1756.4L1949 1756.5L1951 1756.6L1953 1756.7L1955 1756.7L1957 1756.8L1959 1756.9L1961 1756.9L1963 1757L1965 1757.1L1967 1757.1L1969 1757.2L1971 1757.2L1973 1757.3L1975 1757.3L1977 1757.4L1979 1757.4L1981 1757.5L1983 1757.5L1985 1757.6L1987 1757.6L1989 1757.7L1991 1757.7L1993 1757.8L1995 1757.8L1997 1757.8L1999 1757.9L2001 1757.9L2003 1757.9L2005 1758L2007 1758L2009 1758L2011 1758L2013 1758.1L2015 1758.1L2017 1758.1L2019 1758.1L2021 1758.1L2023 1758.2L2025 1758.2L2027 1758.2L2029 1758.2L2031 1758.2L2033 1758.2L2035 1758.2L2037 1758.2" fill="none" stroke="#008c00" stroke-width="5.5" stroke-linejoin="round" stroke-linecap="round"/>
<line x1="1635.5" y1="980" x2="1635.5" y2="1786" stroke="#000000" stroke-width="1.6" stroke-dasharray="5.8 5"/>
<line x1="1661" y1="1230" x2="1661" y2="1786" stroke="#d42020" stroke-width="2.1" stroke-dasharray="5.8 5"/>
<line x1="1774" y1="1300" x2="1774" y2="1786" stroke="#d42020" stroke-width="2.1" stroke-dasharray="5.8 5"/>
<line x1="1672" y1="1440" x2="1672" y2="1786" stroke="#3c3cff" stroke-width="2.1" stroke-dasharray="5.8 5"/>
<line x1="1787.4" y1="1508" x2="1787.4" y2="1786" stroke="#3c3cff" stroke-width="2.1" stroke-dasharray="5.8 5"/>
<line x1="1682" y1="1610" x2="1682" y2="1786" stroke="#20a020" stroke-width="2.1" stroke-dasharray="5.8 5"/>
<line x1="1794" y1="1718" x2="1794" y2="1786" stroke="#20a020" stroke-width="2.1" stroke-dasharray="5.8 5"/>
<rect x="55.9" y="1.8" width="605.8" height="820" fill="none" stroke="#000" stroke-width="4.2"/>
<line x1="55.9" y1="411.8" x2="661.7" y2="411.8" stroke="#000" stroke-width="4.2"/>
<text x="78.9" y="881.4" fill="#000"><tspan font-size="42.3">366</tspan></text>
<text x="189.2" y="881.4" fill="#000"><tspan font-size="42.3">368</tspan></text>
<text x="299.3" y="881.4" fill="#000"><tspan font-size="42.3">370</tspan></text>
<text x="409.8" y="881.4" fill="#000"><tspan font-size="42.3">372</tspan></text>
<text x="519.1" y="881.4" fill="#000"><tspan font-size="42.3">374</tspan></text>
<text x="629.6" y="881.4" fill="#000"><tspan font-size="42.3">376</tspan></text>
<path d="M55.9 821.8v8M111 821.8v16M166 821.8v8M221.1 821.8v16M276.2 821.8v8M331.3 821.8v16M386.3 821.8v8M441.4 821.8v16M496.5 821.8v8M551.6 821.8v16M606.6 821.8v8M661.7 821.8v16" stroke="#000" stroke-width="4.2" fill="none"/>
<rect x="749.2" y="2.8" width="605.7" height="819.5" fill="none" stroke="#000" stroke-width="4.2"/>
<line x1="749.2" y1="412.6" x2="1354.9" y2="412.6" stroke="#000" stroke-width="4.2"/>
<text x="717.9" y="881.8" fill="#000"><tspan font-size="42.3">440</tspan></text>
<text x="799" y="881.8" fill="#000"><tspan font-size="42.3">442</tspan></text>
<text x="878.9" y="881.8" fill="#000"><tspan font-size="42.3">444</tspan></text>
<text x="960" y="881.8" fill="#000"><tspan font-size="42.3">446</tspan></text>
<text x="1040.9" y="881.8" fill="#000"><tspan font-size="42.3">448</tspan></text>
<text x="1121.7" y="881.8" fill="#000"><tspan font-size="42.3">450</tspan></text>
<text x="1202.8" y="881.8" fill="#000"><tspan font-size="42.3">452</tspan></text>
<text x="1282.7" y="881.8" fill="#000"><tspan font-size="42.3">454</tspan></text>
<path d="M749.2 822.2v16M789.6 822.2v8M830 822.2v16M870.3 822.2v8M910.7 822.2v16M951.1 822.2v8M991.5 822.2v16M1031.9 822.2v8M1072.2 822.2v16M1112.6 822.2v8M1153 822.2v16M1193.4 822.2v8M1233.8 822.2v16M1274.1 822.2v8M1314.5 822.2v16M1354.9 822.2v8" stroke="#000" stroke-width="4.2" fill="none"/>
<rect x="1433.8" y="3.7" width="605.9" height="819.5" fill="none" stroke="#000" stroke-width="4.2"/>
<line x1="1433.8" y1="413.4" x2="2039.7" y2="413.4" stroke="#000" stroke-width="4.2"/>
<text x="1466.2" y="882.7" fill="#000"><tspan font-size="42.3">1020</tspan></text>
<text x="1617.7" y="882.7" fill="#000"><tspan font-size="42.3">1030</tspan></text>
<text x="1769.1" y="882.7" fill="#000"><tspan font-size="42.3">1040</tspan></text>
<text x="1920.6" y="882.7" fill="#000"><tspan font-size="42.3">1050</tspan></text>
<path d="M1433.8 823.2v8M1509.5 823.2v16M1585.3 823.2v8M1661 823.2v16M1736.8 823.2v8M1812.5 823.2v16M1888.2 823.2v8M1964 823.2v16M2039.7 823.2v8" stroke="#000" stroke-width="4.2" fill="none"/>
<rect x="61.9" y="969.2" width="605.5" height="819.8" fill="none" stroke="#000" stroke-width="4.2"/>
<line x1="61.9" y1="1242.4" x2="667.4" y2="1242.4" stroke="#000" stroke-width="4.2"/>
<line x1="61.9" y1="1514.6" x2="667.4" y2="1514.6" stroke="#000" stroke-width="4.2"/>
<text x="104.8" y="1848.6" fill="#000"><tspan font-size="42.3">158</tspan></text>
<text x="256.2" y="1848.6" fill="#000"><tspan font-size="42.3">160</tspan></text>
<text x="407.9" y="1848.6" fill="#000"><tspan font-size="42.3">162</tspan></text>
<text x="558.5" y="1848.6" fill="#000"><tspan font-size="42.3">164</tspan></text>
<path d="M61.9 1789v8M137.6 1789v16M213.3 1789v8M289 1789v16M364.6 1789v8M440.3 1789v16M516 1789v8M591.7 1789v16M667.4 1789v8" stroke="#000" stroke-width="4.2" fill="none"/>
<rect x="741.3" y="966.4" width="605.4" height="819.8" fill="none" stroke="#000" stroke-width="4.2"/>
<line x1="741.3" y1="1171.3" x2="1346.7" y2="1171.3" stroke="#000" stroke-width="4.2"/>
<line x1="741.3" y1="1376.3" x2="1346.7" y2="1376.3" stroke="#000" stroke-width="4.2"/>
<line x1="741.3" y1="1581.3" x2="1346.7" y2="1581.3" stroke="#000" stroke-width="4.2"/>
<text x="709.8" y="1846.4" fill="#000"><tspan font-size="42.3">456</tspan></text>
<text x="810.9" y="1846.4" fill="#000"><tspan font-size="42.3">458</tspan></text>
<text x="911.8" y="1846.4" fill="#000"><tspan font-size="42.3">460</tspan></text>
<text x="1013" y="1846.4" fill="#000"><tspan font-size="42.3">462</tspan></text>
<text x="1113.1" y="1846.4" fill="#000"><tspan font-size="42.3">464</tspan></text>
<text x="1214.3" y="1846.4" fill="#000"><tspan font-size="42.3">466</tspan></text>
<text x="1315.4" y="1846.4" fill="#000"><tspan font-size="42.3">468</tspan></text>
<path d="M741.3 1786.2v16M791.8 1786.2v8M842.2 1786.2v16M892.6 1786.2v8M943.1 1786.2v16M993.5 1786.2v8M1044 1786.2v16M1094.5 1786.2v8M1144.9 1786.2v16M1195.3 1786.2v8M1245.8 1786.2v16M1296.2 1786.2v8M1346.7 1786.2v16" stroke="#000" stroke-width="4.2" fill="none"/>
<rect x="1434.6" y="968.2" width="605.5" height="819.6" fill="none" stroke="#000" stroke-width="4.2"/>
<line x1="1434.6" y1="1172.9" x2="2040.1" y2="1172.9" stroke="#000" stroke-width="4.2"/>
<line x1="1434.6" y1="1377.9" x2="2040.1" y2="1377.9" stroke="#000" stroke-width="4.2"/>
<line x1="1434.6" y1="1582.9" x2="2040.1" y2="1582.9" stroke="#000" stroke-width="4.2"/>
<text x="1402.3" y="1847.6" fill="#000"><tspan font-size="42.3">526</tspan></text>
<text x="1523.6" y="1847.6" fill="#000"><tspan font-size="42.3">528</tspan></text>
<text x="1644.7" y="1847.6" fill="#000"><tspan font-size="42.3">530</tspan></text>
<text x="1766.1" y="1847.6" fill="#000"><tspan font-size="42.3">532</tspan></text>
<text x="1886.4" y="1847.6" fill="#000"><tspan font-size="42.3">534</tspan></text>
<text x="2007.8" y="1847.6" fill="#000"><tspan font-size="42.3">536</tspan></text>
<path d="M1434.6 1787.8v16M1495.1 1787.8v8M1555.7 1787.8v16M1616.2 1787.8v8M1676.8 1787.8v16M1737.3 1787.8v8M1797.9 1787.8v16M1858.4 1787.8v8M1919 1787.8v16M1979.5 1787.8v8M2040.1 1787.8v16" stroke="#000" stroke-width="4.2" fill="none"/>
<text x="1.7" y="48.8" fill="#000"><tspan font-size="91">a</tspan></text>
<text x="685.8" y="64.8" fill="#000"><tspan font-size="91">b</tspan></text>
<text x="1370.2" y="46.9" fill="#000"><tspan font-size="91">c</tspan></text>
<text x="1.9" y="1029.9" fill="#000"><tspan font-size="91">d</tspan></text>
<text x="678.3" y="1010.9" fill="#000"><tspan font-size="91">e</tspan></text>
<text x="1375.1" y="1032.6" fill="#000"><tspan font-size="91">f</tspan></text>
<text x="59.7" y="48.9" fill="#000"><tspan font-size="46.5">Ag 3d</tspan></text>
<text x="758.2" y="56.8" fill="#000"><tspan font-size="50.6">In 3d</tspan></text>
<text x="1437.1" y="45.7" fill="#000"><tspan font-size="42.5">Zn 2p</tspan></text>
<text x="75.1" y="1020.4" fill="#000"><tspan font-size="43">S 2p</tspan></text>
<text x="745.9" y="1012.8" fill="#000"><tspan font-size="51">Ti 2p</tspan></text>
<text x="1443.3" y="1009.5" fill="#000"><tspan font-size="42.3">O 1s</tspan></text>
<text x="370.1" y="50.7" fill="#000"><tspan font-size="41.7">TiO</tspan><tspan font-size="30.9" dy="8">2</tspan><tspan font-size="41.7" dy="-8">/AgInS</tspan><tspan font-size="30.9" dy="8">2</tspan><tspan font-size="41.7" dy="-8">(3)</tspan></text>
<text x="246" y="461" fill="#000"><tspan font-size="41.7">TiO</tspan><tspan font-size="30.9" dy="8">2</tspan><tspan font-size="41.7" dy="-8">/AgInS</tspan><tspan font-size="30.9" dy="8">2</tspan><tspan font-size="41.7" dy="-8">(3)/ZnS(4)</tspan></text>
<text x="1067.1" y="45" fill="#000"><tspan font-size="41.7">TiO</tspan><tspan font-size="30.9" dy="8">2</tspan><tspan font-size="41.7" dy="-8">/AgInS</tspan><tspan font-size="30.9" dy="8">2</tspan><tspan font-size="41.7" dy="-8">(3)</tspan></text>
<text x="937.4" y="462.9" fill="#000"><tspan font-size="41.7">TiO</tspan><tspan font-size="30.9" dy="8">2</tspan><tspan font-size="41.7" dy="-8">/AgInS</tspan><tspan font-size="30.9" dy="8">2</tspan><tspan font-size="41.7" dy="-8">(3)/ZnS(4)</tspan></text>
<text x="1628.2" y="45.4" fill="#000"><tspan font-size="41.7">TiO</tspan><tspan font-size="30.9" dy="8">2</tspan><tspan font-size="41.7" dy="-8">/AgInS</tspan><tspan font-size="30.9" dy="8">2</tspan><tspan font-size="41.7" dy="-8">(3)/ZnS(4)</tspan></text>
<text x="1814.4" y="462.9" fill="#000"><tspan font-size="41.7">TiO</tspan><tspan font-size="30.9" dy="8">2</tspan><tspan font-size="41.7" dy="-8">/ZnS(4)</tspan></text>
<text x="387.9" y="1016.8" fill="#000"><tspan font-size="41.7">TiO</tspan><tspan font-size="30.9" dy="8">2</tspan><tspan font-size="41.7" dy="-8">/AgInS</tspan><tspan font-size="30.9" dy="8">2</tspan><tspan font-size="41.7" dy="-8">(3)</tspan></text>
<text x="258.2" y="1287.3" fill="#000"><tspan font-size="41.7">TiO</tspan><tspan font-size="30.9" dy="8">2</tspan><tspan font-size="41.7" dy="-8">/AgInS</tspan><tspan font-size="30.9" dy="8">2</tspan><tspan font-size="41.7" dy="-8">(3)/ZnS(4)</tspan></text>
<text x="446.2" y="1561.5" fill="#000"><tspan font-size="41.7">TiO</tspan><tspan font-size="30.9" dy="8">2</tspan><tspan font-size="41.7" dy="-8">/ZnS(4)</tspan></text>
<text x="1243.2" y="1009.7" fill="#000"><tspan font-size="41.7">TiO</tspan><tspan font-size="30.9" dy="12">2</tspan></text>
<text x="1067.9" y="1217.7" fill="#000"><tspan font-size="41.7">TiO</tspan><tspan font-size="30.9" dy="10">2</tspan><tspan font-size="41.7" dy="-10">/AgInS</tspan><tspan font-size="30.9" dy="10">2</tspan><tspan font-size="41.7" dy="-10">(3)</tspan></text>
<text x="939.9" y="1421.2" fill="#000"><tspan font-size="41.7">TiO</tspan><tspan font-size="30.9" dy="10">2</tspan><tspan font-size="41.7" dy="-10">/AgInS</tspan><tspan font-size="30.9" dy="10">2</tspan><tspan font-size="41.7" dy="-10">(3)/ZnS(4)</tspan></text>
<text x="1126.1" y="1626.2" fill="#000"><tspan font-size="41.7">TiO</tspan><tspan font-size="30.9" dy="10">2</tspan><tspan font-size="41.7" dy="-10">/ZnS(4)</tspan></text>
<text x="1951" y="1009.9" fill="#000"><tspan font-size="41.7">TiO</tspan><tspan font-size="30.9" dy="12">2</tspan></text>
<text x="1768.3" y="1217.7" fill="#000"><tspan font-size="41.7">TiO</tspan><tspan font-size="30.9" dy="10">2</tspan><tspan font-size="41.7" dy="-10">/AgInS</tspan><tspan font-size="30.9" dy="10">2</tspan><tspan font-size="41.7" dy="-10">(3)</tspan></text>
<text x="1642.1" y="1421.2" fill="#000"><tspan font-size="41.7">TiO</tspan><tspan font-size="30.9" dy="10">2</tspan><tspan font-size="41.7" dy="-10">/AgInS</tspan><tspan font-size="30.9" dy="10">2</tspan><tspan font-size="41.7" dy="-10">(3)/ZnS(4)</tspan></text>
<text x="1821.4" y="1626.2" fill="#000"><tspan font-size="41.7">TiO</tspan><tspan font-size="30.9" dy="10">2</tspan><tspan font-size="41.7" dy="-10">/ZnS(4)</tspan></text>
<text x="232.4" y="163.6" fill="#000"><tspan font-size="34.3">367.5eV</tspan></text>
<text x="525.8" y="150" fill="#000"><tspan font-size="34.3">373.5eV</tspan></text>
<text x="242.9" y="562" fill="#000"><tspan font-size="34.3">367.7eV</tspan></text>
<text x="531.1" y="555" fill="#000"><tspan font-size="34.3">373.7eV</tspan></text>
<text x="966" y="155" fill="#000"><tspan font-size="34.3">444.9eV</tspan></text>
<text x="1201.3" y="152.4" fill="#000"><tspan font-size="34.3">452.4eV</tspan></text>
<text x="966" y="577.8" fill="#000"><tspan font-size="34.3">444.9eV</tspan></text>
<text x="1205.9" y="576.2" fill="#000"><tspan font-size="34.3">452.4eV</tspan></text>
<text x="1548.6" y="134.3" fill="#000"><tspan font-size="34.3">1021.6eV</tspan></text>
<text x="1896.2" y="171.6" fill="#000"><tspan font-size="34.3">1044.8eV</tspan></text>
<text x="1545.1" y="544.8" fill="#000"><tspan font-size="34.3">1021.6eV</tspan></text>
<text x="1899.7" y="600.6" fill="#000"><tspan font-size="34.3">1044.8eV</tspan></text>
<text x="302.6" y="1104" fill="#000"><tspan font-size="34.3">160.9eV</tspan></text>
<text x="424.9" y="1142.4" fill="#000"><tspan font-size="34.3">162.0eV</tspan></text>
<text x="372.5" y="1697.1" fill="#000"><tspan font-size="34.3">161.8eV</tspan></text>
<text x="513.2" y="1718.4" fill="#000"><tspan font-size="34.3">163.0eV</tspan></text>
<text x="869.6" y="1043.5" fill="#000"><tspan font-size="41.4">458.2eV</tspan></text>
<text x="1139.6" y="1099.8" fill="#000"><tspan font-size="41.4">463.8eV</tspan></text>
<text x="891.6" y="1280.3" fill="#000"><tspan font-size="41.4">458.5eV</tspan></text>
<text x="1159.5" y="1302.4" fill="#000"><tspan font-size="41.4">464.3eV</tspan></text>
<text x="911.5" y="1484.6" fill="#000"><tspan font-size="41.4">458.7eV</tspan></text>
<text x="1169.2" y="1496.8" fill="#000"><tspan font-size="41.4">464.5eV</tspan></text>
<text x="910.4" y="1693.5" fill="#000"><tspan font-size="41.4">458.7eV</tspan></text>
<text x="1181.2" y="1722.1" fill="#000"><tspan font-size="41.4">464.5eV</tspan></text>
<text x="1451.4" y="1081.3" fill="#000"><tspan font-size="41.4">529.6eV</tspan></text>
<text x="1468.9" y="1282.8" fill="#000"><tspan font-size="41.4">529.8eV</tspan></text>
<text x="1848.9" y="1310" fill="#000"><tspan font-size="41.4">531.6eV</tspan></text>
<text x="1472.4" y="1483.8" fill="#000"><tspan font-size="41.4">529.9eV</tspan></text>
<text x="1841.9" y="1493.3" fill="#000"><tspan font-size="41.4">531.8eV</tspan></text>
<text x="1475.2" y="1695.9" fill="#000"><tspan font-size="41.4">530.1eV</tspan></text>
<text x="1855.9" y="1715.1" fill="#000"><tspan font-size="41.4">531.9eV</tspan></text>
<text x="1785.7" y="1280.5" fill="#000"><tspan font-size="41.4">O</tspan><tspan font-size="30.6" dy="10">A</tspan></text>
<text x="1772.8" y="1484.6" fill="#000"><tspan font-size="41.4">O</tspan><tspan font-size="30.6" dy="10">A</tspan></text>
<text x="1792.7" y="1692.4" fill="#000"><tspan font-size="41.4">O</tspan><tspan font-size="30.6" dy="10">A</tspan></text>
<text x="143.7" y="932.2" font-weight="bold" fill="#000"><tspan font-size="49.5">Binding Energy / eV</tspan></text>
<text x="815.1" y="932.5" font-weight="bold" fill="#000"><tspan font-size="49.5">Binding Energy / eV</tspan></text>
<text x="1521.4" y="933.5" font-weight="bold" fill="#000"><tspan font-size="49.5">Binding Energy / eV</tspan></text>
<text x="146.2" y="1891.7" font-weight="bold" fill="#000"><tspan font-size="49.5">Binding Energy / eV</tspan></text>
<text x="829.9" y="1892.5" font-weight="bold" fill="#000"><tspan font-size="49.5">Binding Energy / eV</tspan></text>
<text x="1500.4" y="1898.2" font-weight="bold" fill="#000"><tspan font-size="49.5">Binding Energy / eV</tspan></text>
<text transform="translate(33.5 418.6) rotate(-90)" x="-151" y="0" font-weight="bold" font-size="49.5">Intensity / a.u.</text>
<text transform="translate(722 405.1) rotate(-90)" x="-151" y="0" font-weight="bold" font-size="49.5">Intensity / a.u.</text>
<text transform="translate(1410.2 389.9) rotate(-90)" x="-151" y="0" font-weight="bold" font-size="49.5">Intensity / a.u.</text>
<text transform="translate(39 1376.7) rotate(-90)" x="-151" y="0" font-weight="bold" font-size="49.5">Intensity / a.u.</text>
<text transform="translate(716.5 1384.3) rotate(-90)" x="-151" y="0" font-weight="bold" font-size="49.5">Intensity / a.u.</text>
<text transform="translate(1410.9 1358.3) rotate(-90)" x="-151" y="0" font-weight="bold" font-size="49.5">Intensity / a.u.</text></svg></body></html>
